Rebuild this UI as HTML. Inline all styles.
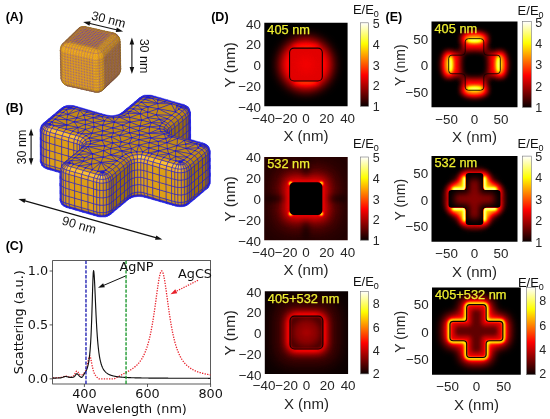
<!DOCTYPE html><html><head><meta charset="utf-8"><title>Figure</title><style>html,body{margin:0;padding:0;background:#fff}svg{display:block}</style></head><body><svg width="550" height="419" viewBox="0 0 550 419"><defs><filter id="hot" filterUnits="userSpaceOnUse" x="0" y="0" width="550" height="419" color-interpolation-filters="sRGB"><feComponentTransfer><feFuncR type="table" tableValues="0.000 0.083 0.167 0.250 0.333 0.417 0.500 0.583 0.667 0.750 0.833 0.917 1.000 1.000 1.000 1.000 1.000 1.000 1.000 1.000 1.000 1.000 1.000 1.000 1.000 1.000 1.000 1.000 1.000 1.000 1.000 1.000 1.000"/><feFuncG type="table" tableValues="0.000 0.000 0.000 0.000 0.000 0.000 0.000 0.000 0.000 0.000 0.000 0.000 0.000 0.083 0.167 0.250 0.333 0.417 0.500 0.583 0.667 0.750 0.833 0.917 1.000 1.000 1.000 1.000 1.000 1.000 1.000 1.000 1.000"/><feFuncB type="table" tableValues="0.000 0.000 0.000 0.000 0.000 0.000 0.000 0.000 0.000 0.000 0.000 0.000 0.000 0.000 0.000 0.000 0.000 0.000 0.000 0.000 0.000 0.000 0.000 0.000 0.000 0.125 0.250 0.375 0.500 0.625 0.750 0.875 1.000"/></feComponentTransfer></filter><filter id="b0_6" filterUnits="userSpaceOnUse" x="0" y="0" width="550" height="419" color-interpolation-filters="sRGB"><feGaussianBlur stdDeviation="0.6"/></filter><filter id="b1" filterUnits="userSpaceOnUse" x="0" y="0" width="550" height="419" color-interpolation-filters="sRGB"><feGaussianBlur stdDeviation="1"/></filter><filter id="b1_5" filterUnits="userSpaceOnUse" x="0" y="0" width="550" height="419" color-interpolation-filters="sRGB"><feGaussianBlur stdDeviation="1.5"/></filter><filter id="b2" filterUnits="userSpaceOnUse" x="0" y="0" width="550" height="419" color-interpolation-filters="sRGB"><feGaussianBlur stdDeviation="2"/></filter><filter id="b3" filterUnits="userSpaceOnUse" x="0" y="0" width="550" height="419" color-interpolation-filters="sRGB"><feGaussianBlur stdDeviation="3"/></filter><filter id="b4" filterUnits="userSpaceOnUse" x="0" y="0" width="550" height="419" color-interpolation-filters="sRGB"><feGaussianBlur stdDeviation="4"/></filter><filter id="b5" filterUnits="userSpaceOnUse" x="0" y="0" width="550" height="419" color-interpolation-filters="sRGB"><feGaussianBlur stdDeviation="5"/></filter><filter id="b6" filterUnits="userSpaceOnUse" x="0" y="0" width="550" height="419" color-interpolation-filters="sRGB"><feGaussianBlur stdDeviation="6"/></filter><filter id="b8" filterUnits="userSpaceOnUse" x="0" y="0" width="550" height="419" color-interpolation-filters="sRGB"><feGaussianBlur stdDeviation="8"/></filter><linearGradient id="cbar" x1="0" y1="1" x2="0" y2="0"><stop offset="0" stop-color="#0a0000"/><stop offset="0.375" stop-color="#ff0000"/><stop offset="0.75" stop-color="#ffff00"/><stop offset="1" stop-color="#ffffff"/></linearGradient><clipPath id="clipD0"><rect x="264.30" y="22.80" width="83.30" height="83.50"/></clipPath><clipPath id="clipD1"><rect x="264.20" y="157.00" width="83.50" height="83.20"/></clipPath><radialGradient id="d3in"><stop offset="0" stop-color="#404040"/><stop offset="0.6" stop-color="#333333"/><stop offset="1" stop-color="#1f1f1f"/></radialGradient><clipPath id="clipD2"><rect x="264.80" y="291.30" width="83.30" height="82.60"/></clipPath><clipPath id="clipE0"><rect x="431.50" y="21.60" width="86.00" height="85.70"/></clipPath><clipPath id="clipE1"><rect x="431.50" y="156.10" width="86.00" height="85.60"/></clipPath><clipPath id="clipE2"><rect x="432.00" y="287.40" width="88.80" height="87.30"/></clipPath><clipPath id="clipC"><rect x="52.60" y="260.60" width="158.00" height="123.40"/></clipPath><filter id="ol" filterUnits="userSpaceOnUse" x="20" y="80" width="210" height="150"><feMorphology in="SourceAlpha" operator="dilate" radius="0.7" result="d"/><feFlood flood-color="#1c1ce0"/><feComposite in2="d" operator="in" result="o"/><feMerge><feMergeNode in="o"/><feMergeNode in="SourceGraphic"/></feMerge></filter></defs><rect width="550" height="419" fill="#fff"/><g clip-path="url(#clipD0)"><g filter="url(#hot)"><rect x="259.30" y="17.80" width="93.30" height="93.50" fill="#000000"/><g filter="url(#b6)"><circle cx="305.95" cy="64.55" r="26.00" fill="#6b6b6b"/></g><g filter="url(#b2)"><ellipse cx="305.95" cy="82.45" rx="13.12" ry="2.2" fill="#787878"/><ellipse cx="305.95" cy="46.65" rx="13.12" ry="2.2" fill="#6b6b6b"/></g><rect x="289.55" y="48.15" width="32.80" height="32.80" rx="4.00" fill="#555555" /><g filter="url(#b4)"><circle cx="305.95" cy="64.55" r="8" fill="#5c5c5c"/></g></g><rect x="289.55" y="48.15" width="32.80" height="32.80" rx="4.50" fill="none" stroke="#100" stroke-width="1.1"/></g>
<text x="267.3" y="34.0" font-family="'Liberation Sans', sans-serif" font-size="12.8" fill="#eeee30" stroke="#eeee30" stroke-width="0.25">405 nm</text>
<text x="263.6" y="122.6" font-family="'Liberation Sans', sans-serif" font-size="13.4" fill="#262626" text-anchor="middle">−40</text>
<text x="286.0" y="122.6" font-family="'Liberation Sans', sans-serif" font-size="13.4" fill="#262626" text-anchor="middle">−20</text>
<text x="305.9" y="122.6" font-family="'Liberation Sans', sans-serif" font-size="13.4" fill="#262626" text-anchor="middle">0</text>
<text x="326.8" y="122.6" font-family="'Liberation Sans', sans-serif" font-size="13.4" fill="#262626" text-anchor="middle">20</text>
<text x="347.6" y="122.6" font-family="'Liberation Sans', sans-serif" font-size="13.4" fill="#262626" text-anchor="middle">40</text>
<text x="261.0" y="28.5" font-family="'Liberation Sans', sans-serif" font-size="13.4" fill="#262626" text-anchor="end">40</text>
<text x="261.0" y="49.3" font-family="'Liberation Sans', sans-serif" font-size="13.4" fill="#262626" text-anchor="end">20</text>
<text x="261.0" y="70.1" font-family="'Liberation Sans', sans-serif" font-size="13.4" fill="#262626" text-anchor="end">0</text>
<text x="261.0" y="91.0" font-family="'Liberation Sans', sans-serif" font-size="13.4" fill="#262626" text-anchor="end">−20</text>
<text x="261.0" y="111.8" font-family="'Liberation Sans', sans-serif" font-size="13.4" fill="#262626" text-anchor="end">−40</text>
<text x="305.9" y="141.3" font-family="'Liberation Sans', sans-serif" font-size="15" fill="#262626" text-anchor="middle">X (nm)</text>
<text transform="translate(235.4 64.8) rotate(-90)" font-family="'Liberation Sans', sans-serif" font-size="15.2" fill="#262626" text-anchor="middle">Y (nm)</text>
<rect x="360.40" y="22.80" width="8.30" height="83.50" fill="url(#cbar)" stroke="#777" stroke-width="0.6"/>
<text x="372.7" y="111.2" font-family="'Liberation Sans', sans-serif" font-size="12.5" fill="#262626">1</text>
<text x="372.7" y="90.3" font-family="'Liberation Sans', sans-serif" font-size="12.5" fill="#262626">2</text>
<text x="372.7" y="69.5" font-family="'Liberation Sans', sans-serif" font-size="12.5" fill="#262626">3</text>
<text x="372.7" y="48.6" font-family="'Liberation Sans', sans-serif" font-size="12.5" fill="#262626">4</text>
<text x="372.7" y="27.7" font-family="'Liberation Sans', sans-serif" font-size="12.5" fill="#262626">5</text>
<text x="352.9" y="14.4" font-family="'Liberation Sans', sans-serif" font-size="13" fill="#111">E/E<tspan font-size="9" dy="3">0</tspan></text>
<g clip-path="url(#clipD1)"><g filter="url(#hot)"><rect x="259.20" y="152.00" width="93.50" height="93.20" fill="#0e0e0e"/><g filter="url(#b8)"><rect x="276.55" y="169.20" width="58.80" height="58.80" rx="16.00" fill="#333333" /></g><g filter="url(#b4)"><rect x="285.05" y="177.70" width="41.80" height="41.80" rx="6.00" fill="#5c5c5c" /></g><g filter="url(#b1_5)"><rect x="289.05" y="181.70" width="33.80" height="33.80" rx="5.00" fill="none" stroke="#5c5c5c" stroke-width="1.6"/></g><g filter="url(#b1)"><circle cx="290.75" cy="183.40" r="1.7" fill="#ffffff"/><circle cx="290.75" cy="213.80" r="1.7" fill="#ffffff"/><circle cx="321.15" cy="183.40" r="1.7" fill="#ffffff"/><circle cx="321.15" cy="213.80" r="1.7" fill="#ffffff"/></g><g filter="url(#b3)"><ellipse cx="274.55" cy="198.60" rx="9.2" ry="2.2" fill="#000000"/><ellipse cx="337.35" cy="198.60" rx="9.2" ry="2.2" fill="#000000"/><ellipse cx="305.95" cy="167.20" rx="2.2" ry="9.2" fill="#000000"/><ellipse cx="305.95" cy="230.00" rx="2.2" ry="9.2" fill="#000000"/></g><g filter="url(#b0_6)"><rect x="289.55" y="182.20" width="32.80" height="32.80" rx="4.50" fill="#000000" /></g></g></g>
<text x="267.2" y="168.2" font-family="'Liberation Sans', sans-serif" font-size="12.8" fill="#eeee30" stroke="#eeee30" stroke-width="0.25">532 nm</text>
<text x="263.5" y="256.5" font-family="'Liberation Sans', sans-serif" font-size="13.4" fill="#262626" text-anchor="middle">−40</text>
<text x="286.0" y="256.5" font-family="'Liberation Sans', sans-serif" font-size="13.4" fill="#262626" text-anchor="middle">−20</text>
<text x="305.9" y="256.5" font-family="'Liberation Sans', sans-serif" font-size="13.4" fill="#262626" text-anchor="middle">0</text>
<text x="326.8" y="256.5" font-family="'Liberation Sans', sans-serif" font-size="13.4" fill="#262626" text-anchor="middle">20</text>
<text x="347.7" y="256.5" font-family="'Liberation Sans', sans-serif" font-size="13.4" fill="#262626" text-anchor="middle">40</text>
<text x="260.9" y="162.4" font-family="'Liberation Sans', sans-serif" font-size="13.4" fill="#262626" text-anchor="end">40</text>
<text x="260.9" y="183.3" font-family="'Liberation Sans', sans-serif" font-size="13.4" fill="#262626" text-anchor="end">20</text>
<text x="260.9" y="204.2" font-family="'Liberation Sans', sans-serif" font-size="13.4" fill="#262626" text-anchor="end">0</text>
<text x="260.9" y="225.1" font-family="'Liberation Sans', sans-serif" font-size="13.4" fill="#262626" text-anchor="end">−20</text>
<text x="260.9" y="245.9" font-family="'Liberation Sans', sans-serif" font-size="13.4" fill="#262626" text-anchor="end">−40</text>
<text x="305.9" y="275.2" font-family="'Liberation Sans', sans-serif" font-size="15" fill="#262626" text-anchor="middle">X (nm)</text>
<text transform="translate(235.4 198.8) rotate(-90)" font-family="'Liberation Sans', sans-serif" font-size="15.2" fill="#262626" text-anchor="middle">Y (nm)</text>
<rect x="360.40" y="157.00" width="8.30" height="83.20" fill="url(#cbar)" stroke="#777" stroke-width="0.6"/>
<text x="372.7" y="245.1" font-family="'Liberation Sans', sans-serif" font-size="12.5" fill="#262626">1</text>
<text x="372.7" y="224.3" font-family="'Liberation Sans', sans-serif" font-size="12.5" fill="#262626">2</text>
<text x="372.7" y="203.5" font-family="'Liberation Sans', sans-serif" font-size="12.5" fill="#262626">3</text>
<text x="372.7" y="182.7" font-family="'Liberation Sans', sans-serif" font-size="12.5" fill="#262626">4</text>
<text x="372.7" y="161.9" font-family="'Liberation Sans', sans-serif" font-size="12.5" fill="#262626">5</text>
<text x="352.9" y="147.7" font-family="'Liberation Sans', sans-serif" font-size="13" fill="#111">E/E<tspan font-size="9" dy="3">0</tspan></text>
<g clip-path="url(#clipD2)"><g filter="url(#hot)"><rect x="259.80" y="286.30" width="93.30" height="92.60" fill="#050505"/><g filter="url(#b8)"><rect x="276.05" y="302.20" width="60.80" height="60.80" rx="14.00" fill="#212121" /></g><g filter="url(#b4)"><rect x="287.05" y="313.20" width="38.80" height="38.80" rx="8.00" fill="#858585" /></g><g filter="url(#b1)"><rect x="290.05" y="316.20" width="32.80" height="32.80" rx="4.50" fill="url(#d3in)" /></g></g><rect x="290.05" y="316.20" width="32.80" height="32.80" rx="4.50" fill="none" stroke="#100" stroke-width="1.2"/></g>
<text x="267.8" y="302.5" font-family="'Liberation Sans', sans-serif" font-size="12.8" fill="#eeee30" stroke="#eeee30" stroke-width="0.25">405+532 nm</text>
<text x="264.1" y="390.2" font-family="'Liberation Sans', sans-serif" font-size="13.4" fill="#262626" text-anchor="middle">−40</text>
<text x="286.5" y="390.2" font-family="'Liberation Sans', sans-serif" font-size="13.4" fill="#262626" text-anchor="middle">−20</text>
<text x="306.4" y="390.2" font-family="'Liberation Sans', sans-serif" font-size="13.4" fill="#262626" text-anchor="middle">0</text>
<text x="327.3" y="390.2" font-family="'Liberation Sans', sans-serif" font-size="13.4" fill="#262626" text-anchor="middle">20</text>
<text x="348.1" y="390.2" font-family="'Liberation Sans', sans-serif" font-size="13.4" fill="#262626" text-anchor="middle">40</text>
<text x="261.5" y="296.6" font-family="'Liberation Sans', sans-serif" font-size="13.4" fill="#262626" text-anchor="end">40</text>
<text x="261.5" y="317.4" font-family="'Liberation Sans', sans-serif" font-size="13.4" fill="#262626" text-anchor="end">20</text>
<text x="261.5" y="338.2" font-family="'Liberation Sans', sans-serif" font-size="13.4" fill="#262626" text-anchor="end">0</text>
<text x="261.5" y="359.0" font-family="'Liberation Sans', sans-serif" font-size="13.4" fill="#262626" text-anchor="end">−20</text>
<text x="261.5" y="379.9" font-family="'Liberation Sans', sans-serif" font-size="13.4" fill="#262626" text-anchor="end">−40</text>
<text x="306.4" y="408.9" font-family="'Liberation Sans', sans-serif" font-size="15" fill="#262626" text-anchor="middle">X (nm)</text>
<text transform="translate(235.4 332.8) rotate(-90)" font-family="'Liberation Sans', sans-serif" font-size="15.2" fill="#262626" text-anchor="middle">Y (nm)</text>
<rect x="360.40" y="291.30" width="8.30" height="82.60" fill="url(#cbar)" stroke="#777" stroke-width="0.6"/>
<text x="372.7" y="377.6" font-family="'Liberation Sans', sans-serif" font-size="12.5" fill="#262626">2</text>
<text x="372.7" y="354.8" font-family="'Liberation Sans', sans-serif" font-size="12.5" fill="#262626">4</text>
<text x="372.7" y="331.5" font-family="'Liberation Sans', sans-serif" font-size="12.5" fill="#262626">6</text>
<text x="372.7" y="308.4" font-family="'Liberation Sans', sans-serif" font-size="12.5" fill="#262626">8</text>
<text x="352.9" y="285.8" font-family="'Liberation Sans', sans-serif" font-size="13" fill="#111">E/E<tspan font-size="9" dy="3">0</tspan></text>
<g clip-path="url(#clipE0)"><g filter="url(#hot)"><rect x="426.50" y="16.60" width="96.00" height="95.70" fill="#000000"/><g filter="url(#b3)"><rect x="488.80" y="55.15" width="11.50" height="18.60" fill="#5c5c5c" stroke="#666666" stroke-width="5"/><rect x="448.70" y="55.15" width="11.50" height="18.60" fill="#5c5c5c" stroke="#666666" stroke-width="5"/><rect x="465.20" y="78.75" width="18.60" height="11.50" fill="#5c5c5c" stroke="#666666" stroke-width="5"/><rect x="465.20" y="38.65" width="18.60" height="11.50" fill="#5c5c5c" stroke="#666666" stroke-width="5"/></g><g filter="url(#b3)"><ellipse cx="500.80" cy="64.45" rx="5.50" ry="12.30" fill="#9e9e9e"/><ellipse cx="448.20" cy="64.45" rx="5.50" ry="12.30" fill="#9e9e9e"/><ellipse cx="474.50" cy="90.75" rx="12.30" ry="5.50" fill="#9e9e9e"/><ellipse cx="474.50" cy="38.15" rx="12.30" ry="5.50" fill="#9e9e9e"/></g><g filter="url(#b1_5)"><ellipse cx="498.50" cy="64.45" rx="2.00" ry="8.10" fill="#e6e6e6"/><ellipse cx="450.50" cy="64.45" rx="2.00" ry="8.10" fill="#e6e6e6"/><ellipse cx="474.50" cy="88.45" rx="8.10" ry="2.00" fill="#e6e6e6"/><ellipse cx="474.50" cy="40.45" rx="8.10" ry="2.00" fill="#e6e6e6"/></g><g filter="url(#b4)"><rect x="462.20" y="52.15" width="24.60" height="24.60" rx="4.00" fill="#000000" /></g></g><path d="M465.20 41.85 Q465.20 38.65 468.40 38.65 L480.60 38.65 Q483.80 38.65 483.80 41.85 L483.80 51.95 Q483.80 55.15 487.00 55.15 L497.10 55.15 Q500.30 55.15 500.30 58.35 L500.30 70.55 Q500.30 73.75 497.10 73.75 L487.00 73.75 Q483.80 73.75 483.80 76.95 L483.80 87.05 Q483.80 90.25 480.60 90.25 L468.40 90.25 Q465.20 90.25 465.20 87.05 L465.20 76.95 Q465.20 73.75 462.00 73.75 L451.90 73.75 Q448.70 73.75 448.70 70.55 L448.70 58.35 Q448.70 55.15 451.90 55.15 L462.00 55.15 Q465.20 55.15 465.20 51.95 Z" fill="none" stroke="#100" stroke-width="0.9"/></g>
<text x="434.5" y="32.8" font-family="'Liberation Sans', sans-serif" font-size="12.8" fill="#eeee30" stroke="#eeee30" stroke-width="0.25">405 nm</text>
<text x="446.5" y="123.6" font-family="'Liberation Sans', sans-serif" font-size="13.4" fill="#262626" text-anchor="middle">−50</text>
<text x="474.5" y="123.6" font-family="'Liberation Sans', sans-serif" font-size="13.4" fill="#262626" text-anchor="middle">0</text>
<text x="501.0" y="123.6" font-family="'Liberation Sans', sans-serif" font-size="13.4" fill="#262626" text-anchor="middle">50</text>
<text x="428.2" y="43.5" font-family="'Liberation Sans', sans-serif" font-size="13.4" fill="#262626" text-anchor="end">50</text>
<text x="428.2" y="70.0" font-family="'Liberation Sans', sans-serif" font-size="13.4" fill="#262626" text-anchor="end">0</text>
<text x="428.2" y="96.6" font-family="'Liberation Sans', sans-serif" font-size="13.4" fill="#262626" text-anchor="end">−50</text>
<text x="474.5" y="142.3" font-family="'Liberation Sans', sans-serif" font-size="15" fill="#262626" text-anchor="middle">X (nm)</text>
<text transform="translate(404.6 65.2) rotate(-90)" font-family="'Liberation Sans', sans-serif" font-size="14" fill="#262626" text-anchor="middle">Y (nm)</text>
<rect x="522.60" y="21.60" width="8.70" height="85.70" fill="url(#cbar)" stroke="#777" stroke-width="0.6"/>
<text x="535.3" y="112.2" font-family="'Liberation Sans', sans-serif" font-size="12.5" fill="#262626">1</text>
<text x="535.3" y="90.8" font-family="'Liberation Sans', sans-serif" font-size="12.5" fill="#262626">2</text>
<text x="535.3" y="69.4" font-family="'Liberation Sans', sans-serif" font-size="12.5" fill="#262626">3</text>
<text x="535.3" y="47.9" font-family="'Liberation Sans', sans-serif" font-size="12.5" fill="#262626">4</text>
<text x="535.3" y="26.5" font-family="'Liberation Sans', sans-serif" font-size="12.5" fill="#262626">5</text>
<text x="517.6" y="14.9" font-family="'Liberation Sans', sans-serif" font-size="13" fill="#111">E/E<tspan font-size="9" dy="3">0</tspan></text>
<g clip-path="url(#clipE1)"><g filter="url(#hot)"><rect x="426.50" y="151.10" width="96.00" height="95.60" fill="#000000"/><g filter="url(#b3)"><path d="M463.20 174.40 Q463.20 170.40 467.20 170.40 L481.80 170.40 Q485.80 170.40 485.80 174.40 L485.80 183.60 Q485.80 187.60 489.80 187.60 L499.00 187.60 Q503.00 187.60 503.00 191.60 L503.00 206.20 Q503.00 210.20 499.00 210.20 L489.80 210.20 Q485.80 210.20 485.80 214.20 L485.80 223.40 Q485.80 227.40 481.80 227.40 L467.20 227.40 Q463.20 227.40 463.20 223.40 L463.20 214.20 Q463.20 210.20 459.20 210.20 L450.00 210.20 Q446.00 210.20 446.00 206.20 L446.00 191.60 Q446.00 187.60 450.00 187.60 L459.20 187.60 Q463.20 187.60 463.20 183.60 Z" fill="#4c4c4c"/></g><g filter="url(#b4)"><circle cx="474.50" cy="198.90" r="24.70" fill="#808080"/></g><g filter="url(#b3)"><path d="M464.90 178.30 L464.90 189.30 L453.90 189.30" fill="none" stroke="#b2b2b2" stroke-width="8" stroke-linejoin="round" stroke-linecap="round"/><path d="M464.90 219.50 L464.90 208.50 L453.90 208.50" fill="none" stroke="#b2b2b2" stroke-width="8" stroke-linejoin="round" stroke-linecap="round"/><path d="M484.10 178.30 L484.10 189.30 L495.10 189.30" fill="none" stroke="#b2b2b2" stroke-width="8" stroke-linejoin="round" stroke-linecap="round"/><path d="M484.10 219.50 L484.10 208.50 L495.10 208.50" fill="none" stroke="#b2b2b2" stroke-width="8" stroke-linejoin="round" stroke-linecap="round"/></g><g filter="url(#b1)"><path d="M464.90 178.30 L464.90 189.30 L453.90 189.30" fill="none" stroke="#ffffff" stroke-width="3" stroke-linejoin="round" stroke-linecap="round"/><path d="M464.90 219.50 L464.90 208.50 L453.90 208.50" fill="none" stroke="#ffffff" stroke-width="3" stroke-linejoin="round" stroke-linecap="round"/><path d="M484.10 178.30 L484.10 189.30 L495.10 189.30" fill="none" stroke="#ffffff" stroke-width="3" stroke-linejoin="round" stroke-linecap="round"/><path d="M484.10 219.50 L484.10 208.50 L495.10 208.50" fill="none" stroke="#ffffff" stroke-width="3" stroke-linejoin="round" stroke-linecap="round"/></g><g filter="url(#b0_6)"><path d="M465.70 176.10 Q465.70 172.90 468.90 172.90 L480.10 172.90 Q483.30 172.90 483.30 176.10 L483.30 186.90 Q483.30 190.10 486.50 190.10 L497.30 190.10 Q500.50 190.10 500.50 193.30 L500.50 204.50 Q500.50 207.70 497.30 207.70 L486.50 207.70 Q483.30 207.70 483.30 210.90 L483.30 221.70 Q483.30 224.90 480.10 224.90 L468.90 224.90 Q465.70 224.90 465.70 221.70 L465.70 210.90 Q465.70 207.70 462.50 207.70 L451.70 207.70 Q448.50 207.70 448.50 204.50 L448.50 193.30 Q448.50 190.10 451.70 190.10 L462.50 190.10 Q465.70 190.10 465.70 186.90 Z" fill="#000000"/></g><g filter="url(#b3)"><path d="M469.20 180.90 Q469.20 178.90 471.20 178.90 L477.80 178.90 Q479.80 178.90 479.80 180.90 L479.80 191.60 Q479.80 193.60 481.80 193.60 L492.50 193.60 Q494.50 193.60 494.50 195.60 L494.50 202.20 Q494.50 204.20 492.50 204.20 L481.80 204.20 Q479.80 204.20 479.80 206.20 L479.80 216.90 Q479.80 218.90 477.80 218.90 L471.20 218.90 Q469.20 218.90 469.20 216.90 L469.20 206.20 Q469.20 204.20 467.20 204.20 L456.50 204.20 Q454.50 204.20 454.50 202.20 L454.50 195.60 Q454.50 193.60 456.50 193.60 L467.20 193.60 Q469.20 193.60 469.20 191.60 Z" fill="#333333"/></g></g></g>
<text x="434.5" y="167.3" font-family="'Liberation Sans', sans-serif" font-size="12.8" fill="#eeee30" stroke="#eeee30" stroke-width="0.25">532 nm</text>
<text x="446.5" y="258.0" font-family="'Liberation Sans', sans-serif" font-size="13.4" fill="#262626" text-anchor="middle">−50</text>
<text x="474.5" y="258.0" font-family="'Liberation Sans', sans-serif" font-size="13.4" fill="#262626" text-anchor="middle">0</text>
<text x="501.0" y="258.0" font-family="'Liberation Sans', sans-serif" font-size="13.4" fill="#262626" text-anchor="middle">50</text>
<text x="428.2" y="178.0" font-family="'Liberation Sans', sans-serif" font-size="13.4" fill="#262626" text-anchor="end">50</text>
<text x="428.2" y="204.5" font-family="'Liberation Sans', sans-serif" font-size="13.4" fill="#262626" text-anchor="end">0</text>
<text x="428.2" y="231.0" font-family="'Liberation Sans', sans-serif" font-size="13.4" fill="#262626" text-anchor="end">−50</text>
<text x="474.5" y="276.7" font-family="'Liberation Sans', sans-serif" font-size="15" fill="#262626" text-anchor="middle">X (nm)</text>
<text transform="translate(404.6 199.7) rotate(-90)" font-family="'Liberation Sans', sans-serif" font-size="14" fill="#262626" text-anchor="middle">Y (nm)</text>
<rect x="522.60" y="156.10" width="8.70" height="85.60" fill="url(#cbar)" stroke="#777" stroke-width="0.6"/>
<text x="535.3" y="246.6" font-family="'Liberation Sans', sans-serif" font-size="12.5" fill="#262626">1</text>
<text x="535.3" y="225.2" font-family="'Liberation Sans', sans-serif" font-size="12.5" fill="#262626">2</text>
<text x="535.3" y="203.8" font-family="'Liberation Sans', sans-serif" font-size="12.5" fill="#262626">3</text>
<text x="535.3" y="182.4" font-family="'Liberation Sans', sans-serif" font-size="12.5" fill="#262626">4</text>
<text x="535.3" y="161.0" font-family="'Liberation Sans', sans-serif" font-size="12.5" fill="#262626">5</text>
<text x="517.6" y="148.3" font-family="'Liberation Sans', sans-serif" font-size="13" fill="#111">E/E<tspan font-size="9" dy="3">0</tspan></text>
<g clip-path="url(#clipE2)"><g filter="url(#hot)"><rect x="427.00" y="282.40" width="98.80" height="97.30" fill="#000000"/><g filter="url(#b5)"><path d="M466.69 307.82 Q466.69 304.62 469.89 304.62 L482.91 304.62 Q486.11 304.62 486.11 307.82 L486.11 318.14 Q486.11 321.34 489.31 321.34 L499.63 321.34 Q502.83 321.34 502.83 324.54 L502.83 337.56 Q502.83 340.76 499.63 340.76 L489.31 340.76 Q486.11 340.76 486.11 343.96 L486.11 354.28 Q486.11 357.48 482.91 357.48 L469.89 357.48 Q466.69 357.48 466.69 354.28 L466.69 343.96 Q466.69 340.76 463.49 340.76 L453.17 340.76 Q449.97 340.76 449.97 337.56 L449.97 324.54 Q449.97 321.34 453.17 321.34 L463.49 321.34 Q466.69 321.34 466.69 318.14 Z" fill="#6b6b6b" stroke="#6b6b6b" stroke-width="13"/></g><g filter="url(#b2)"><path d="M466.69 307.82 Q466.69 304.62 469.89 304.62 L482.91 304.62 Q486.11 304.62 486.11 307.82 L486.11 318.14 Q486.11 321.34 489.31 321.34 L499.63 321.34 Q502.83 321.34 502.83 324.54 L502.83 337.56 Q502.83 340.76 499.63 340.76 L489.31 340.76 Q486.11 340.76 486.11 343.96 L486.11 354.28 Q486.11 357.48 482.91 357.48 L469.89 357.48 Q466.69 357.48 466.69 354.28 L466.69 343.96 Q466.69 340.76 463.49 340.76 L453.17 340.76 Q449.97 340.76 449.97 337.56 L449.97 324.54 Q449.97 321.34 453.17 321.34 L463.49 321.34 Q466.69 321.34 466.69 318.14 Z" fill="none" stroke="#8c8c8c" stroke-width="5"/></g><g filter="url(#b1)"><path d="M465.79 307.32 Q465.79 303.72 469.39 303.72 L483.41 303.72 Q487.01 303.72 487.01 307.32 L487.01 316.84 Q487.01 320.44 490.61 320.44 L500.13 320.44 Q503.73 320.44 503.73 324.04 L503.73 338.06 Q503.73 341.66 500.13 341.66 L490.61 341.66 Q487.01 341.66 487.01 345.26 L487.01 354.78 Q487.01 358.38 483.41 358.38 L469.39 358.38 Q465.79 358.38 465.79 354.78 L465.79 345.26 Q465.79 341.66 462.19 341.66 L452.67 341.66 Q449.07 341.66 449.07 338.06 L449.07 324.04 Q449.07 320.44 452.67 320.44 L462.19 320.44 Q465.79 320.44 465.79 316.84 Z" fill="none" stroke="#d6d6d6" stroke-width="2.0"/></g><g filter="url(#b1)"><path d="M467.69 308.12 Q467.69 305.62 470.19 305.62 L482.61 305.62 Q485.11 305.62 485.11 308.12 L485.11 319.84 Q485.11 322.34 487.61 322.34 L499.33 322.34 Q501.83 322.34 501.83 324.84 L501.83 337.26 Q501.83 339.76 499.33 339.76 L487.61 339.76 Q485.11 339.76 485.11 342.26 L485.11 353.98 Q485.11 356.48 482.61 356.48 L470.19 356.48 Q467.69 356.48 467.69 353.98 L467.69 342.26 Q467.69 339.76 465.19 339.76 L453.47 339.76 Q450.97 339.76 450.97 337.26 L450.97 324.84 Q450.97 322.34 453.47 322.34 L465.19 322.34 Q467.69 322.34 467.69 319.84 Z" fill="#575757"/></g><g filter="url(#b2)"><path d="M471.19 311.62 Q471.19 309.62 473.19 309.62 L479.61 309.62 Q481.61 309.62 481.61 311.62 L481.61 323.84 Q481.61 325.84 483.61 325.84 L495.83 325.84 Q497.83 325.84 497.83 327.84 L497.83 334.26 Q497.83 336.26 495.83 336.26 L483.61 336.26 Q481.61 336.26 481.61 338.26 L481.61 350.48 Q481.61 352.48 479.61 352.48 L473.19 352.48 Q471.19 352.48 471.19 350.48 L471.19 338.26 Q471.19 336.26 469.19 336.26 L456.97 336.26 Q454.97 336.26 454.97 334.26 L454.97 327.84 Q454.97 325.84 456.97 325.84 L469.19 325.84 Q471.19 325.84 471.19 323.84 Z" fill="#242424"/></g></g><path d="M466.69 307.82 Q466.69 304.62 469.89 304.62 L482.91 304.62 Q486.11 304.62 486.11 307.82 L486.11 318.14 Q486.11 321.34 489.31 321.34 L499.63 321.34 Q502.83 321.34 502.83 324.54 L502.83 337.56 Q502.83 340.76 499.63 340.76 L489.31 340.76 Q486.11 340.76 486.11 343.96 L486.11 354.28 Q486.11 357.48 482.91 357.48 L469.89 357.48 Q466.69 357.48 466.69 354.28 L466.69 343.96 Q466.69 340.76 463.49 340.76 L453.17 340.76 Q449.97 340.76 449.97 337.56 L449.97 324.54 Q449.97 321.34 453.17 321.34 L463.49 321.34 Q466.69 321.34 466.69 318.14 Z" fill="none" stroke="#100" stroke-width="1.2"/></g>
<text x="435.0" y="298.6" font-family="'Liberation Sans', sans-serif" font-size="12.8" fill="#eeee30" stroke="#eeee30" stroke-width="0.25">405+532 nm</text>
<text x="447.5" y="391.0" font-family="'Liberation Sans', sans-serif" font-size="13.4" fill="#262626" text-anchor="middle">−50</text>
<text x="476.4" y="391.0" font-family="'Liberation Sans', sans-serif" font-size="13.4" fill="#262626" text-anchor="middle">0</text>
<text x="503.8" y="391.0" font-family="'Liberation Sans', sans-serif" font-size="13.4" fill="#262626" text-anchor="middle">50</text>
<text x="428.7" y="309.2" font-family="'Liberation Sans', sans-serif" font-size="13.4" fill="#262626" text-anchor="end">50</text>
<text x="428.7" y="336.6" font-family="'Liberation Sans', sans-serif" font-size="13.4" fill="#262626" text-anchor="end">0</text>
<text x="428.7" y="364.1" font-family="'Liberation Sans', sans-serif" font-size="13.4" fill="#262626" text-anchor="end">−50</text>
<text x="476.4" y="409.7" font-family="'Liberation Sans', sans-serif" font-size="15" fill="#262626" text-anchor="middle">X (nm)</text>
<text transform="translate(404.6 331.8) rotate(-90)" font-family="'Liberation Sans', sans-serif" font-size="14" fill="#262626" text-anchor="middle">Y (nm)</text>
<rect x="526.60" y="287.40" width="8.70" height="87.30" fill="url(#cbar)" stroke="#777" stroke-width="0.6"/>
<text x="539.3" y="378.3" font-family="'Liberation Sans', sans-serif" font-size="12.5" fill="#262626">2</text>
<text x="539.3" y="354.3" font-family="'Liberation Sans', sans-serif" font-size="12.5" fill="#262626">4</text>
<text x="539.3" y="329.6" font-family="'Liberation Sans', sans-serif" font-size="12.5" fill="#262626">6</text>
<text x="539.3" y="305.2" font-family="'Liberation Sans', sans-serif" font-size="12.5" fill="#262626">8</text>
<text x="517.9" y="286.8" font-family="'Liberation Sans', sans-serif" font-size="13" fill="#111">E/E<tspan font-size="9" dy="3">0</tspan></text>
<text x="5.7" y="21.3" font-family="'Liberation Sans', sans-serif" font-size="12.5" font-weight="bold" fill="#000">(A)</text>
<text x="5.7" y="111.9" font-family="'Liberation Sans', sans-serif" font-size="12.5" font-weight="bold" fill="#000">(B)</text>
<text x="5.7" y="249.6" font-family="'Liberation Sans', sans-serif" font-size="12.5" font-weight="bold" fill="#000">(C)</text>
<text x="211.2" y="21.0" font-family="'Liberation Sans', sans-serif" font-size="12.5" font-weight="bold" fill="#000">(D)</text>
<text x="385.5" y="21.4" font-family="'Liberation Sans', sans-serif" font-size="12.5" font-weight="bold" fill="#000">(E)</text>
<rect x="52.60" y="260.60" width="158.00" height="123.40" fill="#fff" stroke="#333" stroke-width="0.8"/><g clip-path="url(#clipC)"><path d="M52.85 377.86L53.17 377.85L53.48 377.84L53.80 377.84L54.11 377.83L54.43 377.82L54.74 377.81L55.06 377.81L55.37 377.80L55.69 377.79L56.00 377.78L56.32 377.77L56.64 377.77L56.95 377.76L57.27 377.75L57.58 377.74L57.90 377.73L58.21 377.72L58.53 377.70L58.84 377.69L59.16 377.67L59.48 377.65L59.79 377.63L60.11 377.59L60.42 377.56L60.74 377.51L61.05 377.45L61.37 377.39L61.68 377.31L62.00 377.22L62.31 377.12L62.63 377.00L62.95 376.89L63.26 376.76L63.58 376.64L63.89 376.52L64.21 376.42L64.52 376.32L64.84 376.25L65.15 376.20L65.47 376.17L65.79 376.17L66.10 376.19L66.42 376.24L66.73 376.30L67.05 376.38L67.36 376.47L67.68 376.56L67.99 376.65L68.31 376.74L68.62 376.82L68.94 376.90L69.26 376.95L69.57 377.00L69.89 377.04L70.20 377.06L70.52 377.07L70.83 377.06L71.15 377.05L71.46 377.01L71.78 376.96L72.10 376.88L72.41 376.77L72.73 376.61L73.04 376.40L73.36 376.13L73.67 375.78L73.99 375.36L74.30 374.86L74.62 374.30L74.94 373.70L75.25 373.09L75.57 372.50L75.88 371.97L76.20 371.54L76.51 371.25L76.83 371.12L77.14 371.15L77.46 371.34L77.77 371.66L78.09 372.08L78.41 372.57L78.72 373.07L79.04 373.56L79.35 374.00L79.67 374.37L79.98 374.67L80.30 374.88L80.61 375.01L80.93 375.07L81.25 375.06L81.56 375.01L81.88 374.90L82.19 374.76L82.51 374.58L82.82 374.37L83.14 374.13L83.45 373.85L83.77 373.54L84.08 373.18L84.40 372.78L84.72 372.32L85.03 371.79L85.35 371.19L85.66 370.51L85.98 369.73L86.29 368.83L86.61 367.82L86.92 366.67L87.24 365.38L87.55 363.97L87.87 362.45L88.19 360.87L88.50 359.31L88.82 357.90L89.13 356.76L89.45 356.02L89.76 355.81L90.08 356.15L90.39 357.00L90.71 358.27L91.03 359.81L91.34 361.49L91.66 363.19L91.97 364.83L92.29 366.37L92.60 367.77L92.92 369.04L93.23 370.18L93.55 371.20L93.86 372.10L94.18 372.90L94.50 373.62L94.81 374.26L95.13 374.83L95.44 375.35L95.76 375.83L96.07 376.25L96.39 376.65L96.70 377.00L97.02 377.34L97.34 377.64L97.65 377.92L97.97 378.19L98.28 378.43L98.60 378.66L98.91 378.80L99.23 378.80L99.54 378.80L99.86 378.80L100.17 378.80L100.49 378.80L100.81 378.80L101.12 378.80L101.44 378.80L101.75 378.80L102.07 378.80L102.38 378.80L102.70 378.80L103.01 378.80L103.33 378.80L103.65 378.80L103.96 378.80L104.28 378.80L104.59 378.80L104.91 378.80L105.22 378.80L105.54 378.80L105.85 378.80L106.17 378.80L106.48 378.80L106.80 378.80L107.12 378.80L107.43 378.80L107.75 378.80L108.06 378.80L108.38 378.80L108.69 378.80L109.01 378.80L109.32 378.80L109.64 378.80L109.96 378.80L110.27 378.80L110.59 378.80L110.90 378.80L111.22 378.80L111.53 378.80L111.85 378.80L112.16 378.80L112.48 378.80L112.79 378.80L113.11 378.80L113.43 378.80L113.74 378.80L114.06 378.80L114.37 378.71L114.69 378.56L115.00 378.40L115.32 378.24L115.63 378.08L115.95 377.91L116.27 377.75L116.58 377.58L116.90 377.41L117.21 377.24L117.53 377.07L117.84 376.90L118.16 376.73L118.47 376.55L118.79 376.38L119.10 376.21L119.42 376.03L119.74 375.86L120.05 375.69L120.37 375.51L120.68 375.34L121.00 375.17L121.31 375.00L121.63 374.82L121.94 374.65L122.26 374.48L122.58 374.31L122.89 374.14L123.21 373.97L123.52 373.80L123.84 373.63L124.15 373.47L124.47 373.30L124.78 373.13L125.10 372.96L125.41 372.79L125.73 372.62L126.05 372.45L126.36 372.28L126.68 372.11L126.99 371.94L127.31 371.77L127.62 371.60L127.94 371.42L128.25 371.25L128.57 371.07L128.89 370.89L129.20 370.71L129.52 370.53L129.83 370.34L130.15 370.16L130.46 369.97L130.78 369.77L131.09 369.58L131.41 369.38L131.72 369.17L132.04 368.97L132.36 368.75L132.67 368.54L132.99 368.32L133.30 368.09L133.62 367.86L133.93 367.62L134.25 367.38L134.56 367.13L134.88 366.88L135.20 366.62L135.51 366.35L135.83 366.07L136.14 365.79L136.46 365.49L136.77 365.19L137.09 364.88L137.40 364.56L137.72 364.24L138.03 363.90L138.35 363.54L138.67 363.18L138.98 362.81L139.30 362.42L139.61 362.02L139.93 361.61L140.24 361.19L140.56 360.74L140.87 360.29L141.19 359.82L141.51 359.33L141.82 358.82L142.14 358.29L142.45 357.75L142.77 357.18L143.08 356.60L143.40 355.99L143.71 355.36L144.03 354.70L144.34 354.03L144.66 353.32L144.98 352.59L145.29 351.82L145.61 351.03L145.92 350.21L146.24 349.35L146.55 348.46L146.87 347.54L147.18 346.58L147.50 345.58L147.82 344.54L148.13 343.45L148.45 342.33L148.76 341.16L149.08 339.94L149.39 338.68L149.71 337.36L150.02 335.99L150.34 334.57L150.66 333.09L150.97 331.56L151.29 329.97L151.60 328.33L151.92 326.62L152.23 324.85L152.55 323.03L152.86 321.14L153.18 319.20L153.49 317.19L153.81 315.14L154.13 313.02L154.44 310.86L154.76 308.66L155.07 306.41L155.39 304.13L155.70 301.82L156.02 299.49L156.33 297.16L156.65 294.83L156.97 292.52L157.28 290.24L157.60 288.00L157.91 285.83L158.23 283.74L158.54 281.74L158.86 279.86L159.17 278.12L159.49 276.53L159.80 275.11L160.12 273.88L160.44 272.85L160.75 272.03L161.07 271.44L161.38 271.08L161.70 270.96L162.01 271.08L162.33 271.44L162.64 272.03L162.96 272.85L163.27 273.88L163.59 275.11L163.91 276.53L164.22 278.12L164.54 279.87L164.85 281.75L165.17 283.74L165.48 285.84L165.80 288.01L166.11 290.25L166.43 292.53L166.75 294.84L167.06 297.17L167.38 299.51L167.69 301.83L168.01 304.14L168.32 306.42L168.64 308.67L168.95 310.88L169.27 313.04L169.58 315.15L169.90 317.21L170.22 319.21L170.53 321.16L170.85 323.05L171.16 324.87L171.48 326.64L171.79 328.35L172.11 329.99L172.42 331.58L172.74 333.12L173.06 334.59L173.37 336.01L173.69 337.38L174.00 338.70L174.32 339.97L174.63 341.18L174.95 342.36L175.26 343.48L175.58 344.57L175.89 345.61L176.21 346.61L176.53 347.57L176.84 348.50L177.16 349.39L177.47 350.24L177.79 351.06L178.10 351.86L178.42 352.62L178.73 353.35L179.05 354.06L179.37 354.74L179.68 355.39L180.00 356.02L180.31 356.63L180.63 357.22L180.94 357.78L181.26 358.33L181.57 358.85L181.89 359.36L182.20 359.85L182.52 360.32L182.84 360.78L183.15 361.22L183.47 361.64L183.78 362.05L184.10 362.45L184.41 362.83L184.73 363.20L185.04 363.56L185.36 363.91L185.68 364.25L185.99 364.57L186.31 364.89L186.62 365.19L186.94 365.49L187.25 365.78L187.57 366.06L187.88 366.33L188.20 366.59L188.51 366.84L188.83 367.09L189.15 367.33L189.46 367.56L189.78 367.78L190.09 368.00L190.41 368.21L190.72 368.42L191.04 368.62L191.35 368.82L191.67 369.01L191.99 369.19L192.30 369.37L192.62 369.55L192.93 369.72L193.25 369.88L193.56 370.04L193.88 370.20L194.19 370.35L194.51 370.50L194.82 370.65L195.14 370.79L195.46 370.93L195.77 371.06L196.09 371.19L196.40 371.32L196.72 371.45L197.03 371.57L197.35 371.69L197.66 371.80L197.98 371.92L198.30 372.03L198.61 372.13L198.93 372.24L199.24 372.34L199.56 372.44L199.87 372.54L200.19 372.64L200.50 372.73L200.82 372.82L201.13 372.91L201.45 373.00L201.77 373.09L202.08 373.17L202.40 373.25L202.71 373.34L203.03 373.41L203.34 373.49L203.66 373.57L203.97 373.64L204.29 373.71L204.61 373.78L204.92 373.85L205.24 373.92L205.55 373.99L205.87 374.05L206.18 374.12L206.50 374.18L206.81 374.24L207.13 374.30L207.44 374.36L207.76 374.42L208.08 374.48L208.39 374.53L208.71 374.59L209.02 374.64L209.34 374.69L209.65 374.75L209.97 374.80L210.28 374.85L210.60 374.90" fill="none" stroke="#e8202a" stroke-width="1.3" stroke-dasharray="1.3 1.3"/><path d="M52.85 378.10L53.17 378.09L53.48 378.09L53.80 378.08L54.11 378.08L54.43 378.07L54.74 378.07L55.06 378.06L55.37 378.06L55.69 378.05L56.00 378.05L56.32 378.04L56.64 378.04L56.95 378.03L57.27 378.02L57.58 378.02L57.90 378.01L58.21 378.00L58.53 377.99L58.84 377.98L59.16 377.96L59.48 377.94L59.79 377.92L60.11 377.89L60.42 377.86L60.74 377.81L61.05 377.76L61.37 377.69L61.68 377.62L62.00 377.53L62.31 377.43L62.63 377.32L62.95 377.20L63.26 377.08L63.58 376.96L63.89 376.85L64.21 376.74L64.52 376.65L64.84 376.58L65.15 376.53L65.47 376.50L65.79 376.50L66.10 376.53L66.42 376.57L66.73 376.64L67.05 376.72L67.36 376.81L67.68 376.90L67.99 377.00L68.31 377.09L68.62 377.17L68.94 377.24L69.26 377.30L69.57 377.35L69.89 377.38L70.20 377.41L70.52 377.42L70.83 377.43L71.15 377.42L71.46 377.41L71.78 377.39L72.10 377.37L72.41 377.34L72.73 377.30L73.04 377.24L73.36 377.16L73.67 377.04L73.99 376.88L74.30 376.65L74.62 376.34L74.94 375.97L75.25 375.52L75.57 375.05L75.88 374.59L76.20 374.18L76.51 373.89L76.83 373.75L77.14 373.78L77.46 373.95L77.77 374.25L78.09 374.61L78.41 375.00L78.72 375.37L79.04 375.71L79.35 376.02L79.67 376.30L79.98 376.57L80.30 376.82L80.61 377.05L80.93 377.25L81.25 377.37L81.56 377.40L81.88 377.30L82.19 377.06L82.51 376.70L82.82 376.25L83.14 375.73L83.45 375.17L83.77 374.62L84.08 374.09L84.40 373.58L84.72 373.08L85.03 372.60L85.35 372.10L85.66 371.58L85.98 371.02L86.29 370.41L86.61 369.72L86.92 368.95L87.24 368.07L87.55 367.07L87.87 365.93L88.19 364.62L88.50 363.10L88.82 361.33L89.13 359.25L89.45 356.81L89.76 353.91L90.08 350.47L90.39 346.35L90.71 341.42L91.03 335.50L91.34 328.46L91.66 320.16L91.97 310.64L92.29 300.18L92.60 289.50L92.92 279.89L93.23 273.06L93.55 270.57L93.86 271.75L94.18 275.14L94.50 280.34L94.81 286.80L95.13 293.95L95.44 301.31L95.76 308.50L96.07 315.30L96.39 321.56L96.70 327.23L97.02 332.31L97.34 336.84L97.65 340.84L97.97 344.38L98.28 347.51L98.60 350.27L98.91 352.72L99.23 354.88L99.54 356.81L99.86 358.52L100.17 360.06L100.49 361.43L100.81 362.66L101.12 363.77L101.44 364.77L101.75 365.67L102.07 366.49L102.38 367.24L102.70 367.92L103.01 368.54L103.33 369.11L103.65 369.64L103.96 370.12L104.28 370.56L104.59 370.97L104.91 371.35L105.22 371.70L105.54 372.03L105.85 372.33L106.17 372.61L106.48 372.88L106.80 373.12L107.12 373.35L107.43 373.57L107.75 373.77L108.06 373.96L108.38 374.14L108.69 374.31L109.01 374.46L109.32 374.61L109.64 374.75L109.96 374.89L110.27 375.01L110.59 375.13L110.90 375.25L111.22 375.35L111.53 375.46L111.85 375.55L112.16 375.64L112.48 375.73L112.79 375.82L113.11 375.90L113.43 375.97L113.74 376.04L114.06 376.11L114.37 376.18L114.69 376.24L115.00 376.31L115.32 376.36L115.63 376.42L115.95 376.47L116.27 376.52L116.58 376.57L116.90 376.62L117.21 376.67L117.53 376.71L117.84 376.75L118.16 376.79L118.47 376.83L118.79 376.87L119.10 376.91L119.42 376.94L119.74 376.97L120.05 377.01L120.37 377.04L120.68 377.07L121.00 377.10L121.31 377.13L121.63 377.15L121.94 377.18L122.26 377.21L122.58 377.23L122.89 377.26L123.21 377.28L123.52 377.30L123.84 377.32L124.15 377.34L124.47 377.37L124.78 377.39L125.10 377.40L125.41 377.42L125.73 377.44L126.05 377.46L126.36 377.48L126.68 377.49L126.99 377.51L127.31 377.53L127.62 377.54L127.94 377.56L128.25 377.57L128.57 377.58L128.89 377.60L129.20 377.61L129.52 377.63L129.83 377.64L130.15 377.65L130.46 377.66L130.78 377.67L131.09 377.69L131.41 377.70L131.72 377.71L132.04 377.72L132.36 377.73L132.67 377.74L132.99 377.75L133.30 377.76L133.62 377.77L133.93 377.78L134.25 377.79L134.56 377.80L134.88 377.80L135.20 377.81L135.51 377.82L135.83 377.83L136.14 377.84L136.46 377.85L136.77 377.85L137.09 377.86L137.40 377.87L137.72 377.87L138.03 377.88L138.35 377.89L138.67 377.90L138.98 377.90L139.30 377.91L139.61 377.91L139.93 377.92L140.24 377.93L140.56 377.93L140.87 377.94L141.19 377.94L141.51 377.95L141.82 377.95L142.14 377.96L142.45 377.97L142.77 377.97L143.08 377.98L143.40 377.98L143.71 377.99L144.03 377.99L144.34 377.99L144.66 378.00L144.98 378.00L145.29 378.01L145.61 378.01L145.92 378.02L146.24 378.02L146.55 378.03L146.87 378.03L147.18 378.03L147.50 378.04L147.82 378.04L148.13 378.04L148.45 378.05L148.76 378.05L149.08 378.06L149.39 378.06L149.71 378.06L150.02 378.07L150.34 378.07L150.66 378.07L150.97 378.08L151.29 378.08L151.60 378.08L151.92 378.09L152.23 378.09L152.55 378.09L152.86 378.09L153.18 378.10L153.49 378.10L153.81 378.10L154.13 378.11L154.44 378.11L154.76 378.11L155.07 378.11L155.39 378.12L155.70 378.12L156.02 378.12L156.33 378.12L156.65 378.13L156.97 378.13L157.28 378.13L157.60 378.13L157.91 378.14L158.23 378.14L158.54 378.14L158.86 378.14L159.17 378.14L159.49 378.15L159.80 378.15L160.12 378.15L160.44 378.15L160.75 378.15L161.07 378.16L161.38 378.16L161.70 378.16L162.01 378.16L162.33 378.16L162.64 378.17L162.96 378.17L163.27 378.17L163.59 378.17L163.91 378.17L164.22 378.18L164.54 378.18L164.85 378.18L165.17 378.18L165.48 378.18L165.80 378.18L166.11 378.19L166.43 378.19L166.75 378.19L167.06 378.19L167.38 378.19L167.69 378.19L168.01 378.19L168.32 378.20L168.64 378.20L168.95 378.20L169.27 378.20L169.58 378.20L169.90 378.20L170.22 378.20L170.53 378.21L170.85 378.21L171.16 378.21L171.48 378.21L171.79 378.21L172.11 378.21L172.42 378.21L172.74 378.21L173.06 378.22L173.37 378.22L173.69 378.22L174.00 378.22L174.32 378.22L174.63 378.22L174.95 378.22L175.26 378.22L175.58 378.23L175.89 378.23L176.21 378.23L176.53 378.23L176.84 378.23L177.16 378.23L177.47 378.23L177.79 378.23L178.10 378.23L178.42 378.23L178.73 378.24L179.05 378.24L179.37 378.24L179.68 378.24L180.00 378.24L180.31 378.24L180.63 378.24L180.94 378.24L181.26 378.24L181.57 378.24L181.89 378.24L182.20 378.25L182.52 378.25L182.84 378.25L183.15 378.25L183.47 378.25L183.78 378.25L184.10 378.25L184.41 378.25L184.73 378.25L185.04 378.25L185.36 378.25L185.68 378.25L185.99 378.26L186.31 378.26L186.62 378.26L186.94 378.26L187.25 378.26L187.57 378.26L187.88 378.26L188.20 378.26L188.51 378.26L188.83 378.26L189.15 378.26L189.46 378.26L189.78 378.26L190.09 378.26L190.41 378.27L190.72 378.27L191.04 378.27L191.35 378.27L191.67 378.27L191.99 378.27L192.30 378.27L192.62 378.27L192.93 378.27L193.25 378.27L193.56 378.27L193.88 378.27L194.19 378.27L194.51 378.27L194.82 378.27L195.14 378.28L195.46 378.28L195.77 378.28L196.09 378.28L196.40 378.28L196.72 378.28L197.03 378.28L197.35 378.28L197.66 378.28L197.98 378.28L198.30 378.28L198.61 378.28L198.93 378.28L199.24 378.28L199.56 378.28L199.87 378.28L200.19 378.28L200.50 378.28L200.82 378.28L201.13 378.29L201.45 378.29L201.77 378.29L202.08 378.29L202.40 378.29L202.71 378.29L203.03 378.29L203.34 378.29L203.66 378.29L203.97 378.29L204.29 378.29L204.61 378.29L204.92 378.29L205.24 378.29L205.55 378.29L205.87 378.29L206.18 378.29L206.50 378.29L206.81 378.29L207.13 378.29L207.44 378.29L207.76 378.29L208.08 378.30L208.39 378.30L208.71 378.30L209.02 378.30L209.34 378.30L209.65 378.30L209.97 378.30L210.28 378.30L210.60 378.30" fill="none" stroke="#111" stroke-width="1.15" stroke-linejoin="round"/><line x1="85.98" y1="260.60" x2="85.98" y2="384.00" stroke="#2424b4" stroke-width="1.4" stroke-dasharray="3.4 1.4"/><line x1="126.05" y1="260.60" x2="126.05" y2="384.00" stroke="#1f9a30" stroke-width="1.4" stroke-dasharray="3.4 1.4"/></g><line x1="84.40" y1="384.00" x2="84.40" y2="387.00" stroke="#333" stroke-width="0.8"/><text x="84.40" y="398.30" font-family="'DejaVu Sans', sans-serif" font-size="12.8" fill="#111" text-anchor="middle">400</text><line x1="147.50" y1="384.00" x2="147.50" y2="387.00" stroke="#333" stroke-width="0.8"/><text x="147.50" y="398.30" font-family="'DejaVu Sans', sans-serif" font-size="12.8" fill="#111" text-anchor="middle">600</text><line x1="210.60" y1="384.00" x2="210.60" y2="387.00" stroke="#333" stroke-width="0.8"/><text x="210.60" y="398.30" font-family="'DejaVu Sans', sans-serif" font-size="12.8" fill="#111" text-anchor="middle">800</text><line x1="49.60" y1="378.80" x2="52.60" y2="378.80" stroke="#333" stroke-width="0.8"/><text x="48.10" y="383.20" font-family="'DejaVu Sans', sans-serif" font-size="12.8" fill="#111" text-anchor="end">0.0</text><line x1="49.60" y1="324.90" x2="52.60" y2="324.90" stroke="#333" stroke-width="0.8"/><text x="48.10" y="329.30" font-family="'DejaVu Sans', sans-serif" font-size="12.8" fill="#111" text-anchor="end">0.5</text><line x1="49.60" y1="271.00" x2="52.60" y2="271.00" stroke="#333" stroke-width="0.8"/><text x="48.10" y="275.40" font-family="'DejaVu Sans', sans-serif" font-size="12.8" fill="#111" text-anchor="end">1.0</text><text x="131.60" y="413.20" font-family="'DejaVu Sans', sans-serif" font-size="12.8" fill="#111" text-anchor="middle">Wavelength (nm)</text><text transform="translate(22.60 322.30) rotate(-90)" font-family="'DejaVu Sans', sans-serif" font-size="12.8" fill="#111" text-anchor="middle">Scattering (a.u.)</text><text x="119.4" y="271.3" font-family="'DejaVu Sans', sans-serif" font-size="12.8" fill="#111">AgNP</text><text x="178" y="277.9" font-family="'DejaVu Sans', sans-serif" font-size="12.8" fill="#111">AgCS</text><line x1="125.50" y1="276.00" x2="103.05" y2="285.63" stroke="#111" stroke-width="1.00" /><polygon points="98.00,287.80 103.11,283.22 104.84,287.26" fill="#111"/><line x1="198.00" y1="280.30" x2="175.41" y2="291.72" stroke="#e8202a" stroke-width="1.20" stroke-dasharray="1.3 1.2"/><polygon points="170.50,294.20 175.31,289.30 177.29,293.23" fill="#e8202a"/>
<g filter="url(#ol)"><g stroke="#1212dc" stroke-width="0.48" stroke-linejoin="round" stroke-opacity="1.0"><polygon points="188.2,145.7 189.4,144.2 188.3,147.3 187.2,148.6" fill="#8d640d"/><polygon points="189.4,136.8 189.6,135.2 189.6,142.6 189.4,144.2" fill="#8d640d"/><polygon points="186.2,147.4 188.2,145.7 187.2,148.6 185.3,150.3" fill="#8d640d"/><polygon points="144.1,96.8 142.9,97.6 140.2,99.1 142.1,98.0" fill="#a4740f"/><polygon points="188.2,138.3 189.4,136.8 189.4,144.2 188.2,145.7" fill="#8d640d"/><polygon points="148.6,97.3 148.0,97.3 147.6,96.1 149.5,96.1" fill="#ae7c10"/><polygon points="148.0,97.3 147.4,97.4 145.7,96.3 147.6,96.1" fill="#b17e10"/><polygon points="142.9,97.6 140.9,99.2 138.2,100.8 140.2,99.1" fill="#ac7a10"/><polygon points="149.1,97.4 148.6,97.3 149.5,96.1 151.3,96.5" fill="#ad7b10"/><polygon points="183.0,150.1 186.2,147.4 185.3,150.3 182.0,153.0" fill="#8d640d"/><polygon points="147.4,97.4 146.9,97.6 144.1,96.8 145.7,96.3" fill="#b58110"/><polygon points="186.2,140.0 188.2,138.3 188.2,145.7 186.2,147.4" fill="#976b0e"/><polygon points="189.4,129.4 189.6,127.8 189.6,135.2 189.4,136.8" fill="#8d640d"/><polygon points="146.9,97.6 146.5,97.8 142.9,97.6 144.1,96.8" fill="#bb8511"/><polygon points="152.4,98.4 149.1,97.4 151.3,96.5 154.6,97.4" fill="#ac7b10"/><polygon points="146.5,97.8 148.6,97.3 148.0,97.3" fill="#c28a12"/><polygon points="147.4,97.4 146.5,97.8 148.0,97.3" fill="#c28a12"/><polygon points="146.5,97.8 149.1,97.4 148.6,97.3" fill="#c28a12"/><polygon points="146.5,97.8 147.4,97.4 146.9,97.6" fill="#c28a12"/><polygon points="146.5,97.8 144.6,99.4 140.9,99.2 142.9,97.6" fill="#be8711"/><polygon points="149.1,97.4 146.5,97.8 152.4,98.4" fill="#c28a12"/><polygon points="157.9,100.0 152.4,98.4 154.6,97.4 160.1,99.0" fill="#ac7b10"/><polygon points="188.1,130.9 189.4,129.4 189.4,136.8 188.2,138.3" fill="#8d640d"/><polygon points="140.9,99.2 137.6,102.0 135.0,103.5 138.2,100.8" fill="#ac7a10"/><polygon points="146.5,97.8 144.6,99.4 152.4,98.4" fill="#c28a12"/><polygon points="182.9,142.7 186.2,140.0 186.2,147.4 183.0,150.1" fill="#976b0e"/><polygon points="178.9,153.5 183.0,150.1 182.0,153.0 178.0,156.4" fill="#8d640d"/><polygon points="186.2,132.6 188.1,130.9 188.2,138.3 186.2,140.0" fill="#976b0e"/><polygon points="164.6,101.9 157.9,100.0 160.1,99.0 166.8,100.9" fill="#ac7b10"/><polygon points="144.6,99.4 141.3,102.2 137.6,102.0 140.9,99.2" fill="#be8711"/><polygon points="189.3,122.0 189.5,120.4 189.6,127.8 189.4,129.4" fill="#8d640d"/><polygon points="152.4,98.4 144.6,99.4 157.7,103.6" fill="#c28a12"/><polygon points="157.9,100.0 152.4,98.4 157.7,103.6" fill="#c28a12"/><polygon points="137.6,102.0 133.6,105.3 130.9,106.9 135.0,103.5" fill="#ac7a10"/><polygon points="188.1,123.5 189.3,122.0 189.4,129.4 188.1,130.9" fill="#8d640d"/><polygon points="157.7,103.6 144.6,99.4 141.3,102.2" fill="#c28a12"/><polygon points="178.9,146.1 182.9,142.7 183.0,150.1 178.9,153.5" fill="#976b0e"/><polygon points="164.6,101.9 157.9,100.0 157.7,103.6" fill="#c28a12"/><polygon points="171.3,103.9 164.6,101.9 166.8,100.9 173.5,102.9" fill="#ac7b10"/><polygon points="182.9,135.3 186.2,132.6 186.2,140.0 182.9,142.7" fill="#976b0e"/><polygon points="174.9,156.8 178.9,153.5 178.0,156.4 174.0,159.7" fill="#8d640d"/><polygon points="141.3,102.2 137.3,105.5 133.6,105.3 137.6,102.0" fill="#be8711"/><polygon points="186.1,125.2 188.1,123.5 188.1,130.9 186.2,132.6" fill="#976b0e"/><polygon points="164.6,101.9 157.7,103.6 171.3,103.9" fill="#c28a12"/><polygon points="189.3,114.6 189.5,113.0 189.5,120.4 189.3,122.0" fill="#8d640d"/><polygon points="176.8,105.4 171.3,103.9 173.5,102.9 179.0,104.4" fill="#ac7b10"/><polygon points="157.7,103.6 141.3,102.2 148.0,106.9" fill="#c28a12"/><polygon points="66.0,107.2 64.8,107.9 62.1,109.5 64.0,108.3" fill="#a4740f"/><polygon points="184.8,106.8 183.7,106.0 186.1,107.3 187.7,108.5" fill="#8d640d"/><polygon points="133.6,105.3 129.6,108.7 126.9,110.2 130.9,106.9" fill="#ac7a10"/><polygon points="141.3,102.2 137.3,105.5 148.0,106.9" fill="#c28a12"/><polygon points="188.1,116.1 189.3,114.6 189.3,122.0 188.1,123.5" fill="#8d640d"/><polygon points="180.1,106.4 176.8,105.4 179.0,104.4 182.3,105.4" fill="#ac7b10"/><polygon points="178.9,138.7 182.9,135.3 182.9,142.7 178.9,146.1" fill="#976b0e"/><polygon points="174.9,149.4 178.9,146.1 178.9,153.5 174.9,156.8" fill="#976b0e"/><polygon points="182.9,127.9 186.1,125.2 186.2,132.6 182.9,135.3" fill="#976b0e"/><polygon points="171.3,103.9 157.7,103.6 158.2,108.8" fill="#c28a12"/><polygon points="171.7,159.6 174.9,156.8 174.0,159.7 170.7,162.4" fill="#8d640d"/><polygon points="185.2,107.7 184.8,106.8 187.7,108.5 188.4,109.9" fill="#91670d"/><polygon points="188.2,111.3 188.4,109.9 189.5,113.0 189.3,114.6" fill="#8d640d"/><polygon points="70.5,107.7 69.9,107.7 69.5,106.4 71.5,106.5" fill="#ae7c10"/><polygon points="180.5,106.6 180.1,106.4 182.3,105.4 183.7,106.0" fill="#ad7b10"/><polygon points="69.9,107.7 69.3,107.7 67.7,106.6 69.5,106.4" fill="#b17e10"/><polygon points="64.8,107.9 62.8,109.6 60.1,111.1 62.1,109.5" fill="#ac7a10"/><polygon points="71.0,107.8 70.5,107.7 71.5,106.5 73.2,106.8" fill="#ad7b10"/><polygon points="69.3,107.7 68.8,107.9 66.0,107.2 67.7,106.6" fill="#b58110"/><polygon points="180.8,106.8 180.5,106.6 183.7,106.0 184.8,106.8" fill="#b07d10"/><polygon points="137.3,105.5 133.3,108.9 129.6,108.7 133.6,105.3" fill="#be8711"/><polygon points="68.8,107.9 68.4,108.1 64.8,107.9 66.0,107.2" fill="#bb8511"/><polygon points="74.4,108.7 71.0,107.8 73.2,106.8 76.5,107.7" fill="#ac7b10"/><polygon points="186.1,117.8 188.1,116.1 188.1,123.5 186.1,125.2" fill="#976b0e"/><polygon points="158.2,108.8 157.7,103.6 148.0,106.9" fill="#c28a12"/><polygon points="176.8,105.4 180.7,107.7 180.1,106.4" fill="#c28a12"/><polygon points="181.0,107.1 180.8,106.8 184.8,106.8 185.2,107.7" fill="#b48010"/><polygon points="185.1,108.7 185.2,107.7 188.4,109.9 188.2,111.3" fill="#a0720e"/><polygon points="69.3,107.7 70.5,107.7 69.9,107.7" fill="#c28a12"/><polygon points="70.5,107.7 69.3,107.7 71.0,107.8" fill="#c28a12"/><polygon points="180.7,107.7 180.5,106.6 180.1,106.4" fill="#c28a12"/><polygon points="71.0,107.8 69.3,107.7 68.4,108.1" fill="#c28a12"/><polygon points="187.1,112.7 188.2,111.3 189.3,114.6 188.1,116.1" fill="#996c0e"/><polygon points="69.3,107.7 68.8,107.9 68.4,108.1" fill="#c28a12"/><polygon points="137.3,105.5 141.9,109.4 148.0,106.9" fill="#c28a12"/><polygon points="180.7,107.7 180.8,106.8 180.5,106.6" fill="#c28a12"/><polygon points="175.5,112.0 176.8,105.4 171.3,103.9" fill="#c28a12"/><polygon points="180.9,107.4 181.0,107.1 185.2,107.7 185.1,108.7" fill="#ba8411"/><polygon points="68.4,108.1 66.5,109.8 62.8,109.6 64.8,107.9" fill="#be8711"/><polygon points="180.8,106.8 180.7,107.7 181.0,107.1" fill="#c28a12"/><polygon points="74.4,108.7 71.0,107.8 68.4,108.1" fill="#c28a12"/><polygon points="41.3,160.6 42.1,162.1 43.2,165.1 42.5,163.7" fill="#ad7b10"/><polygon points="181.0,107.1 180.7,107.7 180.9,107.4" fill="#c28a12"/><polygon points="129.6,108.7 126.3,111.4 123.7,113.0 126.9,110.2" fill="#ac7a10"/><polygon points="180.7,107.7 176.8,105.4 178.7,109.3" fill="#c28a12"/><polygon points="79.8,110.3 74.4,108.7 76.5,107.7 82.0,109.3" fill="#ac7b10"/><polygon points="169.7,161.2 171.7,159.6 170.7,162.4 168.7,164.1" fill="#8d640d"/><polygon points="141.9,109.4 137.3,105.5 133.3,108.9" fill="#c28a12"/><polygon points="184.4,109.6 185.1,108.7 188.2,111.3 187.1,112.7" fill="#b17e10"/><polygon points="62.8,109.6 59.5,112.3 56.9,113.8 60.1,111.1" fill="#ac7a10"/><polygon points="180.7,107.7 180.9,107.4 185.1,108.7 184.4,109.6" fill="#c08912"/><polygon points="171.6,152.2 174.9,149.4 174.9,156.8 171.7,159.6" fill="#976b0e"/><polygon points="66.5,109.8 74.4,108.7 68.4,108.1" fill="#c28a12"/><polygon points="44.7,166.3 46.9,167.2 48.6,168.2 47.1,167.6" fill="#9c6f0e"/><polygon points="178.8,131.3 182.9,127.9 182.9,135.3 178.9,138.7" fill="#976b0e"/><polygon points="174.9,142.0 178.9,138.7 178.9,146.1 174.9,149.4" fill="#976b0e"/><polygon points="175.5,112.0 171.3,103.9 158.2,108.8" fill="#c28a12"/><polygon points="182.8,120.5 186.1,117.8 186.1,125.2 182.9,127.9" fill="#976b0e"/><polygon points="185.1,114.3 187.1,112.7 188.1,116.1 186.1,117.8" fill="#a4750f"/><polygon points="46.9,167.2 50.2,168.1 51.9,169.1 48.6,168.2" fill="#9e700e"/><polygon points="42.1,162.1 43.8,163.5 44.7,166.3 43.2,165.1" fill="#bd8711"/><polygon points="178.7,109.3 180.7,107.7 184.4,109.6 182.4,111.2" fill="#c38b12"/><polygon points="176.8,105.4 175.5,112.0 178.7,109.3" fill="#c28a12"/><polygon points="133.3,108.9 130.0,111.6 126.3,111.4 129.6,108.7" fill="#be8711"/><polygon points="182.4,111.2 184.4,109.6 187.1,112.7 185.1,114.3" fill="#ba8411"/><polygon points="147.7,112.3 158.2,108.8 148.0,106.9" fill="#c28a12"/><polygon points="168.5,162.7 169.7,161.2 168.7,164.1 167.4,165.8" fill="#8d640d"/><polygon points="141.9,109.4 147.7,112.3 148.0,106.9" fill="#c28a12"/><polygon points="86.5,112.2 79.8,110.3 82.0,109.3 88.7,111.3" fill="#ac7b10"/><polygon points="66.5,109.8 63.2,112.5 59.5,112.3 62.8,109.6" fill="#be8711"/><polygon points="126.3,111.4 124.3,113.1 121.7,114.6 123.7,113.0" fill="#ac7a10"/><polygon points="41.3,153.2 42.1,154.7 42.1,162.1 41.3,160.6" fill="#bd8611"/><polygon points="43.8,163.5 46.3,164.5 46.9,167.2 44.7,166.3" fill="#c88e12"/><polygon points="169.6,153.8 171.6,152.2 171.7,159.6 169.7,161.2" fill="#976b0e"/><polygon points="68.0,114.5 74.4,108.7 66.5,109.8" fill="#c28a12"/><polygon points="50.2,168.1 55.7,169.7 57.3,170.7 51.9,169.1" fill="#9e700e"/><polygon points="74.4,108.7 68.0,114.5 79.8,110.3" fill="#c28a12"/><polygon points="140.1,113.8 141.9,109.4 133.3,108.9" fill="#c28a12"/><polygon points="181.8,117.1 185.1,114.3 186.1,117.8 182.8,120.5" fill="#a4750f"/><polygon points="59.5,112.3 55.5,115.6 52.8,117.2 56.9,113.8" fill="#ac7a10"/><polygon points="46.3,164.5 49.6,165.5 50.2,168.1 46.9,167.2" fill="#ca9013"/><polygon points="175.5,112.0 178.7,109.3 182.4,111.2 179.1,114.0" fill="#c38b12"/><polygon points="130.0,111.6 140.1,113.8 133.3,108.9" fill="#c28a12"/><polygon points="171.6,144.8 174.9,142.0 174.9,149.4 171.6,152.2" fill="#976b0e"/><polygon points="124.3,113.1 121.4,114.8 119.4,116.0 121.7,114.6" fill="#a4740f"/><polygon points="63.2,112.5 68.0,114.5 66.5,109.8" fill="#c28a12"/><polygon points="130.0,111.6 128.0,113.3 124.3,113.1 126.3,111.4" fill="#be8711"/><polygon points="179.1,114.0 182.4,111.2 185.1,114.3 181.8,117.1" fill="#ba8411"/><polygon points="42.1,154.7 43.8,156.1 43.8,163.5 42.1,162.1" fill="#ce9213"/><polygon points="93.2,114.2 86.5,112.2 88.7,111.3 95.4,113.2" fill="#ac7b10"/><polygon points="178.8,123.9 182.8,120.5 182.9,127.9 178.8,131.3" fill="#976b0e"/><polygon points="174.8,134.6 178.8,131.3 178.9,138.7 174.9,142.0" fill="#976b0e"/><polygon points="141.9,109.4 140.1,113.8 147.7,112.3" fill="#c28a12"/><polygon points="168.4,155.3 169.6,153.8 169.7,161.2 168.5,162.7" fill="#8d640d"/><polygon points="79.8,110.3 83.8,115.2 86.5,112.2" fill="#c28a12"/><polygon points="147.7,112.3 156.4,114.9 158.2,108.8" fill="#c28a12"/><polygon points="55.7,169.7 62.4,171.6 64.0,172.6 57.3,170.7" fill="#9e700e"/><polygon points="171.5,115.4 175.5,112.0 158.2,108.8" fill="#c28a12"/><polygon points="49.6,165.5 55.1,167.0 55.7,169.7 50.2,168.1" fill="#ca9013"/><polygon points="63.2,112.5 59.2,115.9 55.5,115.6 59.5,112.3" fill="#be8711"/><polygon points="43.8,156.1 46.3,157.1 46.3,164.5 43.8,163.5" fill="#d99b15"/><polygon points="140.1,113.8 130.0,111.6 128.0,113.3" fill="#c28a12"/><polygon points="156.4,114.9 171.5,115.4 158.2,108.8" fill="#c28a12"/><polygon points="83.8,115.2 93.2,114.2 86.5,112.2" fill="#c28a12"/><polygon points="128.0,113.3 124.2,115.6 121.4,114.8 124.3,113.1" fill="#bb8511"/><polygon points="41.2,145.8 42.0,147.3 42.1,154.7 41.3,153.2" fill="#bd8611"/><polygon points="98.7,115.8 93.2,114.2 95.4,113.2 100.9,114.8" fill="#ac7b10"/><polygon points="168.2,156.9 168.4,155.3 168.5,162.7 168.2,164.3" fill="#8d640d"/><polygon points="68.0,114.5 63.2,112.5 59.2,115.9" fill="#c28a12"/><polygon points="79.8,110.3 68.0,114.5 76.8,117.9" fill="#c28a12"/><polygon points="169.6,146.4 171.6,144.8 171.6,152.2 169.6,153.8" fill="#976b0e"/><polygon points="46.3,157.1 49.6,158.1 49.6,165.5 46.3,164.5" fill="#dd9e16"/><polygon points="83.8,115.2 79.8,110.3 76.8,117.9" fill="#c28a12"/><polygon points="177.8,120.4 181.8,117.1 182.8,120.5 178.8,123.9" fill="#a4750f"/><polygon points="62.4,171.6 69.1,173.6 70.7,174.6 64.0,172.6" fill="#9e700e"/><polygon points="55.1,167.0 61.8,169.0 62.4,171.6 55.7,169.7" fill="#ca9013"/><polygon points="171.5,115.4 175.5,112.0 179.1,114.0 175.1,117.3" fill="#c38b12"/><polygon points="55.5,115.6 51.5,119.0 48.8,120.5 52.8,117.2" fill="#ac7a10"/><polygon points="175.1,117.3 179.1,114.0 181.8,117.1 177.8,120.4" fill="#ba8411"/><polygon points="140.1,113.8 147.9,117.8 147.7,112.3" fill="#c28a12"/><polygon points="102.0,116.7 98.7,115.8 100.9,114.8 104.2,115.7" fill="#ac7b10"/><polygon points="171.6,137.3 174.8,134.6 174.9,142.0 171.6,144.8" fill="#976b0e"/><polygon points="140.1,113.8 128.0,113.3 129.8,117.6" fill="#c28a12"/><polygon points="42.0,147.3 43.8,148.7 43.8,156.1 42.1,154.7" fill="#ce9213"/><polygon points="174.8,127.2 178.8,123.9 178.8,131.3 174.8,134.6" fill="#976b0e"/><polygon points="147.9,117.8 156.4,114.9 147.7,112.3" fill="#c28a12"/><polygon points="124.2,115.6 119.2,117.2 117.5,116.1 121.4,114.8" fill="#b58110"/><polygon points="49.6,158.1 55.1,159.6 55.1,167.0 49.6,165.5" fill="#dd9e16"/><polygon points="168.4,147.9 169.6,146.4 169.6,153.8 168.4,155.3" fill="#8d640d"/><polygon points="83.8,115.2 93.1,117.8 93.2,114.2" fill="#c28a12"/><polygon points="128.0,113.3 124.2,115.6 129.8,117.6" fill="#c28a12"/><polygon points="93.1,117.8 98.7,115.8 93.2,114.2" fill="#c28a12"/><polygon points="107.5,117.8 102.0,116.7 104.2,115.7 108.4,116.5" fill="#ad7b10"/><polygon points="68.0,114.5 59.2,115.9 66.8,119.7" fill="#c28a12"/><polygon points="59.2,115.9 55.2,119.2 51.5,119.0 55.5,115.6" fill="#be8711"/><polygon points="69.1,173.6 74.6,175.2 76.2,176.1 70.7,174.6" fill="#9e700e"/><polygon points="119.2,117.2 113.4,117.9 113.0,116.7 117.5,116.1" fill="#b17e10"/><polygon points="43.8,148.7 46.3,149.7 46.3,157.1 43.8,156.1" fill="#d99b15"/><polygon points="113.4,117.9 107.5,117.8 108.4,116.5 113.0,116.7" fill="#ae7c10"/><polygon points="61.8,169.0 68.5,170.9 69.1,173.6 62.4,171.6" fill="#ca9013"/><polygon points="98.7,115.8 93.1,117.8 102.0,116.7" fill="#c28a12"/><polygon points="171.5,115.4 156.4,114.9 167.4,118.8" fill="#c28a12"/><polygon points="129.8,117.6 124.2,115.6 119.2,117.2" fill="#c28a12"/><polygon points="41.2,138.4 42.0,139.9 42.0,147.3 41.2,145.8" fill="#bd8611"/><polygon points="76.8,117.9 68.0,114.5 66.8,119.7" fill="#c28a12"/><polygon points="168.2,149.5 168.4,147.9 168.4,155.3 168.2,156.9" fill="#8d640d"/><polygon points="169.6,139.0 171.6,137.3 171.6,144.8 169.6,146.4" fill="#976b0e"/><polygon points="55.1,159.6 61.8,161.6 61.8,169.0 55.1,167.0" fill="#dd9e16"/><polygon points="46.3,149.7 49.6,150.6 49.6,158.1 46.3,157.1" fill="#dd9e16"/><polygon points="141.6,120.2 140.1,113.8 129.8,117.6" fill="#c28a12"/><polygon points="85.5,120.1 83.8,115.2 76.8,117.9" fill="#c28a12"/><polygon points="93.1,117.8 83.8,115.2 85.5,120.1" fill="#c28a12"/><polygon points="173.8,123.8 177.8,120.4 178.8,123.9 174.8,127.2" fill="#a4750f"/><polygon points="140.1,113.8 141.6,120.2 147.9,117.8" fill="#c28a12"/><polygon points="74.6,175.2 77.9,176.1 79.5,177.1 76.2,176.1" fill="#9e700e"/><polygon points="51.5,119.0 48.2,121.7 45.6,123.3 48.8,120.5" fill="#ac7a10"/><polygon points="159.6,119.4 156.4,114.9 147.9,117.8" fill="#c28a12"/><polygon points="59.2,115.9 55.2,119.2 66.8,119.7" fill="#c28a12"/><polygon points="167.4,118.8 171.5,115.4 175.1,117.3 171.1,120.7" fill="#c38b12"/><polygon points="156.4,114.9 159.6,119.4 167.4,118.8" fill="#c28a12"/><polygon points="171.1,120.7 175.1,117.3 177.8,120.4 173.8,123.8" fill="#ba8411"/><polygon points="171.5,129.9 174.8,127.2 174.8,134.6 171.6,137.3" fill="#976b0e"/><polygon points="93.1,117.8 104.4,120.9 102.0,116.7" fill="#c28a12"/><polygon points="104.4,120.9 107.5,117.8 102.0,116.7" fill="#c28a12"/><polygon points="68.5,170.9 74.0,172.5 74.6,175.2 69.1,173.6" fill="#ca9013"/><polygon points="42.0,139.9 43.7,141.3 43.8,148.7 42.0,147.3" fill="#ce9213"/><polygon points="49.6,150.6 55.0,152.2 55.1,159.6 49.6,158.1" fill="#dd9e16"/><polygon points="77.9,176.1 80.7,177.2 83.0,178.5 79.5,177.1" fill="#9c6f0e"/><polygon points="168.4,140.5 169.6,139.0 169.6,146.4 168.4,147.9" fill="#8d640d"/><polygon points="113.4,117.9 114.3,122.2 119.2,117.2" fill="#c28a12"/><polygon points="129.8,117.6 119.2,117.2 130.1,122.2" fill="#c28a12"/><polygon points="61.8,161.6 68.5,163.5 68.5,170.9 61.8,169.0" fill="#dd9e16"/><polygon points="114.3,122.2 113.4,117.9 107.5,117.8" fill="#c28a12"/><polygon points="55.2,119.2 51.9,121.9 48.2,121.7 51.5,119.0" fill="#be8711"/><polygon points="74.3,121.9 76.8,117.9 66.8,119.7" fill="#c28a12"/><polygon points="74.3,121.9 85.5,120.1 76.8,117.9" fill="#c28a12"/><polygon points="43.7,141.3 46.2,142.3 46.3,149.7 43.8,148.7" fill="#d99b15"/><polygon points="74.0,172.5 77.3,173.4 77.9,176.1 74.6,175.2" fill="#ca9013"/><polygon points="48.2,121.7 46.3,123.4 43.6,124.9 45.6,123.3" fill="#ac7a10"/><polygon points="93.6,122.5 93.1,117.8 85.5,120.1" fill="#c28a12"/><polygon points="141.6,120.2 129.8,117.6 130.1,122.2" fill="#c28a12"/><polygon points="104.4,120.9 114.3,122.2 107.5,117.8" fill="#c28a12"/><polygon points="93.6,122.5 104.4,120.9 93.1,117.8" fill="#c28a12"/><polygon points="41.2,130.9 42.0,132.5 42.0,139.9 41.2,138.4" fill="#bd8611"/><polygon points="168.1,142.1 168.4,140.5 168.4,147.9 168.2,149.5" fill="#8d640d"/><polygon points="159.6,119.4 164.2,121.5 167.4,118.8" fill="#c28a12"/><polygon points="159.6,119.4 147.9,117.8 151.2,122.7" fill="#c28a12"/><polygon points="169.5,131.6 171.5,129.9 171.6,137.3 169.6,139.0" fill="#976b0e"/><polygon points="55.0,152.2 61.7,154.2 61.8,161.6 55.1,159.6" fill="#dd9e16"/><polygon points="170.5,126.5 173.8,123.8 174.8,127.2 171.5,129.9" fill="#a4750f"/><polygon points="147.9,117.8 141.6,120.2 151.2,122.7" fill="#c28a12"/><polygon points="119.2,117.2 114.3,122.2 130.1,122.2" fill="#c28a12"/><polygon points="46.2,142.3 49.5,143.2 49.6,150.6 46.3,149.7" fill="#dd9e16"/><polygon points="77.3,173.4 79.8,174.4 80.7,177.2 77.9,176.1" fill="#c88e12"/><polygon points="55.2,119.2 66.9,125.2 66.8,119.7" fill="#c28a12"/><polygon points="164.2,121.5 167.4,118.8 171.1,120.7 167.8,123.4" fill="#c38b12"/><polygon points="68.5,163.5 73.9,165.1 74.0,172.5 68.5,170.9" fill="#dd9e16"/><polygon points="42.5,126.3 42.3,127.7 41.2,130.9 41.4,129.3" fill="#b58010"/><polygon points="167.8,123.4 171.1,120.7 173.8,123.8 170.5,126.5" fill="#ba8411"/><polygon points="46.3,123.4 45.5,124.3 42.5,126.3 43.6,124.9" fill="#b58110"/><polygon points="51.9,121.9 49.9,123.6 46.3,123.4 48.2,121.7" fill="#be8711"/><polygon points="55.2,119.2 51.9,121.9 66.9,125.2" fill="#c28a12"/><polygon points="42.0,132.5 43.7,133.9 43.7,141.3 42.0,139.9" fill="#ce9213"/><polygon points="162.2,123.1 164.2,121.5 159.6,119.4" fill="#c28a12"/><polygon points="66.9,125.2 74.3,121.9 66.8,119.7" fill="#c28a12"/><polygon points="85.5,120.1 74.3,121.9 85.3,124.6" fill="#c28a12"/><polygon points="49.5,143.2 55.0,144.8 55.0,152.2 49.6,150.6" fill="#dd9e16"/><polygon points="79.8,174.4 81.5,175.8 82.6,178.7 80.7,177.2" fill="#bd8711"/><polygon points="168.3,133.1 169.5,131.6 169.6,139.0 168.4,140.5" fill="#8d640d"/><polygon points="162.2,123.1 159.6,119.4 151.2,122.7" fill="#c28a12"/><polygon points="93.6,122.5 85.5,120.1 85.3,124.6" fill="#c28a12"/><polygon points="73.9,165.1 77.2,166.0 77.3,173.4 74.0,172.5" fill="#dd9e16"/><polygon points="45.5,124.3 45.4,125.2 42.3,127.7 42.5,126.3" fill="#c68d12"/><polygon points="61.7,154.2 68.4,156.1 68.5,163.5 61.8,161.6" fill="#dd9e16"/><polygon points="42.3,127.7 43.0,129.1 42.0,132.5 41.2,130.9" fill="#c98f12"/><polygon points="49.9,123.6 49.7,123.9 45.5,124.3 46.3,123.4" fill="#c18912"/><polygon points="168.6,128.1 170.5,126.5 171.5,129.9 169.5,131.6" fill="#a4750f"/><polygon points="104.4,120.9 102.6,125.3 114.3,122.2" fill="#c28a12"/><polygon points="93.6,122.5 102.6,125.3 104.4,120.9" fill="#c28a12"/><polygon points="43.7,133.9 46.2,134.9 46.2,142.3 43.7,141.3" fill="#d99b15"/><polygon points="140.1,126.2 141.6,120.2 130.1,122.2" fill="#c28a12"/><polygon points="162.2,123.1 164.2,121.5 167.8,123.4 165.9,125.0" fill="#c38b12"/><polygon points="49.7,123.9 49.7,124.2 45.4,125.2 45.5,124.3" fill="#c78e12"/><polygon points="51.9,121.9 49.9,123.6 53.9,125.8" fill="#c28a12"/><polygon points="114.3,122.2 122.4,125.2 130.1,122.2" fill="#c28a12"/><polygon points="49.9,123.6 49.7,123.9 49.7,124.2" fill="#c28a12"/><polygon points="141.6,120.2 140.1,126.2 151.2,122.7" fill="#c28a12"/><polygon points="77.2,166.0 79.7,167.0 79.8,174.4 77.3,173.4" fill="#d99b15"/><polygon points="165.9,125.0 167.8,123.4 170.5,126.5 168.6,128.1" fill="#ba8411"/><polygon points="49.8,124.4 49.9,123.6 49.7,124.2" fill="#c28a12"/><polygon points="45.4,125.2 45.9,126.2 43.0,129.1 42.3,127.7" fill="#d59814"/><polygon points="81.5,175.8 82.3,177.4 83.5,180.5 82.6,178.7" fill="#ad7b10"/><polygon points="168.1,134.7 168.3,133.1 168.4,140.5 168.1,142.1" fill="#8d640d"/><polygon points="50.1,124.7 49.9,123.6 49.8,124.4" fill="#c28a12"/><polygon points="55.0,144.8 61.7,146.8 61.7,154.2 55.0,152.2" fill="#dd9e16"/><polygon points="49.7,124.2 49.8,124.4 45.9,126.2 45.4,125.2" fill="#cd9213"/><polygon points="51.9,121.9 53.9,125.8 66.9,125.2" fill="#c28a12"/><polygon points="49.9,123.6 50.1,124.7 50.6,124.9" fill="#c28a12"/><polygon points="43.0,129.1 44.6,130.3 43.7,133.9 42.0,132.5" fill="#da9b15"/><polygon points="46.2,134.9 49.5,135.8 49.5,143.2 46.2,142.3" fill="#dd9e16"/><polygon points="53.9,125.8 49.9,123.6 50.6,124.9" fill="#c28a12"/><polygon points="167.2,129.8 168.6,128.1 169.5,131.6 168.3,133.1" fill="#996c0e"/><polygon points="68.4,156.1 73.9,157.7 73.9,165.1 68.5,163.5" fill="#dd9e16"/><polygon points="160.0,125.9 162.2,123.1 151.2,122.7" fill="#c28a12"/><polygon points="74.3,121.9 77.8,127.5 85.3,124.6" fill="#c28a12"/><polygon points="49.8,124.4 50.1,124.7 46.9,127.0 45.9,126.2" fill="#d29514"/><polygon points="77.8,127.5 74.3,121.9 66.9,125.2" fill="#c28a12"/><polygon points="94.2,127.0 93.6,122.5 85.3,124.6" fill="#c28a12"/><polygon points="79.7,167.0 81.5,168.4 81.5,175.8 79.8,174.4" fill="#ce9213"/><polygon points="45.9,126.2 46.9,127.0 44.6,130.3 43.0,129.1" fill="#e4a318"/><polygon points="102.6,125.3 93.6,122.5 94.2,127.0" fill="#c28a12"/><polygon points="50.1,124.7 50.6,124.9 48.4,127.6 46.9,127.0" fill="#d59815"/><polygon points="44.6,130.3 46.8,131.2 46.2,134.9 43.7,133.9" fill="#eba91c"/><polygon points="122.4,125.2 129.6,127.5 130.1,122.2" fill="#c28a12"/><polygon points="164.1,127.2 165.9,125.0 168.6,128.1 167.2,129.8" fill="#b17e10"/><polygon points="160.0,125.9 162.2,123.1 165.9,125.0 164.1,127.2" fill="#c08912"/><polygon points="114.3,122.2 102.6,125.3 112.7,128.0" fill="#c28a12"/><polygon points="114.3,122.2 112.7,128.0 122.4,125.2" fill="#c28a12"/><polygon points="49.5,135.8 55.0,137.4 55.0,144.8 49.5,143.2" fill="#dd9e16"/><polygon points="129.6,127.5 140.1,126.2 130.1,122.2" fill="#c28a12"/><polygon points="46.9,127.0 48.4,127.6 46.8,131.2 44.6,130.3" fill="#f9b626"/><polygon points="50.6,124.9 53.9,125.8 51.7,128.5 48.4,127.6" fill="#d69915"/><polygon points="160.0,125.9 151.2,122.7 149.4,127.0" fill="#c28a12"/><polygon points="73.9,157.7 77.2,158.6 77.2,166.0 73.9,165.1" fill="#dd9e16"/><polygon points="151.2,122.7 140.1,126.2 149.4,127.0" fill="#c28a12"/><polygon points="66.9,125.2 53.9,125.8 59.3,127.4" fill="#c28a12"/><polygon points="61.7,146.8 68.4,148.7 68.4,156.1 61.7,154.2" fill="#dd9e16"/><polygon points="167.0,131.6 167.2,129.8 168.3,133.1 168.1,134.7" fill="#8d640d"/><polygon points="81.5,168.4 82.3,170.0 82.3,177.4 81.5,175.8" fill="#bd8611"/><polygon points="46.8,131.2 50.1,132.2 49.5,135.8 46.2,134.9" fill="#f4b123"/><polygon points="48.4,127.6 51.7,128.5 50.1,132.2 46.8,131.2" fill="#ffc231"/><polygon points="77.2,158.6 79.7,159.6 79.7,167.0 77.2,166.0" fill="#d99b15"/><polygon points="85.3,129.5 94.2,127.0 85.3,124.6" fill="#c28a12"/><polygon points="53.9,125.8 59.3,127.4 57.1,130.1 51.7,128.5" fill="#d69915"/><polygon points="66.0,129.3 66.9,125.2 59.3,127.4" fill="#c28a12"/><polygon points="77.8,127.5 85.3,129.5 85.3,124.6" fill="#c28a12"/><polygon points="77.8,127.5 66.9,125.2 66.0,129.3" fill="#c28a12"/><polygon points="55.0,137.4 61.7,139.4 61.7,146.8 55.0,144.8" fill="#dd9e16"/><polygon points="163.8,129.5 164.1,127.2 167.2,129.8 167.0,131.6" fill="#a0720e"/><polygon points="50.1,132.2 55.5,133.8 55.0,137.4 49.5,135.8" fill="#f4b123"/><polygon points="68.4,148.7 73.9,150.3 73.9,157.7 68.4,156.1" fill="#dd9e16"/><polygon points="159.6,128.8 160.0,125.9 149.4,127.0" fill="#c28a12"/><polygon points="102.7,131.0 102.6,125.3 94.2,127.0" fill="#c28a12"/><polygon points="159.6,128.8 160.0,125.9 164.1,127.2 163.8,129.5" fill="#ba8411"/><polygon points="51.7,128.5 57.1,130.1 55.5,133.8 50.1,132.2" fill="#ffc231"/><polygon points="79.7,159.6 81.4,161.0 81.5,168.4 79.7,167.0" fill="#ce9213"/><polygon points="123.4,130.6 129.6,127.5 122.4,125.2" fill="#c28a12"/><polygon points="112.7,128.0 123.4,130.6 122.4,125.2" fill="#c28a12"/><polygon points="102.6,125.3 102.7,131.0 112.7,128.0" fill="#c28a12"/><polygon points="140.1,126.2 138.9,130.7 149.4,127.0" fill="#c28a12"/><polygon points="138.9,130.7 140.1,126.2 129.6,127.5" fill="#c28a12"/><polygon points="59.3,127.4 66.0,129.3 63.8,132.0 57.1,130.1" fill="#d69915"/><polygon points="73.9,150.3 77.2,151.2 77.2,158.6 73.9,157.7" fill="#dd9e16"/><polygon points="77.8,127.5 66.0,129.3 72.7,131.3" fill="#c28a12"/><polygon points="61.7,139.4 68.4,141.3 68.4,148.7 61.7,146.8" fill="#dd9e16"/><polygon points="165.0,131.7 163.8,129.5 167.0,131.6 167.8,133.3" fill="#91670d"/><polygon points="55.5,133.8 62.3,135.7 61.7,139.4 55.0,137.4" fill="#f4b123"/><polygon points="81.4,161.0 82.2,162.6 82.3,170.0 81.5,168.4" fill="#bd8611"/><polygon points="57.1,130.1 63.8,132.0 62.3,135.7 55.5,133.8" fill="#ffc231"/><polygon points="78.2,132.9 85.3,129.5 77.8,127.5" fill="#c28a12"/><polygon points="94.2,127.0 85.3,129.5 92.0,133.3" fill="#c28a12"/><polygon points="77.2,151.2 79.7,152.2 79.7,159.6 77.2,158.6" fill="#d99b15"/><polygon points="149.0,133.4 159.6,128.8 149.4,127.0" fill="#c28a12"/><polygon points="78.2,132.9 77.8,127.5 72.7,131.3" fill="#c28a12"/><polygon points="161.0,131.7 159.6,128.8 163.8,129.5 165.0,131.7" fill="#b48010"/><polygon points="102.7,131.0 94.2,127.0 92.0,133.3" fill="#c28a12"/><polygon points="129.6,127.5 123.4,130.6 129.5,132.9" fill="#c28a12"/><polygon points="138.9,130.7 129.6,127.5 129.5,132.9" fill="#c28a12"/><polygon points="113.4,133.1 123.4,130.6 112.7,128.0" fill="#c28a12"/><polygon points="66.0,129.3 72.7,131.3 70.5,134.0 63.8,132.0" fill="#d69915"/><polygon points="138.9,130.7 149.0,133.4 149.4,127.0" fill="#c28a12"/><polygon points="102.7,131.0 113.4,133.1 112.7,128.0" fill="#c28a12"/><polygon points="68.4,141.3 73.8,142.9 73.9,150.3 68.4,148.7" fill="#dd9e16"/><polygon points="167.4,133.6 165.0,131.7 167.8,133.3 169.8,134.9" fill="#8d640d"/><polygon points="79.7,152.2 81.4,153.6 81.4,161.0 79.7,159.6" fill="#ce9213"/><polygon points="62.3,135.7 69.0,137.6 68.4,141.3 61.7,139.4" fill="#f4b123"/><polygon points="63.8,132.0 70.5,134.0 69.0,137.6 62.3,135.7" fill="#ffc231"/><polygon points="207.8,184.3 209.0,182.8 207.9,185.8 206.8,187.2" fill="#8d640d"/><polygon points="159.6,128.8 149.0,133.4 161.0,131.7" fill="#c28a12"/><polygon points="78.2,132.9 81.5,133.8 85.3,129.5" fill="#c28a12"/><polygon points="85.3,129.5 81.5,133.8 92.0,133.3" fill="#c28a12"/><polygon points="73.8,142.9 77.1,143.8 77.2,151.2 73.9,150.3" fill="#dd9e16"/><polygon points="72.7,131.3 78.2,132.9 76.0,135.5 70.5,134.0" fill="#d69915"/><polygon points="209.0,175.4 209.2,173.7 209.2,181.1 209.0,182.8" fill="#8d640d"/><polygon points="81.4,153.6 82.2,155.2 82.2,162.6 81.4,161.0" fill="#bd8611"/><polygon points="164.2,134.1 161.0,131.7 165.0,131.7 167.4,133.6" fill="#b07d10"/><polygon points="69.0,137.6 74.4,139.2 73.8,142.9 68.4,141.3" fill="#f4b123"/><polygon points="129.5,132.9 123.4,130.6 119.7,135.4" fill="#c28a12"/><polygon points="123.4,130.6 113.4,133.1 119.7,135.4" fill="#c28a12"/><polygon points="138.9,130.7 129.5,132.9 139.8,135.0" fill="#c28a12"/><polygon points="113.4,133.1 102.7,131.0 101.7,135.3" fill="#c28a12"/><polygon points="101.7,135.3 102.7,131.0 92.0,133.3" fill="#c28a12"/><polygon points="205.8,185.9 207.8,184.3 206.8,187.2 204.8,188.8" fill="#8d640d"/><polygon points="77.1,143.8 79.6,144.8 79.7,152.2 77.2,151.2" fill="#d99b15"/><polygon points="70.5,134.0 76.0,135.5 74.4,139.2 69.0,137.6" fill="#ffc231"/><polygon points="149.0,133.4 138.9,130.7 139.8,135.0" fill="#c28a12"/><polygon points="149.0,133.4 164.2,134.1 161.0,131.7" fill="#c28a12"/><polygon points="78.2,132.9 81.5,133.8 79.3,136.5 76.0,135.5" fill="#d69915"/><polygon points="81.5,133.8 86.1,135.7 92.0,133.3" fill="#c28a12"/><polygon points="207.8,176.9 209.0,175.4 209.0,182.8 207.8,184.3" fill="#8d640d"/><polygon points="74.4,139.2 77.7,140.2 77.1,143.8 73.8,142.9" fill="#f4b123"/><polygon points="79.6,144.8 81.4,146.2 81.4,153.6 79.7,152.2" fill="#ce9213"/><polygon points="168.7,136.0 164.2,134.1 167.4,133.6 170.9,135.0" fill="#ad7b10"/><polygon points="76.0,135.5 79.3,136.5 77.7,140.2 74.4,139.2" fill="#ffc231"/><polygon points="81.5,133.8 86.1,135.7 82.8,137.9 79.3,136.5" fill="#d59815"/><polygon points="113.4,133.1 101.7,135.3 111.4,137.1" fill="#c28a12"/><polygon points="113.4,133.1 111.4,137.1 119.7,135.4" fill="#c28a12"/><polygon points="202.5,188.7 205.8,185.9 204.8,188.8 201.6,191.5" fill="#8d640d"/><polygon points="77.7,140.2 80.5,141.3 79.6,144.8 77.1,143.8" fill="#eba91c"/><polygon points="129.5,132.9 131.9,137.8 139.8,135.0" fill="#c28a12"/><polygon points="101.7,135.3 92.0,133.3 89.2,138.1" fill="#c28a12"/><polygon points="131.9,137.8 129.5,132.9 119.7,135.4" fill="#c28a12"/><polygon points="92.0,133.3 86.1,135.7 89.2,138.1" fill="#c28a12"/><polygon points="149.0,133.4 150.9,138.0 164.2,134.1" fill="#c28a12"/><polygon points="205.8,178.5 207.8,176.9 207.8,184.3 205.8,185.9" fill="#976b0e"/><polygon points="79.3,136.5 82.8,137.9 80.5,141.3 77.7,140.2" fill="#f9b626"/><polygon points="150.9,138.0 149.0,133.4 139.8,135.0" fill="#c28a12"/><polygon points="208.9,168.0 209.2,166.3 209.2,173.7 209.0,175.4" fill="#8d640d"/><polygon points="81.4,146.2 82.2,147.8 82.2,155.2 81.4,153.6" fill="#bd8611"/><polygon points="172.0,136.9 168.7,136.0 170.9,135.0 174.2,136.0" fill="#ac7b10"/><polygon points="80.5,141.3 82.4,142.8 81.4,146.2 79.6,144.8" fill="#da9b15"/><polygon points="168.7,136.0 164.2,134.1 165.7,138.7" fill="#c28a12"/><polygon points="86.1,135.7 89.2,138.1 85.3,139.8 82.8,137.9" fill="#d29514"/><polygon points="137.6,194.7 141.3,194.7 142.0,195.6 137.4,195.4" fill="#9b6e0e"/><polygon points="177.5,138.5 172.0,136.9 174.2,136.0 179.7,137.5" fill="#ac7b10"/><polygon points="82.8,137.9 85.3,139.8 82.4,142.8 80.5,141.3" fill="#e4a318"/><polygon points="134.1,195.1 137.6,194.7 137.4,195.4 132.9,196.0" fill="#93680d"/><polygon points="207.7,169.5 208.9,168.0 209.0,175.4 207.8,176.9" fill="#8d640d"/><polygon points="164.2,134.1 150.9,138.0 165.7,138.7" fill="#c28a12"/><polygon points="111.4,137.1 101.7,135.3 102.0,140.4" fill="#c28a12"/><polygon points="141.3,194.7 144.6,195.4 146.2,196.4 142.0,195.6" fill="#9e700e"/><polygon points="168.7,136.0 165.7,138.7 172.0,136.9" fill="#c28a12"/><polygon points="131.9,137.8 138.9,139.7 139.8,135.0" fill="#c28a12"/><polygon points="102.0,140.4 101.7,135.3 89.2,138.1" fill="#c28a12"/><polygon points="202.5,181.3 205.8,178.5 205.8,185.9 202.5,188.7" fill="#976b0e"/><polygon points="138.9,139.7 150.9,138.0 139.8,135.0" fill="#c28a12"/><polygon points="131.1,196.1 134.1,195.1 132.9,196.0 129.0,197.3" fill="#8d640d"/><polygon points="82.4,142.8 83.3,144.5 82.2,147.8 81.4,146.2" fill="#c98f12"/><polygon points="111.4,137.1 121.3,142.0 119.7,135.4" fill="#c28a12"/><polygon points="198.5,192.0 202.5,188.7 201.6,191.5 197.6,194.9" fill="#8d640d"/><polygon points="144.6,195.4 147.9,196.3 149.5,197.3 146.2,196.4" fill="#9e700e"/><polygon points="121.3,142.0 131.9,137.8 119.7,135.4" fill="#c28a12"/><polygon points="205.7,171.1 207.7,169.5 207.8,176.9 205.8,178.5" fill="#976b0e"/><polygon points="184.2,140.4 177.5,138.5 179.7,137.5 186.4,139.5" fill="#ac7b10"/><polygon points="208.9,160.6 209.1,158.9 209.2,166.3 208.9,168.0" fill="#8d640d"/><polygon points="85.3,139.8 86.4,142.0 83.3,144.5 82.4,142.8" fill="#d59814"/><polygon points="137.7,192.0 141.0,192.1 141.3,194.7 137.6,194.7" fill="#c68d12"/><polygon points="89.2,138.1 90.7,141.0 86.4,142.0 85.3,139.8" fill="#cd9213"/><polygon points="128.7,197.5 131.1,196.1 129.0,197.3 126.1,199.0" fill="#8d640d"/><polygon points="134.6,192.5 137.7,192.0 137.6,194.7 134.1,195.1" fill="#bb8511"/><polygon points="90.7,141.0 102.0,140.4 89.2,138.1" fill="#c28a12"/><polygon points="147.9,196.3 153.4,197.9 155.0,198.9 149.5,197.3" fill="#9e700e"/><polygon points="141.0,192.1 144.0,192.7 144.6,195.4 141.3,194.7" fill="#cb9013"/><polygon points="165.7,138.7 150.9,138.0 158.1,141.5" fill="#c28a12"/><polygon points="83.3,144.5 83.1,146.3 82.0,149.4 82.2,147.8" fill="#b58010"/><polygon points="167.0,142.7 177.5,138.5 172.0,136.9" fill="#c28a12"/><polygon points="165.7,138.7 167.0,142.7 172.0,136.9" fill="#c28a12"/><polygon points="112.8,142.9 111.4,137.1 102.0,140.4" fill="#c28a12"/><polygon points="131.8,193.3 134.6,192.5 134.1,195.1 131.1,196.1" fill="#a9780f"/><polygon points="138.9,139.7 149.2,142.7 150.9,138.0" fill="#c28a12"/><polygon points="128.9,143.5 138.9,139.7 131.9,137.8" fill="#c28a12"/><polygon points="144.0,192.7 147.3,193.7 147.9,196.3 144.6,195.4" fill="#ca9013"/><polygon points="207.7,162.1 208.9,160.6 208.9,168.0 207.7,169.5" fill="#8d640d"/><polygon points="112.8,142.9 121.3,142.0 111.4,137.1" fill="#c28a12"/><polygon points="198.5,184.6 202.5,181.3 202.5,188.7 198.5,192.0" fill="#976b0e"/><polygon points="190.9,142.4 184.2,140.4 186.4,139.5 193.1,141.4" fill="#ac7b10"/><polygon points="150.9,138.0 149.2,142.7 158.1,141.5" fill="#c28a12"/><polygon points="202.5,173.8 205.7,171.1 205.8,178.5 202.5,181.3" fill="#976b0e"/><polygon points="86.4,142.0 86.1,144.3 83.1,146.3 83.3,144.5" fill="#c68d12"/><polygon points="128.9,143.5 131.9,137.8 121.3,142.0" fill="#c28a12"/><polygon points="129.7,194.6 131.8,193.3 131.1,196.1 128.7,197.5" fill="#94690d"/><polygon points="167.0,142.7 165.7,138.7 158.1,141.5" fill="#c28a12"/><polygon points="153.4,197.9 160.1,199.9 161.7,200.8 155.0,198.9" fill="#9e700e"/><polygon points="90.7,141.0 90.2,143.9 102.0,140.4" fill="#c28a12"/><polygon points="194.5,195.4 198.5,192.0 197.6,194.9 193.6,198.3" fill="#8d640d"/><polygon points="147.3,193.7 152.8,195.2 153.4,197.9 147.9,196.3" fill="#ca9013"/><polygon points="90.7,141.0 90.2,143.9 86.1,144.3 86.4,142.0" fill="#c78e12"/><polygon points="137.7,184.6 141.0,184.7 141.0,192.1 137.7,192.0" fill="#db9d18"/><polygon points="134.5,185.1 137.7,184.6 137.7,192.0 134.6,192.5" fill="#cc9214"/><polygon points="184.2,140.4 177.5,138.5 176.9,145.7" fill="#c28a12"/><polygon points="205.7,163.7 207.7,162.1 207.7,169.5 205.7,171.1" fill="#976b0e"/><polygon points="141.0,184.7 144.0,185.3 144.0,192.7 141.0,192.1" fill="#dfa018"/><polygon points="208.9,153.1 209.1,151.5 209.1,158.9 208.9,160.6" fill="#8d640d"/><polygon points="127.7,196.3 129.7,194.6 128.7,197.5 126.8,199.1" fill="#8d640d"/><polygon points="131.8,185.9 134.5,185.1 134.6,192.5 131.8,193.3" fill="#b98411"/><polygon points="196.4,144.0 190.9,142.4 193.1,141.4 198.5,143.0" fill="#ac7b10"/><polygon points="149.2,142.7 138.9,139.7 138.8,145.3" fill="#c28a12"/><polygon points="177.5,138.5 167.0,142.7 176.9,145.7" fill="#c28a12"/><polygon points="185.7,144.3 190.9,142.4 184.2,140.4" fill="#c28a12"/><polygon points="138.9,139.7 128.9,143.5 138.8,145.3" fill="#c28a12"/><polygon points="104.8,146.1 112.8,142.9 102.0,140.4" fill="#c28a12"/><polygon points="86.1,144.3 84.4,146.4 81.7,148.0 83.1,146.3" fill="#b58110"/><polygon points="144.0,185.3 147.3,186.3 147.3,193.7 144.0,192.7" fill="#dd9e16"/><polygon points="90.2,143.9 104.8,146.1 102.0,140.4" fill="#c28a12"/><polygon points="160.1,199.9 166.8,201.8 168.4,202.8 161.7,200.8" fill="#9e700e"/><polygon points="204.4,145.3 203.3,144.5 205.7,145.8 207.2,147.0" fill="#8d640d"/><polygon points="149.2,142.7 158.8,145.8 158.1,141.5" fill="#c28a12"/><polygon points="152.8,195.2 159.5,197.2 160.1,199.9 153.4,197.9" fill="#ca9013"/><polygon points="158.8,145.8 167.0,142.7 158.1,141.5" fill="#c28a12"/><polygon points="129.7,187.2 131.8,185.9 131.8,193.3 129.7,194.6" fill="#a3740f"/><polygon points="121.3,142.0 112.8,142.9 119.4,146.7" fill="#c28a12"/><polygon points="207.7,154.7 208.9,153.1 208.9,160.6 207.7,162.1" fill="#8d640d"/><polygon points="185.7,144.3 184.2,140.4 176.9,145.7" fill="#c28a12"/><polygon points="199.7,144.9 196.4,144.0 198.5,143.0 201.9,143.9" fill="#ac7b10"/><polygon points="198.5,177.2 202.5,173.8 202.5,181.3 198.5,184.6" fill="#976b0e"/><polygon points="194.5,188.0 198.5,184.6 198.5,192.0 194.5,195.4" fill="#976b0e"/><polygon points="128.9,143.5 121.3,142.0 119.4,146.7" fill="#c28a12"/><polygon points="196.4,144.0 190.9,142.4 185.7,144.3" fill="#c28a12"/><polygon points="202.4,166.4 205.7,163.7 205.7,171.1 202.5,173.8" fill="#976b0e"/><polygon points="90.2,143.9 88.0,146.7 84.4,146.4 86.1,144.3" fill="#c18912"/><polygon points="147.3,186.3 152.8,187.8 152.8,195.2 147.3,193.7" fill="#dd9e16"/><polygon points="191.2,198.1 194.5,195.4 193.6,198.3 190.3,201.0" fill="#8d640d"/><polygon points="204.8,146.3 204.4,145.3 207.2,147.0 208.0,148.4" fill="#91670d"/><polygon points="207.8,149.9 208.0,148.4 209.1,151.5 208.9,153.1" fill="#8d640d"/><polygon points="200.1,145.1 199.7,144.9 201.9,143.9 203.3,144.5" fill="#ad7b10"/><polygon points="84.4,146.4 82.4,148.1 79.7,149.6 81.7,148.0" fill="#ac7a10"/><polygon points="124.5,199.0 127.7,196.3 126.8,199.1 123.5,201.9" fill="#8d640d"/><polygon points="200.4,145.3 200.1,145.1 203.3,144.5 204.4,145.3" fill="#b07d10"/><polygon points="127.7,188.8 129.7,187.2 129.7,194.6 127.7,196.3" fill="#976b0e"/><polygon points="137.7,177.2 140.9,177.3 141.0,184.7 137.7,184.6" fill="#db9d18"/><polygon points="104.8,146.1 90.2,143.9 88.0,146.7" fill="#c28a12"/><polygon points="166.8,201.8 172.2,203.4 173.9,204.3 168.4,202.8" fill="#9e700e"/><polygon points="134.5,177.7 137.7,177.2 137.7,184.6 134.5,185.1" fill="#cc9214"/><polygon points="205.7,156.3 207.7,154.7 207.7,162.1 205.7,163.7" fill="#976b0e"/><polygon points="148.9,148.0 149.2,142.7 138.8,145.3" fill="#c28a12"/><polygon points="140.9,177.3 144.0,177.9 144.0,185.3 141.0,184.7" fill="#dfa018"/><polygon points="159.5,197.2 166.2,199.1 166.8,201.8 160.1,199.9" fill="#ca9013"/><polygon points="158.8,145.8 149.2,142.7 148.9,148.0" fill="#c28a12"/><polygon points="112.8,142.9 104.8,146.1 110.8,148.6" fill="#c28a12"/><polygon points="200.6,145.6 200.4,145.3 204.4,145.3 204.8,146.3" fill="#b48010"/><polygon points="204.7,147.2 204.8,146.3 208.0,148.4 207.8,149.9" fill="#a0720e"/><polygon points="128.9,143.5 131.4,148.6 138.8,145.3" fill="#c28a12"/><polygon points="119.4,146.7 112.8,142.9 110.8,148.6" fill="#c28a12"/><polygon points="131.7,178.5 134.5,177.7 134.5,185.1 131.8,185.9" fill="#b98411"/><polygon points="200.4,145.3 200.1,145.1 200.6,145.6" fill="#c28a12"/><polygon points="200.3,146.2 200.1,145.1 199.7,144.9" fill="#c28a12"/><polygon points="206.7,151.2 207.8,149.9 208.9,153.1 207.7,154.7" fill="#996c0e"/><polygon points="167.0,142.7 158.8,145.8 167.4,148.7" fill="#c28a12"/><polygon points="167.0,142.7 167.4,148.7 176.9,145.7" fill="#c28a12"/><polygon points="186.0,148.5 196.4,144.0 185.7,144.3" fill="#c28a12"/><polygon points="152.8,187.8 159.5,189.8 159.5,197.2 152.8,195.2" fill="#dd9e16"/><polygon points="186.4,203.8 188.3,202.6 185.6,204.2 184.4,204.9" fill="#8d640d"/><polygon points="200.1,145.1 200.5,145.9 200.6,145.6" fill="#c28a12"/><polygon points="198.3,147.9 199.7,144.9 196.4,144.0" fill="#c28a12"/><polygon points="131.4,148.6 128.9,143.5 119.4,146.7" fill="#c28a12"/><polygon points="200.5,145.9 200.6,145.6 204.8,146.3 204.7,147.2" fill="#ba8411"/><polygon points="144.0,177.9 147.3,178.9 147.3,186.3 144.0,185.3" fill="#dd9e16"/><polygon points="88.0,146.7 86.1,148.3 82.4,148.1 84.4,146.4" fill="#be8711"/><polygon points="200.1,145.1 200.3,146.2 200.5,145.9" fill="#c28a12"/><polygon points="172.2,203.4 175.6,204.3 177.2,205.3 173.9,204.3" fill="#9e700e"/><polygon points="60.9,199.1 61.7,200.7 62.8,203.6 62.1,202.2" fill="#ad7b10"/><polygon points="186.0,148.5 185.7,144.3 176.9,145.7" fill="#c28a12"/><polygon points="189.3,199.7 191.2,198.1 190.3,201.0 188.3,202.6" fill="#8d640d"/><polygon points="204.0,148.1 204.7,147.2 207.8,149.9 206.7,151.2" fill="#b17e10"/><polygon points="82.4,148.1 79.1,150.8 76.5,152.4 79.7,149.6" fill="#ac7a10"/><polygon points="200.3,146.2 200.5,145.9 204.7,147.2 204.0,148.1" fill="#c08912"/><polygon points="198.3,147.9 200.3,146.2 199.7,144.9" fill="#c28a12"/><polygon points="184.0,204.5 186.4,203.8 184.4,204.9 182.8,205.4" fill="#8d640d"/><polygon points="129.6,179.8 131.7,178.5 131.8,185.9 129.7,187.2" fill="#a3740f"/><polygon points="191.2,190.7 194.5,188.0 194.5,195.4 191.2,198.1" fill="#976b0e"/><polygon points="64.3,204.8 66.5,205.7 68.1,206.7 66.7,206.1" fill="#9c6f0e"/><polygon points="175.6,204.3 178.3,204.8 179.0,205.6 177.2,205.3" fill="#9e700e"/><polygon points="198.4,169.8 202.4,166.4 202.5,173.8 198.5,177.2" fill="#976b0e"/><polygon points="194.5,180.6 198.5,177.2 198.5,184.6 194.5,188.0" fill="#976b0e"/><polygon points="124.4,191.6 127.7,188.8 127.7,196.3 124.5,199.0" fill="#976b0e"/><polygon points="198.3,147.9 196.4,144.0 186.0,148.5" fill="#c28a12"/><polygon points="166.2,199.1 171.6,200.7 172.2,203.4 166.8,201.8" fill="#ca9013"/><polygon points="181.2,204.9 184.0,204.5 182.8,205.4 180.9,205.7" fill="#93680d"/><polygon points="178.3,204.8 181.2,204.9 180.9,205.7 179.0,205.6" fill="#9b6e0e"/><polygon points="202.4,159.0 205.7,156.3 205.7,163.7 202.4,166.4" fill="#976b0e"/><polygon points="103.6,150.8 104.8,146.1 88.0,146.7" fill="#c28a12"/><polygon points="204.7,152.9 206.7,151.2 207.7,154.7 205.7,156.3" fill="#a4750f"/><polygon points="147.3,178.9 152.7,180.4 152.8,187.8 147.3,186.3" fill="#dd9e16"/><polygon points="120.4,202.3 124.5,199.0 123.5,201.9 119.5,205.2" fill="#8d640d"/><polygon points="66.5,205.7 69.8,206.7 71.5,207.6 68.1,206.7" fill="#9e700e"/><polygon points="61.7,200.7 63.4,202.0 64.3,204.8 62.8,203.6" fill="#bd8711"/><polygon points="198.3,147.9 200.3,146.2 204.0,148.1 202.0,149.8" fill="#c38b12"/><polygon points="187.2,201.0 189.3,199.7 188.3,202.6 186.4,203.8" fill="#94690d"/><polygon points="159.5,189.8 166.2,191.7 166.2,199.1 159.5,197.2" fill="#dd9e16"/><polygon points="202.0,149.8 204.0,148.1 206.7,151.2 204.7,152.9" fill="#ba8411"/><polygon points="104.8,146.1 103.6,150.8 110.8,148.6" fill="#c28a12"/><polygon points="127.7,181.4 129.6,179.8 129.7,187.2 127.7,188.8" fill="#976b0e"/><polygon points="158.8,145.8 148.9,148.0 158.6,150.9" fill="#c28a12"/><polygon points="137.6,169.8 140.9,169.9 140.9,177.3 137.7,177.2" fill="#db9d18"/><polygon points="86.1,148.3 82.8,151.0 79.1,150.8 82.4,148.1" fill="#be8711"/><polygon points="148.9,148.0 138.8,145.3 142.7,152.0" fill="#c28a12"/><polygon points="134.5,170.2 137.6,169.8 137.7,177.2 134.5,177.7" fill="#cc9214"/><polygon points="131.4,148.6 136.8,151.9 138.8,145.3" fill="#c28a12"/><polygon points="171.6,200.7 175.0,201.6 175.6,204.3 172.2,203.4" fill="#ca9013"/><polygon points="121.9,151.0 119.4,146.7 110.8,148.6" fill="#c28a12"/><polygon points="121.9,151.0 131.4,148.6 119.4,146.7" fill="#c28a12"/><polygon points="167.4,148.7 158.8,145.8 158.6,150.9" fill="#c28a12"/><polygon points="140.9,169.9 143.9,170.5 144.0,177.9 140.9,177.3" fill="#dfa018"/><polygon points="175.5,151.1 186.0,148.5 176.9,145.7" fill="#c28a12"/><polygon points="167.4,148.7 175.5,151.1 176.9,145.7" fill="#c28a12"/><polygon points="60.9,191.7 61.7,193.3 61.7,200.7 60.9,199.1" fill="#bd8611"/><polygon points="184.4,201.9 187.2,201.0 186.4,203.8 184.0,204.5" fill="#a9780f"/><polygon points="63.4,202.0 65.9,203.0 66.5,205.7 64.3,204.8" fill="#c88e12"/><polygon points="189.2,192.3 191.2,190.7 191.2,198.1 189.3,199.7" fill="#976b0e"/><polygon points="131.7,171.1 134.5,170.2 134.5,177.7 131.7,178.5" fill="#b98411"/><polygon points="69.8,206.7 75.3,208.2 76.9,209.2 71.5,207.6" fill="#9e700e"/><polygon points="86.1,148.3 92.6,153.9 88.0,146.7" fill="#c28a12"/><polygon points="152.7,180.4 159.4,182.4 159.5,189.8 152.8,187.8" fill="#dd9e16"/><polygon points="175.0,201.6 178.0,202.2 178.3,204.8 175.6,204.3" fill="#cb9013"/><polygon points="195.1,150.6 198.3,147.9 186.0,148.5" fill="#c28a12"/><polygon points="143.9,170.5 147.2,171.4 147.3,178.9 144.0,177.9" fill="#dd9e16"/><polygon points="181.2,202.3 184.4,201.9 184.0,204.5 181.2,204.9" fill="#bb8511"/><polygon points="201.4,155.6 204.7,152.9 205.7,156.3 202.4,159.0" fill="#a4750f"/><polygon points="178.0,202.2 181.2,202.3 181.2,204.9 178.3,204.8" fill="#c68d12"/><polygon points="138.8,145.3 136.8,151.9 142.7,152.0" fill="#c28a12"/><polygon points="79.1,150.8 75.1,154.2 72.4,155.7 76.5,152.4" fill="#ac7a10"/><polygon points="166.2,191.7 171.6,193.3 171.6,200.7 166.2,199.1" fill="#dd9e16"/><polygon points="65.9,203.0 69.2,204.0 69.8,206.7 66.5,205.7" fill="#ca9013"/><polygon points="92.6,153.9 103.6,150.8 88.0,146.7" fill="#c28a12"/><polygon points="195.1,150.6 198.3,147.9 202.0,149.8 198.7,152.5" fill="#c38b12"/><polygon points="129.6,172.4 131.7,171.1 131.7,178.5 129.6,179.8" fill="#a3740f"/><polygon points="191.2,183.3 194.5,180.6 194.5,188.0 191.2,190.7" fill="#976b0e"/><polygon points="120.4,194.9 124.4,191.6 124.5,199.0 120.4,202.3" fill="#976b0e"/><polygon points="198.7,152.5 202.0,149.8 204.7,152.9 201.4,155.6" fill="#ba8411"/><polygon points="61.7,193.3 63.4,194.6 63.4,202.0 61.7,200.7" fill="#ce9213"/><polygon points="198.4,162.4 202.4,159.0 202.4,166.4 198.4,169.8" fill="#976b0e"/><polygon points="194.4,173.2 198.4,169.8 198.5,177.2 194.5,180.6" fill="#976b0e"/><polygon points="124.4,184.2 127.7,181.4 127.7,188.8 124.4,191.6" fill="#976b0e"/><polygon points="187.1,193.6 189.2,192.3 189.3,199.7 187.2,201.0" fill="#a3740f"/><polygon points="86.1,148.3 82.8,151.0 92.6,153.9" fill="#c28a12"/><polygon points="131.4,148.6 121.9,151.0 131.1,152.6" fill="#c28a12"/><polygon points="158.6,150.9 148.9,148.0 148.3,153.1" fill="#c28a12"/><polygon points="147.2,171.4 152.7,173.0 152.7,180.4 147.3,178.9" fill="#dd9e16"/><polygon points="75.3,208.2 82.0,210.2 83.6,211.2 76.9,209.2" fill="#9e700e"/><polygon points="136.8,151.9 131.4,148.6 131.1,152.6" fill="#c28a12"/><polygon points="116.4,205.7 120.4,202.3 119.5,205.2 115.5,208.6" fill="#8d640d"/><polygon points="148.9,148.0 142.7,152.0 148.3,153.1" fill="#c28a12"/><polygon points="103.6,150.8 110.8,154.9 110.8,148.6" fill="#c28a12"/><polygon points="171.6,193.3 174.9,194.2 175.0,201.6 171.6,200.7" fill="#dd9e16"/><polygon points="69.2,204.0 74.7,205.6 75.3,208.2 69.8,206.7" fill="#ca9013"/><polygon points="110.8,154.9 121.9,151.0 110.8,148.6" fill="#c28a12"/><polygon points="159.4,182.4 166.1,184.3 166.2,191.7 159.5,189.8" fill="#dd9e16"/><polygon points="167.4,148.7 158.6,150.9 168.7,153.8" fill="#c28a12"/><polygon points="82.8,151.0 78.8,154.4 75.1,154.2 79.1,150.8" fill="#be8711"/><polygon points="175.5,151.1 167.4,148.7 168.7,153.8" fill="#c28a12"/><polygon points="195.1,150.6 186.0,148.5 191.0,153.9" fill="#c28a12"/><polygon points="63.4,194.6 65.9,195.6 65.9,203.0 63.4,202.0" fill="#d99b15"/><polygon points="184.4,194.5 187.1,193.6 187.2,201.0 184.4,201.9" fill="#b98411"/><polygon points="186.0,148.5 175.5,151.1 191.0,153.9" fill="#c28a12"/><polygon points="127.6,174.0 129.6,172.4 129.6,179.8 127.7,181.4" fill="#976b0e"/><polygon points="137.6,162.4 140.9,162.5 140.9,169.9 137.6,169.8" fill="#db9d18"/><polygon points="134.4,162.8 137.6,162.4 137.6,169.8 134.5,170.2" fill="#cc9214"/><polygon points="174.9,194.2 177.9,194.8 178.0,202.2 175.0,201.6" fill="#dfa018"/><polygon points="140.9,162.5 143.9,163.1 143.9,170.5 140.9,169.9" fill="#dfa018"/><polygon points="60.8,184.3 61.6,185.8 61.7,193.3 60.9,191.7" fill="#bd8611"/><polygon points="181.2,194.9 184.4,194.5 184.4,201.9 181.2,202.3" fill="#cc9214"/><polygon points="177.9,194.8 181.2,194.9 181.2,202.3 178.0,202.2" fill="#db9d18"/><polygon points="189.2,184.9 191.2,183.3 191.2,190.7 189.2,192.3" fill="#976b0e"/><polygon points="131.7,163.7 134.4,162.8 134.5,170.2 131.7,171.1" fill="#b98411"/><polygon points="121.9,151.0 126.0,154.2 131.1,152.6" fill="#c28a12"/><polygon points="65.9,195.6 69.2,196.6 69.2,204.0 65.9,203.0" fill="#dd9e16"/><polygon points="92.6,153.9 82.8,151.0 78.8,154.4" fill="#c28a12"/><polygon points="152.7,173.0 159.4,175.0 159.4,182.4 152.7,180.4" fill="#dd9e16"/><polygon points="197.4,158.9 201.4,155.6 202.4,159.0 198.4,162.4" fill="#a4750f"/><polygon points="151.6,154.0 158.6,150.9 148.3,153.1" fill="#c28a12"/><polygon points="136.8,151.9 142.7,152.0 141.8,154.9 137.2,154.8" fill="#d59815"/><polygon points="143.9,163.1 147.2,164.0 147.2,171.4 143.9,170.5" fill="#dd9e16"/><polygon points="82.0,210.2 88.7,212.1 90.3,213.1 83.6,211.2" fill="#9e700e"/><polygon points="131.1,152.6 136.8,151.9 137.2,154.8 132.7,155.4" fill="#d29514"/><polygon points="74.7,205.6 81.4,207.5 82.0,210.2 75.3,208.2" fill="#ca9013"/><polygon points="191.0,153.9 195.1,150.6 198.7,152.5 194.7,155.8" fill="#c38b12"/><polygon points="75.1,154.2 71.1,157.5 68.4,159.1 72.4,155.7" fill="#ac7a10"/><polygon points="166.1,184.3 171.6,185.9 171.6,193.3 166.2,191.7" fill="#dd9e16"/><polygon points="194.7,155.8 198.7,152.5 201.4,155.6 197.4,158.9" fill="#ba8411"/><polygon points="142.7,152.0 148.3,153.1 146.1,155.8 141.8,154.9" fill="#d69915"/><polygon points="129.6,165.0 131.7,163.7 131.7,171.1 129.6,172.4" fill="#a3740f"/><polygon points="191.2,175.9 194.4,173.2 194.5,180.6 191.2,183.3" fill="#976b0e"/><polygon points="120.4,187.5 124.4,184.2 124.4,191.6 120.4,194.9" fill="#976b0e"/><polygon points="116.4,198.3 120.4,194.9 120.4,202.3 116.4,205.7" fill="#976b0e"/><polygon points="158.6,150.9 157.0,155.6 168.7,153.8" fill="#c28a12"/><polygon points="61.6,185.8 63.4,187.2 63.4,194.6 61.7,193.3" fill="#ce9213"/><polygon points="92.6,153.9 103.2,157.3 103.6,150.8" fill="#c28a12"/><polygon points="151.6,154.0 157.0,155.6 158.6,150.9" fill="#c28a12"/><polygon points="137.5,158.7 141.1,158.8 140.9,162.5 137.6,162.4" fill="#f9b82c"/><polygon points="194.4,165.7 198.4,162.4 198.4,169.8 194.4,173.2" fill="#976b0e"/><polygon points="124.4,176.8 127.6,174.0 127.7,181.4 124.4,184.2" fill="#976b0e"/><polygon points="126.0,154.2 121.9,151.0 122.2,156.5" fill="#c28a12"/><polygon points="187.1,186.2 189.2,184.9 189.2,192.3 187.1,193.6" fill="#a3740f"/><polygon points="69.2,196.6 74.7,198.2 74.7,205.6 69.2,204.0" fill="#dd9e16"/><polygon points="134.0,159.2 137.5,158.7 137.6,162.4 134.4,162.8" fill="#dfa11c"/><polygon points="137.2,154.8 141.8,154.9 141.1,158.8 137.5,158.7" fill="#ffca3c"/><polygon points="121.9,151.0 110.8,154.9 122.2,156.5" fill="#c28a12"/><polygon points="126.0,154.2 131.1,152.6 132.7,155.4 128.8,156.7" fill="#cc9213"/><polygon points="113.2,208.4 116.4,205.7 115.5,208.6 112.2,211.3" fill="#8d640d"/><polygon points="103.2,157.3 110.8,154.9 103.6,150.8" fill="#c28a12"/><polygon points="132.7,155.4 137.2,154.8 137.5,158.7 134.0,159.2" fill="#f2b228"/><polygon points="141.1,158.8 144.5,159.4 143.9,163.1 140.9,162.5" fill="#fcb92b"/><polygon points="147.2,164.0 152.7,165.6 152.7,173.0 147.2,171.4" fill="#dd9e16"/><polygon points="175.8,156.6 175.5,151.1 168.7,153.8" fill="#c28a12"/><polygon points="141.8,154.9 146.1,155.8 144.5,159.4 141.1,158.8" fill="#ffcb3a"/><polygon points="148.3,153.1 151.6,154.0 149.4,156.7 146.1,155.8" fill="#d69915"/><polygon points="171.6,185.9 174.9,186.8 174.9,194.2 171.6,193.3" fill="#dd9e16"/><polygon points="175.5,151.1 187.0,157.3 191.0,153.9" fill="#c28a12"/><polygon points="130.9,160.1 134.0,159.2 134.4,162.8 131.7,163.7" fill="#c68d13"/><polygon points="159.4,175.0 166.1,176.9 166.1,184.3 159.4,182.4" fill="#dd9e16"/><polygon points="78.8,154.4 74.8,157.7 71.1,157.5 75.1,154.2" fill="#be8711"/><polygon points="88.7,212.1 94.2,213.7 95.8,214.7 90.3,213.1" fill="#9e700e"/><polygon points="84.5,157.7 92.6,153.9 78.8,154.4" fill="#c28a12"/><polygon points="63.4,187.2 65.9,188.2 65.9,195.6 63.4,194.6" fill="#d99b15"/><polygon points="184.3,187.1 187.1,186.2 187.1,193.6 184.4,194.5" fill="#b98411"/><polygon points="128.8,156.7 132.7,155.4 134.0,159.2 130.9,160.1" fill="#d69a18"/><polygon points="127.6,166.6 129.6,165.0 129.6,172.4 127.6,174.0" fill="#976b0e"/><polygon points="144.5,159.4 147.8,160.4 147.2,164.0 143.9,163.1" fill="#f4b123"/><polygon points="81.4,207.5 88.1,209.4 88.7,212.1 82.0,210.2" fill="#ca9013"/><polygon points="146.1,155.8 149.4,156.7 147.8,160.4 144.5,159.4" fill="#ffc231"/><polygon points="174.9,186.8 177.9,187.4 177.9,194.8 174.9,194.2" fill="#dfa018"/><polygon points="187.0,157.3 175.5,151.1 175.8,156.6" fill="#c28a12"/><polygon points="60.8,176.9 61.6,178.4 61.6,185.8 60.8,184.3" fill="#bd8611"/><polygon points="181.2,187.5 184.3,187.1 184.4,194.5 181.2,194.9" fill="#cc9214"/><polygon points="177.9,187.4 181.2,187.5 181.2,194.9 177.9,194.8" fill="#db9d18"/><polygon points="128.6,161.5 130.9,160.1 131.7,163.7 129.6,165.0" fill="#b07d10"/><polygon points="189.2,177.5 191.2,175.9 191.2,183.3 189.2,184.9" fill="#976b0e"/><polygon points="151.6,154.0 157.0,155.6 154.8,158.3 149.4,156.7" fill="#d69915"/><polygon points="74.7,198.2 81.4,200.1 81.4,207.5 74.7,205.6" fill="#dd9e16"/><polygon points="108.3,214.1 110.2,213.0 107.5,214.5 106.3,215.3" fill="#8d640d"/><polygon points="122.2,156.5 126.0,154.2 128.8,156.7 125.9,158.4" fill="#c68d12"/><polygon points="65.9,188.2 69.2,189.2 69.2,196.6 65.9,195.6" fill="#dd9e16"/><polygon points="157.0,155.6 163.7,157.5 168.7,153.8" fill="#c28a12"/><polygon points="152.7,165.6 159.4,167.6 159.4,175.0 152.7,173.0" fill="#dd9e16"/><polygon points="193.4,162.3 197.4,158.9 198.4,162.4 194.4,165.7" fill="#a4750f"/><polygon points="94.2,213.7 97.5,214.6 99.1,215.6 95.8,214.7" fill="#9e700e"/><polygon points="74.8,157.7 84.5,157.7 78.8,154.4" fill="#c28a12"/><polygon points="71.1,157.5 67.8,160.3 65.2,161.8 68.4,159.1" fill="#ac7a10"/><polygon points="125.9,158.4 128.8,156.7 130.9,160.1 128.6,161.5" fill="#c38b12"/><polygon points="103.2,157.3 92.6,153.9 92.4,158.5" fill="#c28a12"/><polygon points="111.2,210.1 113.2,208.4 112.2,211.3 110.2,213.0" fill="#8d640d"/><polygon points="147.8,160.4 153.2,162.0 152.7,165.6 147.2,164.0" fill="#f4b123"/><polygon points="92.6,153.9 84.5,157.7 92.4,158.5" fill="#c28a12"/><polygon points="110.8,154.9 120.2,158.2 122.2,156.5" fill="#c28a12"/><polygon points="187.0,157.3 191.0,153.9 194.7,155.8 190.7,159.2" fill="#c38b12"/><polygon points="166.1,176.9 171.6,178.5 171.6,185.9 166.1,184.3" fill="#dd9e16"/><polygon points="105.9,214.9 108.3,214.1 106.3,215.3 104.7,215.8" fill="#8d640d"/><polygon points="113.1,201.0 116.4,198.3 116.4,205.7 113.2,208.4" fill="#976b0e"/><polygon points="149.4,156.7 154.8,158.3 153.2,162.0 147.8,160.4" fill="#ffc231"/><polygon points="190.7,159.2 194.7,155.8 197.4,158.9 193.4,162.3" fill="#ba8411"/><polygon points="191.1,168.5 194.4,165.7 194.4,173.2 191.2,175.9" fill="#976b0e"/><polygon points="97.5,214.6 100.2,215.2 100.9,216.0 99.1,215.6" fill="#9e700e"/><polygon points="120.3,180.1 124.4,176.8 124.4,184.2 120.4,187.5" fill="#976b0e"/><polygon points="116.4,190.9 120.4,187.5 120.4,194.9 116.4,198.3" fill="#976b0e"/><polygon points="88.1,209.4 93.6,211.0 94.2,213.7 88.7,212.1" fill="#ca9013"/><polygon points="170.4,159.5 175.8,156.6 168.7,153.8" fill="#c28a12"/><polygon points="61.6,178.4 63.3,179.8 63.4,187.2 61.6,185.8" fill="#ce9213"/><polygon points="103.1,215.2 105.9,214.9 104.7,215.8 102.8,216.0" fill="#93680d"/><polygon points="100.2,215.2 103.1,215.2 102.8,216.0 100.9,216.0" fill="#9b6e0e"/><polygon points="124.3,169.4 127.6,166.6 127.6,174.0 124.4,176.8" fill="#976b0e"/><polygon points="187.1,178.8 189.2,177.5 189.2,184.9 187.1,186.2" fill="#a3740f"/><polygon points="126.6,163.2 128.6,161.5 129.6,165.0 127.6,166.6" fill="#a4750f"/><polygon points="69.2,189.2 74.6,190.8 74.7,198.2 69.2,196.6" fill="#dd9e16"/><polygon points="163.7,157.5 170.4,159.5 168.7,153.8" fill="#c28a12"/><polygon points="110.8,154.9 103.2,157.3 117.0,160.9" fill="#c28a12"/><polygon points="157.0,155.6 163.7,157.5 161.5,160.2 154.8,158.3" fill="#d69915"/><polygon points="120.2,158.2 122.2,156.5 125.9,158.4 123.9,160.1" fill="#c38b12"/><polygon points="109.1,211.3 111.2,210.1 110.2,213.0 108.3,214.1" fill="#94690d"/><polygon points="81.4,200.1 88.1,202.0 88.1,209.4 81.4,207.5" fill="#dd9e16"/><polygon points="171.6,178.5 174.9,179.4 174.9,186.8 171.6,185.9" fill="#dd9e16"/><polygon points="74.8,157.7 71.5,160.5 67.8,160.3 71.1,157.5" fill="#be8711"/><polygon points="123.9,160.1 125.9,158.4 128.6,161.5 126.6,163.2" fill="#ba8411"/><polygon points="120.2,158.2 110.8,154.9 117.0,160.9" fill="#c28a12"/><polygon points="159.4,167.6 166.1,169.5 166.1,176.9 159.4,175.0" fill="#dd9e16"/><polygon points="153.2,162.0 159.9,163.9 159.4,167.6 152.7,165.6" fill="#f4b123"/><polygon points="63.3,179.8 65.8,180.8 65.9,188.2 63.4,187.2" fill="#d99b15"/><polygon points="184.3,179.7 187.1,178.8 187.1,186.2 184.3,187.1" fill="#b98411"/><polygon points="93.6,211.0 96.9,212.0 97.5,214.6 94.2,213.7" fill="#ca9013"/><polygon points="67.8,160.3 65.8,161.9 63.2,163.5 65.2,161.8" fill="#ac7a10"/><polygon points="154.8,158.3 161.5,160.2 159.9,163.9 153.2,162.0" fill="#ffc231"/><polygon points="183.8,160.0 187.0,157.3 175.8,156.6" fill="#c28a12"/><polygon points="84.5,157.7 74.8,157.7 83.5,161.3" fill="#c28a12"/><polygon points="174.9,179.4 177.9,180.0 177.9,187.4 174.9,186.8" fill="#dfa018"/><polygon points="106.3,212.2 109.1,211.3 108.3,214.1 105.9,214.9" fill="#a9780f"/><polygon points="111.1,202.7 113.1,201.0 113.2,208.4 111.2,210.1" fill="#976b0e"/><polygon points="84.5,157.7 83.5,161.3 92.4,158.5" fill="#c28a12"/><polygon points="60.8,169.5 61.6,171.0 61.6,178.4 60.8,176.9" fill="#bd8611"/><polygon points="181.1,180.1 184.3,179.7 184.3,187.1 181.2,187.5" fill="#cc9214"/><polygon points="177.9,180.0 181.1,180.1 181.2,187.5 177.9,187.4" fill="#db9d18"/><polygon points="189.1,170.1 191.1,168.5 191.2,175.9 189.2,177.5" fill="#976b0e"/><polygon points="74.6,190.8 81.3,192.7 81.4,200.1 74.7,198.2" fill="#dd9e16"/><polygon points="96.9,212.0 99.9,212.5 100.2,215.2 97.5,214.6" fill="#cb9013"/><polygon points="190.1,165.0 193.4,162.3 194.4,165.7 191.1,168.5" fill="#a4750f"/><polygon points="101.1,162.4 103.2,157.3 92.4,158.5" fill="#c28a12"/><polygon points="65.8,180.8 69.1,181.8 69.2,189.2 65.9,188.2" fill="#dd9e16"/><polygon points="103.2,212.6 106.3,212.2 105.9,214.9 103.1,215.2" fill="#bb8511"/><polygon points="74.8,157.7 71.5,160.5 83.5,161.3" fill="#c28a12"/><polygon points="123.3,165.9 126.6,163.2 127.6,166.6 124.3,169.4" fill="#a4750f"/><polygon points="99.9,212.5 103.2,212.6 103.1,215.2 100.2,215.2" fill="#c68d12"/><polygon points="170.4,159.5 175.9,161.1 175.8,156.6" fill="#c28a12"/><polygon points="183.8,160.0 187.0,157.3 190.7,159.2 187.4,161.9" fill="#c38b12"/><polygon points="163.7,157.5 170.4,159.5 168.2,162.2 161.5,160.2" fill="#d69915"/><polygon points="88.1,202.0 93.5,203.6 93.6,211.0 88.1,209.4" fill="#dd9e16"/><polygon points="62.1,164.8 61.9,166.2 60.8,169.5 61.0,167.9" fill="#b58010"/><polygon points="175.9,161.1 183.8,160.0 175.8,156.6" fill="#c28a12"/><polygon points="187.4,161.9 190.7,159.2 193.4,162.3 190.1,165.0" fill="#ba8411"/><polygon points="65.8,161.9 65.1,162.8 62.1,164.8 63.2,163.5" fill="#b58110"/><polygon points="117.0,160.9 120.2,158.2 123.9,160.1 120.6,162.8" fill="#c38b12"/><polygon points="166.1,169.5 171.5,171.1 171.6,178.5 166.1,176.9" fill="#dd9e16"/><polygon points="113.1,193.6 116.4,190.9 116.4,198.3 113.1,201.0" fill="#976b0e"/><polygon points="103.2,157.3 101.1,162.4 117.0,160.9" fill="#c28a12"/><polygon points="71.5,160.5 69.5,162.1 65.8,161.9 67.8,160.3" fill="#be8711"/><polygon points="120.6,162.8 123.9,160.1 126.6,163.2 123.3,165.9" fill="#ba8411"/><polygon points="159.9,163.9 166.6,165.8 166.1,169.5 159.4,167.6" fill="#f4b123"/><polygon points="120.3,172.7 124.3,169.4 124.4,176.8 120.3,180.1" fill="#976b0e"/><polygon points="116.3,183.5 120.3,180.1 120.4,187.5 116.4,190.9" fill="#976b0e"/><polygon points="109.1,203.9 111.1,202.7 111.2,210.1 109.1,211.3" fill="#a3740f"/><polygon points="61.6,171.0 63.3,172.4 63.3,179.8 61.6,178.4" fill="#ce9213"/><polygon points="161.5,160.2 168.2,162.2 166.6,165.8 159.9,163.9" fill="#ffc231"/><polygon points="187.0,171.4 189.1,170.1 189.2,177.5 187.1,178.8" fill="#a3740f"/><polygon points="69.1,181.8 74.6,183.4 74.6,190.8 69.2,189.2" fill="#dd9e16"/><polygon points="93.5,203.6 96.8,204.6 96.9,212.0 93.6,211.0" fill="#dd9e16"/><polygon points="65.1,162.8 65.0,163.8 61.9,166.2 62.1,164.8" fill="#c68d12"/><polygon points="83.5,161.3 91.4,164.3 92.4,158.5" fill="#c28a12"/><polygon points="81.3,192.7 88.0,194.6 88.1,202.0 81.4,200.1" fill="#dd9e16"/><polygon points="61.9,166.2 62.6,167.6 61.6,171.0 60.8,169.5" fill="#c98f12"/><polygon points="171.5,171.1 174.8,172.0 174.9,179.4 171.6,178.5" fill="#dd9e16"/><polygon points="69.5,162.1 69.3,162.4 65.1,162.8 65.8,161.9" fill="#c18912"/><polygon points="188.1,166.7 190.1,165.0 191.1,168.5 189.1,170.1" fill="#a4750f"/><polygon points="106.3,204.8 109.1,203.9 109.1,211.3 106.3,212.2" fill="#b98411"/><polygon points="170.4,159.5 175.9,161.1 173.7,163.7 168.2,162.2" fill="#d69915"/><polygon points="91.4,164.3 101.1,162.4 92.4,158.5" fill="#c28a12"/><polygon points="183.8,160.0 175.9,161.1 179.2,162.0" fill="#c28a12"/><polygon points="63.3,172.4 65.8,173.4 65.8,180.8 63.3,179.8" fill="#d99b15"/><polygon points="184.3,172.3 187.0,171.4 187.1,178.8 184.3,179.7" fill="#b98411"/><polygon points="71.5,160.5 73.5,164.4 83.5,161.3" fill="#c28a12"/><polygon points="96.8,204.6 99.9,205.1 99.9,212.5 96.9,212.0" fill="#dfa018"/><polygon points="181.8,161.7 183.8,160.0 187.4,161.9 185.5,163.6" fill="#c38b12"/><polygon points="183.8,160.0 179.2,162.0 181.8,161.7" fill="#c28a12"/><polygon points="69.3,162.4 69.2,162.7 65.0,163.8 65.1,162.8" fill="#c78e12"/><polygon points="73.5,164.4 71.5,160.5 69.5,162.1" fill="#c28a12"/><polygon points="103.1,205.2 106.3,204.8 106.3,212.2 103.2,212.6" fill="#cc9214"/><polygon points="185.5,163.6 187.4,161.9 190.1,165.0 188.1,166.7" fill="#ba8411"/><polygon points="174.8,172.0 177.9,172.6 177.9,180.0 174.9,179.4" fill="#dfa018"/><polygon points="166.6,165.8 172.1,167.4 171.5,171.1 166.1,169.5" fill="#f4b123"/><polygon points="99.9,205.1 103.1,205.2 103.2,212.6 99.9,212.5" fill="#db9d18"/><polygon points="111.1,195.3 113.1,193.6 113.1,201.0 111.1,202.7" fill="#976b0e"/><polygon points="65.0,163.8 65.5,164.7 62.6,167.6 61.9,166.2" fill="#d59814"/><polygon points="69.5,162.1 69.3,162.4 70.2,163.4" fill="#c28a12"/><polygon points="69.4,163.0 69.3,162.4 69.2,162.7" fill="#c28a12"/><polygon points="181.1,172.7 184.3,172.3 184.3,179.7 181.1,180.1" fill="#cc9214"/><polygon points="168.2,162.2 173.7,163.7 172.1,167.4 166.6,165.8" fill="#ffc231"/><polygon points="177.9,172.6 181.1,172.7 181.1,180.1 177.9,180.0" fill="#db9d18"/><polygon points="69.3,162.4 69.4,163.0 69.7,163.2" fill="#c28a12"/><polygon points="180.9,162.1 181.4,161.9 181.8,161.7" fill="#c28a12"/><polygon points="74.6,183.4 81.3,185.3 81.3,192.7 74.6,190.8" fill="#dd9e16"/><polygon points="69.2,162.7 69.4,163.0 65.5,164.7 65.0,163.8" fill="#cd9213"/><polygon points="101.1,162.4 113.0,164.3 117.0,160.9" fill="#c28a12"/><polygon points="119.3,169.3 123.3,165.9 124.3,169.4 120.3,172.7" fill="#a4750f"/><polygon points="179.2,162.0 180.9,162.1 181.8,161.7" fill="#c28a12"/><polygon points="69.3,162.4 69.7,163.2 70.2,163.4" fill="#c28a12"/><polygon points="62.6,167.6 64.1,168.8 63.3,172.4 61.6,171.0" fill="#da9b15"/><polygon points="179.7,162.1 180.9,162.1 179.2,162.0" fill="#c28a12"/><polygon points="65.8,173.4 69.1,174.4 69.1,181.8 65.8,180.8" fill="#dd9e16"/><polygon points="180.9,162.1 179.7,162.1 180.3,162.1" fill="#c28a12"/><polygon points="186.3,167.8 188.1,166.7 189.1,170.1 187.0,171.4" fill="#b07d10"/><polygon points="175.9,161.1 179.2,162.0 177.0,164.7 173.7,163.7" fill="#d69915"/><polygon points="181.4,161.9 181.8,161.7 185.5,163.6 184.2,164.3" fill="#c68d12"/><polygon points="73.5,164.4 69.5,162.1 70.2,163.4" fill="#c28a12"/><polygon points="113.0,164.3 117.0,160.9 120.6,162.8 116.6,166.2" fill="#c38b12"/><polygon points="88.0,194.6 93.5,196.2 93.5,203.6 88.1,202.0" fill="#dd9e16"/><polygon points="69.4,163.0 69.7,163.2 66.5,165.5 65.5,164.7" fill="#d29514"/><polygon points="116.6,166.2 120.6,162.8 123.3,165.9 119.3,169.3" fill="#ba8411"/><polygon points="180.9,162.1 181.4,161.9 184.2,164.3 182.6,164.8" fill="#cc9213"/><polygon points="65.5,164.7 66.5,165.5 64.1,168.8 62.6,167.6" fill="#e4a318"/><polygon points="184.2,164.3 185.5,163.6 188.1,166.7 186.3,167.8" fill="#c38b12"/><polygon points="113.1,186.2 116.3,183.5 116.4,190.9 113.1,193.6" fill="#976b0e"/><polygon points="172.1,167.4 175.4,168.4 174.8,172.0 171.5,171.1" fill="#f4b123"/><polygon points="179.2,162.0 179.7,162.1 178.8,165.0 177.0,164.7" fill="#d69915"/><polygon points="180.3,162.1 180.9,162.1 182.6,164.8 180.7,165.1" fill="#d29514"/><polygon points="69.7,163.2 70.2,163.4 68.0,166.1 66.5,165.5" fill="#d59815"/><polygon points="73.5,164.4 78.9,165.9 83.5,161.3" fill="#c28a12"/><polygon points="179.7,162.1 180.3,162.1 180.7,165.1 178.8,165.0" fill="#d59815"/><polygon points="78.9,165.9 91.4,164.3 83.5,161.3" fill="#c28a12"/><polygon points="116.3,176.1 120.3,172.7 120.3,180.1 116.3,183.5" fill="#976b0e"/><polygon points="109.0,196.5 111.1,195.3 111.1,202.7 109.1,203.9" fill="#a3740f"/><polygon points="173.7,163.7 177.0,164.7 175.4,168.4 172.1,167.4" fill="#ffc231"/><polygon points="183.8,168.6 186.3,167.8 187.0,171.4 184.3,172.3" fill="#c68d13"/><polygon points="64.1,168.8 66.4,169.8 65.8,173.4 63.3,172.4" fill="#eba91c"/><polygon points="69.1,174.4 74.6,175.9 74.6,183.4 69.1,181.8" fill="#dd9e16"/><polygon points="182.6,164.8 184.2,164.3 186.3,167.8 183.8,168.6" fill="#d69a18"/><polygon points="175.4,168.4 178.1,168.9 177.9,172.6 174.8,172.0" fill="#fcb92b"/><polygon points="66.5,165.5 68.0,166.1 66.4,169.8 64.1,168.8" fill="#f9b626"/><polygon points="70.2,163.4 73.5,164.4 71.3,167.0 68.0,166.1" fill="#d69915"/><polygon points="93.5,196.2 96.8,197.2 96.8,204.6 93.5,203.6" fill="#dd9e16"/><polygon points="181.0,169.0 183.8,168.6 184.3,172.3 181.1,172.7" fill="#dfa11c"/><polygon points="177.0,164.7 178.8,165.0 178.1,168.9 175.4,168.4" fill="#ffcb3a"/><polygon points="81.3,185.3 88.0,187.2 88.0,194.6 81.3,192.7" fill="#dd9e16"/><polygon points="178.1,168.9 181.0,169.0 181.1,172.7 177.9,172.6" fill="#f9b82c"/><polygon points="180.7,165.1 182.6,164.8 183.8,168.6 181.0,169.0" fill="#f2b228"/><polygon points="178.8,165.0 180.7,165.1 181.0,169.0 178.1,168.9" fill="#ffca3c"/><polygon points="106.3,197.4 109.0,196.5 109.1,203.9 106.3,204.8" fill="#b98411"/><polygon points="101.1,162.4 108.9,167.6 113.0,164.3" fill="#c28a12"/><polygon points="66.4,169.8 69.7,170.7 69.1,174.4 65.8,173.4" fill="#f4b123"/><polygon points="68.0,166.1 71.3,167.0 69.7,170.7 66.4,169.8" fill="#ffc231"/><polygon points="96.8,197.2 99.8,197.7 99.9,205.1 96.8,204.6" fill="#dfa018"/><polygon points="103.1,197.8 106.3,197.4 106.3,204.8 103.1,205.2" fill="#cc9214"/><polygon points="91.4,164.3 92.3,169.8 101.1,162.4" fill="#c28a12"/><polygon points="99.8,197.7 103.1,197.8 103.1,205.2 99.9,205.1" fill="#db9d18"/><polygon points="111.1,187.9 113.1,186.2 113.1,193.6 111.1,195.3" fill="#976b0e"/><polygon points="73.5,164.4 78.9,165.9 76.7,168.6 71.3,167.0" fill="#d69915"/><polygon points="74.6,175.9 81.3,177.9 81.3,185.3 74.6,183.4" fill="#dd9e16"/><polygon points="91.4,164.3 78.9,165.9 85.6,167.9" fill="#c28a12"/><polygon points="115.3,172.6 119.3,169.3 120.3,172.7 116.3,176.1" fill="#a4750f"/><polygon points="69.7,170.7 75.1,172.3 74.6,175.9 69.1,174.4" fill="#f4b123"/><polygon points="108.9,167.6 113.0,164.3 116.6,166.2 112.6,169.5" fill="#c38b12"/><polygon points="88.0,187.2 93.5,188.8 93.5,196.2 88.0,194.6" fill="#dd9e16"/><polygon points="71.3,167.0 76.7,168.6 75.1,172.3 69.7,170.7" fill="#ffc231"/><polygon points="112.6,169.5 116.6,166.2 119.3,169.3 115.3,172.6" fill="#ba8411"/><polygon points="113.0,178.8 116.3,176.1 116.3,183.5 113.1,186.2" fill="#976b0e"/><polygon points="105.7,170.3 108.9,167.6 101.1,162.4" fill="#c28a12"/><polygon points="109.0,189.1 111.1,187.9 111.1,195.3 109.0,196.5" fill="#a3740f"/><polygon points="92.3,169.8 91.4,164.3 85.6,167.9" fill="#c28a12"/><polygon points="78.9,165.9 85.6,167.9 83.4,170.6 76.7,168.6" fill="#d69915"/><polygon points="93.5,188.8 96.8,189.8 96.8,197.2 93.5,196.2" fill="#dd9e16"/><polygon points="92.3,169.8 97.8,171.4 101.1,162.4" fill="#c28a12"/><polygon points="81.3,177.9 88.0,179.8 88.0,187.2 81.3,185.3" fill="#dd9e16"/><polygon points="75.1,172.3 81.8,174.2 81.3,177.9 74.6,175.9" fill="#f4b123"/><polygon points="97.8,171.4 105.7,170.3 101.1,162.4" fill="#c28a12"/><polygon points="106.2,190.0 109.0,189.1 109.0,196.5 106.3,197.4" fill="#b98411"/><polygon points="76.7,168.6 83.4,170.6 81.8,174.2 75.1,172.3" fill="#ffc231"/><polygon points="96.8,189.8 99.8,190.3 99.8,197.7 96.8,197.2" fill="#dfa018"/><polygon points="103.1,190.4 106.2,190.0 106.3,197.4 103.1,197.8" fill="#cc9214"/><polygon points="99.8,190.3 103.1,190.4 103.1,197.8 99.8,197.7" fill="#db9d18"/><polygon points="111.0,180.5 113.0,178.8 113.1,186.2 111.1,187.9" fill="#976b0e"/><polygon points="112.0,175.3 115.3,172.6 116.3,176.1 113.0,178.8" fill="#a4750f"/><polygon points="105.7,170.3 108.9,167.6 112.6,169.5 109.3,172.2" fill="#c38b12"/><polygon points="85.6,167.9 92.3,169.8 90.1,172.5 83.4,170.6" fill="#d69915"/><polygon points="109.3,172.2 112.6,169.5 115.3,172.6 112.0,175.3" fill="#ba8411"/><polygon points="88.0,179.8 93.4,181.4 93.5,188.8 88.0,187.2" fill="#dd9e16"/><polygon points="81.8,174.2 88.5,176.2 88.0,179.8 81.3,177.9" fill="#f4b123"/><polygon points="83.4,170.6 90.1,172.5 88.5,176.2 81.8,174.2" fill="#ffc231"/><polygon points="109.0,181.7 111.0,180.5 111.1,187.9 109.0,189.1" fill="#a3740f"/><polygon points="93.4,181.4 96.7,182.3 96.8,189.8 93.5,188.8" fill="#dd9e16"/><polygon points="110.1,177.0 112.0,175.3 113.0,178.8 111.0,180.5" fill="#a4750f"/><polygon points="103.7,172.0 105.7,170.3 97.8,171.4" fill="#c28a12"/><polygon points="92.3,169.8 97.8,171.4 95.6,174.1 90.1,172.5" fill="#d69915"/><polygon points="106.2,182.6 109.0,181.7 109.0,189.1 106.2,190.0" fill="#b98411"/><polygon points="103.7,172.0 105.7,170.3 109.3,172.2 107.4,173.9" fill="#c38b12"/><polygon points="107.4,173.9 109.3,172.2 112.0,175.3 110.1,177.0" fill="#ba8411"/><polygon points="96.7,182.3 99.8,182.9 99.8,190.3 96.8,189.8" fill="#dfa018"/><polygon points="88.5,176.2 94.0,177.7 93.4,181.4 88.0,179.8" fill="#f4b123"/><polygon points="101.1,172.3 103.7,172.0 97.8,171.4" fill="#c28a12"/><polygon points="103.0,183.0 106.2,182.6 106.2,190.0 103.1,190.4" fill="#cc9214"/><polygon points="90.1,172.5 95.6,174.1 94.0,177.7 88.5,176.2" fill="#ffc231"/><polygon points="99.8,182.9 103.0,183.0 103.1,190.4 99.8,190.3" fill="#db9d18"/><polygon points="103.7,172.0 102.8,172.4 103.3,172.2" fill="#c28a12"/><polygon points="103.7,172.0 101.1,172.3 101.6,172.4" fill="#c28a12"/><polygon points="102.8,172.4 103.7,172.0 102.2,172.5" fill="#c28a12"/><polygon points="103.7,172.0 101.6,172.4 102.2,172.5" fill="#c28a12"/><polygon points="108.2,178.1 110.1,177.0 111.0,180.5 109.0,181.7" fill="#b07d10"/><polygon points="97.8,171.4 101.1,172.3 98.9,175.0 95.6,174.1" fill="#d69915"/><polygon points="103.3,172.2 103.7,172.0 107.4,173.9 106.1,174.6" fill="#c68d12"/><polygon points="102.8,172.4 103.3,172.2 106.1,174.6 104.5,175.2" fill="#cc9213"/><polygon points="106.1,174.6 107.4,173.9 110.1,177.0 108.2,178.1" fill="#c38b12"/><polygon points="94.0,177.7 97.3,178.7 96.7,182.3 93.4,181.4" fill="#f4b123"/><polygon points="101.1,172.3 101.6,172.4 100.7,175.4 98.9,175.0" fill="#d69915"/><polygon points="102.2,172.5 102.8,172.4 104.5,175.2 102.6,175.4" fill="#d29514"/><polygon points="101.6,172.4 102.2,172.5 102.6,175.4 100.7,175.4" fill="#d59815"/><polygon points="95.6,174.1 98.9,175.0 97.3,178.7 94.0,177.7" fill="#ffc231"/><polygon points="105.7,178.9 108.2,178.1 109.0,181.7 106.2,182.6" fill="#c68d13"/><polygon points="104.5,175.2 106.1,174.6 108.2,178.1 105.7,178.9" fill="#d69a18"/><polygon points="97.3,178.7 100.0,179.2 99.8,182.9 96.7,182.3" fill="#fcb92b"/><polygon points="102.9,179.3 105.7,178.9 106.2,182.6 103.0,183.0" fill="#dfa11c"/><polygon points="98.9,175.0 100.7,175.4 100.0,179.2 97.3,178.7" fill="#ffcb3a"/><polygon points="100.0,179.2 102.9,179.3 103.0,183.0 99.8,182.9" fill="#f9b82c"/><polygon points="102.6,175.4 104.5,175.2 105.7,178.9 102.9,179.3" fill="#f2b228"/><polygon points="100.7,175.4 102.6,175.4 102.9,179.3 100.0,179.2" fill="#ffca3c"/></g><path d="M49.7 123.9h0M49.7 124.2h0M49.8 124.4h0M49.9 123.6h0M50.1 124.7h0M50.6 124.9h0M51.9 121.9h0M53.9 125.8h0M55.2 119.2h0M59.2 115.9h0M59.3 127.4h0M63.2 112.5h0M66.0 129.3h0M66.5 109.8h0M66.8 119.7h0M66.9 125.2h0M68.0 114.5h0M68.4 108.1h0M68.8 107.9h0M69.2 162.7h0M69.3 107.7h0M69.3 162.4h0M69.4 163.0h0M69.5 162.1h0M69.7 163.2h0M69.9 107.7h0M70.2 163.4h0M70.5 107.7h0M71.0 107.8h0M71.5 160.5h0M72.7 131.3h0M73.5 164.4h0M74.3 121.9h0M74.4 108.7h0M74.8 157.7h0M76.8 117.9h0M77.8 127.5h0M78.2 132.9h0M78.8 154.4h0M78.9 165.9h0M79.8 110.3h0M81.5 133.8h0M82.8 151.0h0M83.5 161.3h0M83.8 115.2h0M84.5 157.7h0M85.3 124.6h0M85.3 129.5h0M85.5 120.1h0M85.6 167.9h0M86.1 135.7h0M86.1 148.3h0M86.5 112.2h0M88.0 146.7h0M89.2 138.1h0M90.2 143.9h0M90.7 141.0h0M91.4 164.3h0M92.0 133.3h0M92.3 169.8h0M92.4 158.5h0M92.6 153.9h0M93.1 117.8h0M93.2 114.2h0M93.6 122.5h0M94.2 127.0h0M97.8 171.4h0M98.7 115.8h0M101.1 162.4h0M101.1 172.3h0M101.6 172.4h0M101.7 135.3h0M102.0 116.7h0M102.0 140.4h0M102.2 172.5h0M102.6 125.3h0M102.7 131.0h0M102.8 172.4h0M103.2 157.3h0M103.3 172.2h0M103.6 150.8h0M103.7 172.0h0M104.4 120.9h0M104.8 146.1h0M105.7 170.3h0M107.5 117.8h0M108.9 167.6h0M110.8 148.6h0M110.8 154.9h0M111.4 137.1h0M112.7 128.0h0M112.8 142.9h0M113.0 164.3h0M113.4 117.9h0M113.4 133.1h0M114.3 122.2h0M117.0 160.9h0M119.2 117.2h0M119.4 146.7h0M119.7 135.4h0M120.2 158.2h0M121.3 142.0h0M121.9 151.0h0M122.2 156.5h0M122.4 125.2h0M123.4 130.6h0M124.2 115.6h0M126.0 154.2h0M128.0 113.3h0M128.9 143.5h0M129.5 132.9h0M129.6 127.5h0M129.8 117.6h0M130.0 111.6h0M130.1 122.2h0M131.1 152.6h0M131.4 148.6h0M131.9 137.8h0M133.3 108.9h0M136.8 151.9h0M137.3 105.5h0M138.8 145.3h0M138.9 130.7h0M138.9 139.7h0M139.8 135.0h0M140.1 113.8h0M140.1 126.2h0M141.3 102.2h0M141.6 120.2h0M141.9 109.4h0M142.7 152.0h0M144.6 99.4h0M146.5 97.8h0M146.9 97.6h0M147.4 97.4h0M147.7 112.3h0M147.9 117.8h0M148.0 97.3h0M148.0 106.9h0M148.3 153.1h0M148.6 97.3h0M148.9 148.0h0M149.0 133.4h0M149.1 97.4h0M149.2 142.7h0M149.4 127.0h0M150.9 138.0h0M151.2 122.7h0M151.6 154.0h0M152.4 98.4h0M156.4 114.9h0M157.0 155.6h0M157.7 103.6h0M157.9 100.0h0M158.1 141.5h0M158.2 108.8h0M158.6 150.9h0M158.8 145.8h0M159.6 119.4h0M159.6 128.8h0M160.0 125.9h0M161.0 131.7h0M162.2 123.1h0M163.7 157.5h0M164.2 121.5h0M164.2 134.1h0M164.6 101.9h0M165.7 138.7h0M167.0 142.7h0M167.4 118.8h0M167.4 148.7h0M168.7 136.0h0M168.7 153.8h0M170.4 159.5h0M171.3 103.9h0M171.5 115.4h0M172.0 136.9h0M175.5 112.0h0M175.5 151.1h0M175.8 156.6h0M175.9 161.1h0M176.8 105.4h0M176.9 145.7h0M177.5 138.5h0M178.7 109.3h0M179.2 162.0h0M179.7 162.1h0M180.1 106.4h0M180.3 162.1h0M180.5 106.6h0M180.7 107.7h0M180.8 106.8h0M180.9 107.4h0M180.9 162.1h0M181.0 107.1h0M181.4 161.9h0M181.8 161.7h0M183.8 160.0h0M184.2 140.4h0M185.7 144.3h0M186.0 148.5h0M187.0 157.3h0M190.9 142.4h0M191.0 153.9h0M195.1 150.6h0M196.4 144.0h0M198.3 147.9h0M199.7 144.9h0M200.1 145.1h0M200.3 146.2h0M200.4 145.3h0M200.5 145.9h0M200.6 145.6h0" stroke="#1212dc" stroke-width="1.5" stroke-linecap="round" fill="none"/></g>
<g stroke-width="0.5" stroke-linejoin="round"><polygon points="120.5,69.7 120.8,68.5 120.5,70.6 120.3,71.7" stroke="#75520c" fill="#75520c"/><polygon points="119.5,72.8 120.3,71.7 119.5,73.6 118.8,74.5" stroke="#7f5a0e" fill="#7f5a0e"/><polygon points="117.3,76.0 118.8,74.5 117.5,75.9 116.1,77.3" stroke="#76530d" fill="#76530d"/><polygon points="120.5,67.0 120.7,65.8 120.8,68.5 120.5,69.7" stroke="#7f590e" fill="#7f590e"/><polygon points="81.3,26.9 80.4,27.3 79.1,28.0 80.4,27.4" stroke="#7b560d" fill="#7b560d"/><polygon points="119.7,70.8 120.5,69.7 120.3,71.7 119.5,72.8" stroke="#926610" fill="#926610"/><polygon points="118.0,74.2 119.5,72.8 118.8,74.5 117.3,76.0" stroke="#8c620f" fill="#8c620f"/><polygon points="80.4,27.3 79.7,27.8 78.1,28.7 79.1,28.0" stroke="#88600f" fill="#88600f"/><polygon points="120.4,64.2 120.6,63.1 120.7,65.8 120.5,67.0" stroke="#7f590e" fill="#7f590e"/><polygon points="84.2,26.8 83.6,26.8 83.5,26.5 84.7,26.5" stroke="#8a610f" fill="#8a610f"/><polygon points="83.6,26.8 83.0,26.8 82.4,26.6 83.5,26.5" stroke="#8b620f" fill="#8b620f"/><polygon points="84.8,26.8 84.2,26.8 84.7,26.5 85.8,26.6" stroke="#8c620f" fill="#8c620f"/><polygon points="119.7,68.1 120.5,67.0 120.5,69.7 119.7,70.8" stroke="#996c10" fill="#996c10"/><polygon points="83.0,26.8 82.4,27.0 81.3,26.9 82.4,26.6" stroke="#91660f" fill="#91660f"/><polygon points="115.8,77.4 117.3,76.0 116.1,77.3 114.6,78.7" stroke="#76530d" fill="#76530d"/><polygon points="82.4,27.0 82.0,27.2 80.4,27.3 81.3,26.9" stroke="#996c10" fill="#996c10"/><polygon points="118.3,72.2 119.7,70.8 119.5,72.8 118.0,74.2" stroke="#9d6e11" fill="#9d6e11"/><polygon points="87.5,27.5 84.8,26.8 85.8,26.6 88.5,27.3" stroke="#8e630f" fill="#8e630f"/><polygon points="82.0,27.2 81.6,27.4 79.7,27.8 80.4,27.3" stroke="#a47312" fill="#a47312"/><polygon points="79.7,27.8 78.3,29.2 76.6,30.1 78.1,28.7" stroke="#926710" fill="#926710"/><polygon points="120.4,61.5 120.6,60.3 120.6,63.1 120.4,64.2" stroke="#7f590e" fill="#7f590e"/><polygon points="119.6,65.4 120.4,64.2 120.5,67.0 119.7,68.1" stroke="#996c10" fill="#996c10"/><polygon points="116.6,75.7 118.0,74.2 117.3,76.0 115.8,77.4" stroke="#8c620f" fill="#8c620f"/><polygon points="83.6,27.6 83.6,27.6 83.6,26.8 84.2,26.8" stroke="#b17c13" fill="#b17c13"/><polygon points="83.6,27.6 83.6,27.6 83.0,26.8 83.6,26.8" stroke="#b17d13" fill="#b17d13"/><polygon points="90.2,28.1 87.5,27.5 88.5,27.3 91.3,27.9" stroke="#8e630f" fill="#8e630f"/><polygon points="83.6,27.6 83.6,27.6 84.2,26.8 84.8,26.8" stroke="#b17c13" fill="#b17c13"/><polygon points="83.6,27.6 83.6,27.6 82.4,27.0 83.0,26.8" stroke="#b37e13" fill="#b37e13"/><polygon points="118.2,69.5 119.7,68.1 119.7,70.8 118.3,72.2" stroke="#a37212" fill="#a37212"/><polygon points="83.6,27.6 83.6,27.6 82.0,27.2 82.4,27.0" stroke="#b68014" fill="#b68014"/><polygon points="83.6,27.6 83.6,27.6 81.6,27.4 82.0,27.2" stroke="#b98214" fill="#b98214"/><polygon points="81.6,27.4 80.1,28.9 78.3,29.2 79.7,27.8" stroke="#aa7712" fill="#aa7712"/><polygon points="114.4,78.8 115.8,77.4 114.6,78.7 113.1,80.2" stroke="#76530d" fill="#76530d"/><polygon points="120.3,58.8 120.5,57.6 120.6,60.3 120.4,61.5" stroke="#7f590e" fill="#7f590e"/><polygon points="86.4,28.3 83.6,27.6 84.8,26.8 87.5,27.5" stroke="#b27d13" fill="#b27d13"/><polygon points="119.5,62.6 120.4,61.5 120.4,64.2 119.6,65.4" stroke="#996c10" fill="#996c10"/><polygon points="116.8,73.7 118.3,72.2 118.0,74.2 116.6,75.7" stroke="#9d6e11" fill="#9d6e11"/><polygon points="92.9,28.7 90.2,28.1 91.3,27.9 94.0,28.5" stroke="#8e630f" fill="#8e630f"/><polygon points="78.3,29.2 76.8,30.6 75.2,31.5 76.6,30.1" stroke="#926710" fill="#926710"/><polygon points="118.1,66.8 119.6,65.4 119.7,68.1 118.2,69.5" stroke="#a37212" fill="#a37212"/><polygon points="83.6,27.6 82.2,29.1 80.1,28.9 81.6,27.4" stroke="#bb8314" fill="#bb8314"/><polygon points="89.1,28.9 86.4,28.3 87.5,27.5 90.2,28.1" stroke="#b27d13" fill="#b27d13"/><polygon points="115.1,77.1 116.6,75.7 115.8,77.4 114.4,78.8" stroke="#8c620f" fill="#8c620f"/><polygon points="120.2,56.0 120.5,54.9 120.5,57.6 120.3,58.8" stroke="#7f590e" fill="#7f590e"/><polygon points="116.7,70.9 118.2,69.5 118.3,72.2 116.8,73.7" stroke="#a37212" fill="#a37212"/><polygon points="119.5,59.9 120.3,58.8 120.4,61.5 119.5,62.6" stroke="#996c10" fill="#996c10"/><polygon points="95.7,29.3 92.9,28.7 94.0,28.5 96.7,29.1" stroke="#8e630f" fill="#8e630f"/><polygon points="80.1,28.9 78.7,30.3 76.8,30.6 78.3,29.2" stroke="#aa7712" fill="#aa7712"/><polygon points="82.2,29.1 84.9,29.7 86.4,28.3 83.6,27.6" stroke="#c08715" fill="#c08715"/><polygon points="112.9,80.2 114.4,78.8 113.1,80.2 111.7,81.6" stroke="#76530d" fill="#76530d"/><polygon points="118.1,64.1 119.5,62.6 119.6,65.4 118.1,66.8" stroke="#a37212" fill="#a37212"/><polygon points="91.8,29.5 89.1,28.9 90.2,28.1 92.9,28.7" stroke="#b27d13" fill="#b27d13"/><polygon points="115.3,75.1 116.8,73.7 116.6,75.7 115.1,77.1" stroke="#9d6e11" fill="#9d6e11"/><polygon points="120.2,53.3 120.4,52.1 120.5,54.9 120.2,56.0" stroke="#7f590e" fill="#7f590e"/><polygon points="76.8,30.6 75.3,32.1 73.7,33.0 75.2,31.5" stroke="#926710" fill="#926710"/><polygon points="98.4,29.9 95.7,29.3 96.7,29.1 99.5,29.7" stroke="#8e630f" fill="#8e630f"/><polygon points="116.7,68.2 118.1,66.8 118.2,69.5 116.7,70.9" stroke="#a37212" fill="#a37212"/><polygon points="82.2,29.1 80.7,30.5 78.7,30.3 80.1,28.9" stroke="#bb8314" fill="#bb8314"/><polygon points="119.4,57.2 120.2,56.0 120.3,58.8 119.5,59.9" stroke="#996c10" fill="#996c10"/><polygon points="84.9,29.7 87.6,30.3 89.1,28.9 86.4,28.3" stroke="#c08715" fill="#c08715"/><polygon points="113.6,78.5 115.1,77.1 114.4,78.8 112.9,80.2" stroke="#8c620f" fill="#8c620f"/><polygon points="94.6,30.1 91.8,29.5 92.9,28.7 95.7,29.3" stroke="#b27d13" fill="#b27d13"/><polygon points="118.0,61.3 119.5,59.9 119.5,62.6 118.1,64.1" stroke="#a37212" fill="#a37212"/><polygon points="115.3,72.4 116.7,70.9 116.8,73.7 115.3,75.1" stroke="#a37212" fill="#a37212"/><polygon points="78.7,30.3 77.2,31.7 75.3,32.1 76.8,30.6" stroke="#aa7712" fill="#aa7712"/><polygon points="120.1,50.6 120.3,49.4 120.4,52.1 120.2,53.3" stroke="#7f590e" fill="#7f590e"/><polygon points="80.7,30.5 83.5,31.1 84.9,29.7 82.2,29.1" stroke="#c08715" fill="#c08715"/><polygon points="101.1,30.6 98.4,29.9 99.5,29.7 102.2,30.4" stroke="#8e630f" fill="#8e630f"/><polygon points="65.6,85.1 67.0,85.6 67.9,86.0 66.9,85.7" stroke="#78540d" fill="#78540d"/><polygon points="111.4,81.6 112.9,80.2 111.7,81.6 110.2,83.0" stroke="#76530d" fill="#76530d"/><polygon points="87.6,30.3 90.4,30.9 91.8,29.5 89.1,28.9" stroke="#c08715" fill="#c08715"/><polygon points="116.6,65.5 118.1,64.1 118.1,66.8 116.7,68.2" stroke="#a37212" fill="#a37212"/><polygon points="60.9,77.6 61.2,78.7 61.6,80.7 61.2,79.6" stroke="#885f0f" fill="#885f0f"/><polygon points="119.3,54.4 120.2,53.3 120.2,56.0 119.4,57.2" stroke="#996c10" fill="#996c10"/><polygon points="113.9,76.5 115.3,75.1 115.1,77.1 113.6,78.5" stroke="#9d6e11" fill="#9d6e11"/><polygon points="97.3,30.7 94.6,30.1 95.7,29.3 98.4,29.9" stroke="#b27d13" fill="#b27d13"/><polygon points="75.3,32.1 73.9,33.5 72.3,34.4 73.7,33.0" stroke="#926710" fill="#926710"/><polygon points="63.3,83.3 64.6,84.1 65.6,85.1 64.6,84.5" stroke="#8c630f" fill="#8c630f"/><polygon points="61.6,80.7 62.5,81.7 63.3,83.3 62.5,82.4" stroke="#916610" fill="#916610"/><polygon points="117.9,58.6 119.4,57.2 119.5,59.9 118.0,61.3" stroke="#a37212" fill="#a37212"/><polygon points="67.0,85.6 69.7,86.2 70.6,86.6 67.9,86.0" stroke="#7e590d" fill="#7e590d"/><polygon points="115.2,69.6 116.7,68.2 116.7,70.9 115.3,72.4" stroke="#a37212" fill="#a37212"/><polygon points="80.7,30.5 79.3,31.9 77.2,31.7 78.7,30.3" stroke="#bb8314" fill="#bb8314"/><polygon points="83.5,31.1 86.2,31.7 87.6,30.3 84.9,29.7" stroke="#c08715" fill="#c08715"/><polygon points="103.9,31.2 101.1,30.6 102.2,30.4 104.9,31.0" stroke="#8e630f" fill="#8e630f"/><polygon points="120.0,47.9 120.3,46.7 120.3,49.4 120.1,50.6" stroke="#7f590e" fill="#7f590e"/><polygon points="112.2,79.9 113.6,78.5 112.9,80.2 111.4,81.6" stroke="#8c620f" fill="#8c620f"/><polygon points="90.4,30.9 93.1,31.5 94.6,30.1 91.8,29.5" stroke="#c08715" fill="#c08715"/><polygon points="60.8,74.8 61.2,76.0 61.2,78.7 60.9,77.6" stroke="#956810" fill="#956810"/><polygon points="116.5,62.8 118.0,61.3 118.1,64.1 116.6,65.5" stroke="#a37212" fill="#a37212"/><polygon points="119.3,51.7 120.1,50.6 120.2,53.3 119.3,54.4" stroke="#996c10" fill="#996c10"/><polygon points="113.8,73.8 115.3,72.4 115.3,75.1 113.9,76.5" stroke="#a37212" fill="#a37212"/><polygon points="64.6,84.1 66.3,84.6 67.0,85.6 65.6,85.1" stroke="#9e6f11" fill="#9e6f11"/><polygon points="100.0,31.4 97.3,30.7 98.4,29.9 101.1,30.6" stroke="#b27d13" fill="#b27d13"/><polygon points="61.2,78.7 62.2,79.7 62.5,81.7 61.6,80.7" stroke="#ac7912" fill="#ac7912"/><polygon points="77.2,31.7 75.7,33.1 73.9,33.5 75.3,32.1" stroke="#aa7712" fill="#aa7712"/><polygon points="69.7,86.2 72.4,86.8 73.3,87.2 70.6,86.6" stroke="#7e590d" fill="#7e590d"/><polygon points="79.3,31.9 82.0,32.5 83.5,31.1 80.7,30.5" stroke="#c08715" fill="#c08715"/><polygon points="110.0,83.1 111.4,81.6 110.2,83.0 108.7,84.4" stroke="#76530d" fill="#76530d"/><polygon points="62.5,81.7 64.0,82.5 64.6,84.1 63.3,83.3" stroke="#ac7913" fill="#ac7913"/><polygon points="117.9,55.9 119.3,54.4 119.4,57.2 117.9,58.6" stroke="#a37212" fill="#a37212"/><polygon points="86.2,31.7 88.9,32.3 90.4,30.9 87.6,30.3" stroke="#c08715" fill="#c08715"/><polygon points="106.6,31.8 103.9,31.2 104.9,31.0 107.7,31.6" stroke="#8e630f" fill="#8e630f"/><polygon points="115.1,66.9 116.6,65.5 116.7,68.2 115.2,69.6" stroke="#a37212" fill="#a37212"/><polygon points="93.1,31.5 95.8,32.2 97.3,30.7 94.6,30.1" stroke="#c08715" fill="#c08715"/><polygon points="112.4,77.9 113.9,76.5 113.6,78.5 112.2,79.9" stroke="#9d6e11" fill="#9d6e11"/><polygon points="120.0,45.1 120.2,44.0 120.3,46.7 120.0,47.9" stroke="#7f590e" fill="#7f590e"/><polygon points="66.3,84.6 69.0,85.2 69.7,86.2 67.0,85.6" stroke="#a57412" fill="#a57412"/><polygon points="60.7,72.1 61.1,73.3 61.2,76.0 60.8,74.8" stroke="#956810" fill="#956810"/><polygon points="73.9,33.5 72.4,34.9 70.8,35.8 72.3,34.4" stroke="#926710" fill="#926710"/><polygon points="102.8,32.0 100.0,31.4 101.1,30.6 103.9,31.2" stroke="#b27d13" fill="#b27d13"/><polygon points="116.5,60.0 117.9,58.6 118.0,61.3 116.5,62.8" stroke="#a37212" fill="#a37212"/><polygon points="119.2,49.0 120.0,47.9 120.1,50.6 119.3,51.7" stroke="#996c10" fill="#996c10"/><polygon points="113.7,71.1 115.2,69.6 115.3,72.4 113.8,73.8" stroke="#a37212" fill="#a37212"/><polygon points="79.3,31.9 77.8,33.3 75.7,33.1 77.2,31.7" stroke="#bb8314" fill="#bb8314"/><polygon points="61.2,76.0 62.1,77.0 62.2,79.7 61.2,78.7" stroke="#b78114" fill="#b78114"/><polygon points="72.4,86.8 75.2,87.4 76.1,87.8 73.3,87.2" stroke="#7e590d" fill="#7e590d"/><polygon points="82.0,32.5 84.7,33.1 86.2,31.7 83.5,31.1" stroke="#c08715" fill="#c08715"/><polygon points="64.0,82.5 65.8,83.1 66.3,84.6 64.6,84.1" stroke="#be8514" fill="#be8514"/><polygon points="110.7,81.3 112.2,79.9 111.4,81.6 110.0,83.1" stroke="#8c620f" fill="#8c620f"/><polygon points="88.9,32.3 91.6,33.0 93.1,31.5 90.4,30.9" stroke="#c08715" fill="#c08715"/><polygon points="109.3,32.4 106.6,31.8 107.7,31.6 110.4,32.2" stroke="#8e630f" fill="#8e630f"/><polygon points="62.2,79.7 63.7,80.6 64.0,82.5 62.5,81.7" stroke="#c58b15" fill="#c58b15"/><polygon points="117.8,53.1 119.3,51.7 119.3,54.4 117.9,55.9" stroke="#a37212" fill="#a37212"/><polygon points="95.8,32.2 98.6,32.8 100.0,31.4 97.3,30.7" stroke="#c08715" fill="#c08715"/><polygon points="115.1,64.2 116.5,62.8 116.6,65.5 115.1,66.9" stroke="#a37212" fill="#a37212"/><polygon points="112.3,75.2 113.8,73.8 113.9,76.5 112.4,77.9" stroke="#a37212" fill="#a37212"/><polygon points="69.0,85.2 71.7,85.8 72.4,86.8 69.7,86.2" stroke="#a57412" fill="#a57412"/><polygon points="119.9,42.4 120.1,41.2 120.2,44.0 120.0,45.1" stroke="#7f590e" fill="#7f590e"/><polygon points="105.5,32.6 102.8,32.0 103.9,31.2 106.6,31.8" stroke="#b27d13" fill="#b27d13"/><polygon points="117.1,35.0 116.4,34.3 117.7,35.5 118.5,36.4" stroke="#75520c" fill="#75520c"/><polygon points="75.7,33.1 74.3,34.6 72.4,34.9 73.9,33.5" stroke="#aa7712" fill="#aa7712"/><polygon points="60.7,69.4 61.1,70.5 61.1,73.3 60.7,72.1" stroke="#956810" fill="#956810"/><polygon points="77.8,33.3 80.5,34.0 82.0,32.5 79.3,31.9" stroke="#c08715" fill="#c08715"/><polygon points="108.5,84.5 110.0,83.1 108.7,84.4 107.3,85.8" stroke="#76530d" fill="#76530d"/><polygon points="116.4,57.3 117.9,55.9 117.9,58.6 116.5,60.0" stroke="#a37212" fill="#a37212"/><polygon points="119.1,46.3 120.0,45.1 120.0,47.9 119.2,49.0" stroke="#996c10" fill="#996c10"/><polygon points="75.2,87.4 77.9,88.0 78.8,88.4 76.1,87.8" stroke="#7e590d" fill="#7e590d"/><polygon points="84.7,33.1 87.5,33.8 88.9,32.3 86.2,31.7" stroke="#c08715" fill="#c08715"/><polygon points="114.8,33.6 114.1,33.1 115.4,33.7 116.4,34.3" stroke="#7a560d" fill="#7a560d"/><polygon points="65.8,83.1 68.5,83.7 69.0,85.2 66.3,84.6" stroke="#c48915" fill="#c48915"/><polygon points="113.7,68.3 115.1,66.9 115.2,69.6 113.7,71.1" stroke="#a37212" fill="#a37212"/><polygon points="118.8,37.3 118.5,36.4 119.4,38.1 119.8,39.2" stroke="#7b560d" fill="#7b560d"/><polygon points="61.1,73.3 62.1,74.3 62.1,77.0 61.2,76.0" stroke="#b78114" fill="#b78114"/><polygon points="91.6,33.0 94.4,33.6 95.8,32.2 93.1,31.5" stroke="#c08715" fill="#c08715"/><polygon points="112.1,33.0 109.3,32.4 110.4,32.2 113.1,32.8" stroke="#8e630f" fill="#8e630f"/><polygon points="110.9,79.4 112.4,77.9 112.2,79.9 110.7,81.3" stroke="#9d6e11" fill="#9d6e11"/><polygon points="63.7,80.6 65.6,81.2 65.8,83.1 64.0,82.5" stroke="#d49517" fill="#d49517"/><polygon points="62.1,77.0 63.6,77.9 63.7,80.6 62.2,79.7" stroke="#cf9116" fill="#cf9116"/><polygon points="98.6,32.8 101.3,33.4 102.8,32.0 100.0,31.4" stroke="#c08715" fill="#c08715"/><polygon points="117.7,50.4 119.2,49.0 119.3,51.7 117.8,53.1" stroke="#a37212" fill="#a37212"/><polygon points="72.4,34.9 70.9,36.3 69.3,37.2 70.8,35.8" stroke="#926710" fill="#926710"/><polygon points="115.0,61.4 116.5,60.0 116.5,62.8 115.1,64.2" stroke="#a37212" fill="#a37212"/><polygon points="71.7,85.8 74.5,86.4 75.2,87.4 72.4,86.8" stroke="#a57412" fill="#a57412"/><polygon points="119.6,40.3 119.8,39.2 120.1,41.2 119.9,42.4" stroke="#875f0e" fill="#875f0e"/><polygon points="112.3,72.5 113.7,71.1 113.8,73.8 112.3,75.2" stroke="#a37212" fill="#a37212"/><polygon points="77.8,33.3 76.3,34.8 74.3,34.6 75.7,33.1" stroke="#bb8314" fill="#bb8314"/><polygon points="108.2,33.2 105.5,32.6 106.6,31.8 109.3,32.4" stroke="#b27d13" fill="#b27d13"/><polygon points="115.3,34.1 114.8,33.6 116.4,34.3 117.1,35.0" stroke="#8b610f" fill="#8b610f"/><polygon points="80.5,34.0 83.3,34.6 84.7,33.1 82.0,32.5" stroke="#c08715" fill="#c08715"/><polygon points="112.6,33.2 112.1,33.0 113.1,32.8 114.1,33.1" stroke="#916610" fill="#916610"/><polygon points="117.4,35.8 117.1,35.0 118.5,36.4 118.8,37.3" stroke="#8c620f" fill="#8c620f"/><polygon points="60.6,66.7 61.0,67.8 61.1,70.5 60.7,69.4" stroke="#956810" fill="#956810"/><polygon points="77.9,88.0 80.6,88.7 81.5,89.1 78.8,88.4" stroke="#7e590d" fill="#7e590d"/><polygon points="109.2,82.8 110.7,81.3 110.0,83.1 108.5,84.5" stroke="#8c620f" fill="#8c620f"/><polygon points="87.5,33.8 90.2,34.4 91.6,33.0 88.9,32.3" stroke="#c08715" fill="#c08715"/><polygon points="68.5,83.7 71.3,84.3 71.7,85.8 69.0,85.2" stroke="#c48915" fill="#c48915"/><polygon points="116.3,54.6 117.8,53.1 117.9,55.9 116.4,57.3" stroke="#a37212" fill="#a37212"/><polygon points="119.1,43.5 119.9,42.4 120.0,45.1 119.1,46.3" stroke="#996c10" fill="#996c10"/><polygon points="94.4,33.6 97.1,34.2 98.6,32.8 95.8,32.2" stroke="#c08715" fill="#c08715"/><polygon points="113.6,65.6 115.1,64.2 115.1,66.9 113.7,68.3" stroke="#a37212" fill="#a37212"/><polygon points="65.6,81.2 68.3,81.8 68.5,83.7 65.8,83.1" stroke="#d99817" fill="#d99817"/><polygon points="113.0,33.4 112.6,33.2 114.1,33.1 114.8,33.6" stroke="#996c10" fill="#996c10"/><polygon points="61.1,70.5 62.0,71.5 62.1,74.3 61.1,73.3" stroke="#b78114" fill="#b78114"/><polygon points="110.9,76.6 112.3,75.2 112.4,77.9 110.9,79.4" stroke="#a37212" fill="#a37212"/><polygon points="63.6,77.9 65.5,78.5 65.6,81.2 63.7,80.6" stroke="#dc9b18" fill="#dc9b18"/><polygon points="101.3,33.4 104.0,34.0 105.5,32.6 102.8,32.0" stroke="#c08715" fill="#c08715"/><polygon points="62.1,74.3 63.6,75.1 63.6,77.9 62.1,77.0" stroke="#cf9116" fill="#cf9116"/><polygon points="118.6,38.4 118.8,37.3 119.8,39.2 119.6,40.3" stroke="#956910" fill="#956910"/><polygon points="74.3,34.6 72.8,36.0 70.9,36.3 72.4,34.9" stroke="#aa7712" fill="#aa7712"/><polygon points="74.5,86.4 77.2,87.1 77.9,88.0 75.2,87.4" stroke="#a57412" fill="#a57412"/><polygon points="117.7,47.7 119.1,46.3 119.2,49.0 117.7,50.4" stroke="#a37212" fill="#a37212"/><polygon points="76.3,34.8 79.1,35.4 80.5,34.0 77.8,33.3" stroke="#c08715" fill="#c08715"/><polygon points="107.0,85.9 108.5,84.5 107.3,85.8 105.8,87.3" stroke="#76530d" fill="#76530d"/><polygon points="115.5,34.6 115.3,34.1 117.1,35.0 117.4,35.8" stroke="#9d6f11" fill="#9d6f11"/><polygon points="114.9,58.7 116.4,57.3 116.5,60.0 115.0,61.4" stroke="#a37212" fill="#a37212"/><polygon points="111.0,33.8 108.2,33.2 109.3,32.4 112.1,33.0" stroke="#b27d13" fill="#b27d13"/><polygon points="113.2,33.7 113.0,33.4 114.8,33.6 115.3,34.1" stroke="#a37312" fill="#a37312"/><polygon points="83.3,34.6 86.0,35.2 87.5,33.8 84.7,33.1" stroke="#c08715" fill="#c08715"/><polygon points="112.2,69.7 113.7,68.3 113.7,71.1 112.3,72.5" stroke="#a37212" fill="#a37212"/><polygon points="80.6,88.7 83.4,89.3 84.3,89.7 81.5,89.1" stroke="#7e590d" fill="#7e590d"/><polygon points="90.2,34.4 92.9,35.0 94.4,33.6 91.6,33.0" stroke="#c08715" fill="#c08715"/><polygon points="71.3,84.3 74.0,84.9 74.5,86.4 71.7,85.8" stroke="#c48915" fill="#c48915"/><polygon points="109.5,80.8 110.9,79.4 110.7,81.3 109.2,82.8" stroke="#9d6e11" fill="#9d6e11"/><polygon points="117.2,36.6 117.4,35.8 118.8,37.3 118.6,38.4" stroke="#a27211" fill="#a27211"/><polygon points="118.8,41.4 119.6,40.3 119.9,42.4 119.1,43.5" stroke="#9f7011" fill="#9f7011"/><polygon points="60.5,63.9 60.9,65.1 61.0,67.8 60.6,66.7" stroke="#956810" fill="#956810"/><polygon points="97.1,34.2 99.8,34.8 101.3,33.4 98.6,32.8" stroke="#c08715" fill="#c08715"/><polygon points="68.3,81.8 71.1,82.4 71.3,84.3 68.5,83.7" stroke="#d99817" fill="#d99817"/><polygon points="116.3,51.8 117.7,50.4 117.8,53.1 116.3,54.6" stroke="#a37212" fill="#a37212"/><polygon points="70.9,36.3 69.5,37.8 67.9,38.6 69.3,37.2" stroke="#926710" fill="#926710"/><polygon points="111.0,33.8 111.0,33.8 112.1,33.0 112.6,33.2" stroke="#b37e13" fill="#b37e13"/><polygon points="65.5,78.5 68.3,79.1 68.3,81.8 65.6,81.2" stroke="#e09d18" fill="#e09d18"/><polygon points="113.3,34.0 113.2,33.7 115.3,34.1 115.5,34.6" stroke="#ae7b13" fill="#ae7b13"/><polygon points="113.5,62.9 115.0,61.4 115.1,64.2 113.6,65.6" stroke="#a37212" fill="#a37212"/><polygon points="104.0,34.0 106.8,34.6 108.2,33.2 105.5,32.6" stroke="#c08715" fill="#c08715"/><polygon points="111.0,33.8 111.0,33.8 112.6,33.2 113.0,33.4" stroke="#b57f13" fill="#b57f13"/><polygon points="61.0,67.8 62.0,68.8 62.0,71.5 61.1,70.5" stroke="#b78114" fill="#b78114"/><polygon points="110.8,73.9 112.3,72.5 112.3,75.2 110.9,76.6" stroke="#a37212" fill="#a37212"/><polygon points="76.3,34.8 74.9,36.2 72.8,36.0 74.3,34.6" stroke="#bb8314" fill="#bb8314"/><polygon points="63.6,75.1 65.5,75.7 65.5,78.5 63.6,77.9" stroke="#dc9b18" fill="#dc9b18"/><polygon points="77.2,87.1 79.9,87.7 80.6,88.7 77.9,88.0" stroke="#a57412" fill="#a57412"/><polygon points="111.0,33.8 111.0,33.8 113.0,33.4 113.2,33.7" stroke="#b88114" fill="#b88114"/><polygon points="62.0,71.5 63.5,72.4 63.6,75.1 62.1,74.3" stroke="#cf9116" fill="#cf9116"/><polygon points="79.1,35.4 81.8,36.0 83.3,34.6 80.5,34.0" stroke="#c08715" fill="#c08715"/><polygon points="115.4,35.2 115.5,34.6 117.4,35.8 117.2,36.6" stroke="#b07b13" fill="#b07b13"/><polygon points="117.6,45.0 119.1,43.5 119.1,46.3 117.7,47.7" stroke="#a37212" fill="#a37212"/><polygon points="111.0,33.8 111.0,33.8 113.2,33.7 113.3,34.0" stroke="#bb8414" fill="#bb8414"/><polygon points="107.8,84.2 109.2,82.8 108.5,84.5 107.0,85.9" stroke="#8c620f" fill="#8c620f"/><polygon points="86.0,35.2 88.7,35.8 90.2,34.4 87.5,33.8" stroke="#c08715" fill="#c08715"/><polygon points="117.9,39.3 118.6,38.4 119.6,40.3 118.8,41.4" stroke="#ad7913" fill="#ad7913"/><polygon points="114.9,56.0 116.3,54.6 116.4,57.3 114.9,58.7" stroke="#a37212" fill="#a37212"/><polygon points="113.2,34.3 113.3,34.0 115.5,34.6 115.4,35.2" stroke="#b98214" fill="#b98214"/><polygon points="83.4,89.3 86.1,89.9 87.0,90.3 84.3,89.7" stroke="#7e590d" fill="#7e590d"/><polygon points="111.0,33.8 111.0,33.8 113.3,34.0 113.2,34.3" stroke="#bf8615" fill="#bf8615"/><polygon points="92.9,35.0 95.7,35.6 97.1,34.2 94.4,33.6" stroke="#c08715" fill="#c08715"/><polygon points="74.0,84.9 76.7,85.6 77.2,87.1 74.5,86.4" stroke="#c48915" fill="#c48915"/><polygon points="112.1,67.0 113.6,65.6 113.7,68.3 112.2,69.7" stroke="#a37212" fill="#a37212"/><polygon points="109.4,78.1 110.9,76.6 110.9,79.4 109.5,80.8" stroke="#a37212" fill="#a37212"/><polygon points="99.8,34.8 102.6,35.4 104.0,34.0 101.3,33.4" stroke="#c08715" fill="#c08715"/><polygon points="111.0,33.8 111.0,33.8 113.2,34.3 113.0,34.6" stroke="#c38915" fill="#c38915"/><polygon points="71.1,82.4 73.8,83.0 74.0,84.9 71.3,84.3" stroke="#d99817" fill="#d99817"/><polygon points="68.3,79.1 71.0,79.7 71.1,82.4 68.3,81.8" stroke="#e09d18" fill="#e09d18"/><polygon points="116.6,37.4 117.2,36.6 118.6,38.4 117.9,39.3" stroke="#b88114" fill="#b88114"/><polygon points="60.5,61.2 60.9,62.3 60.9,65.1 60.5,63.9" stroke="#956810" fill="#956810"/><polygon points="106.8,34.6 109.5,35.3 111.0,33.8 108.2,33.2" stroke="#c08715" fill="#c08715"/><polygon points="72.8,36.0 71.4,37.4 69.5,37.8 70.9,36.3" stroke="#aa7712" fill="#aa7712"/><polygon points="116.2,49.1 117.7,47.7 117.7,50.4 116.3,51.8" stroke="#a37212" fill="#a37212"/><polygon points="74.9,36.2 77.6,36.8 79.1,35.4 76.3,34.8" stroke="#c08715" fill="#c08715"/><polygon points="105.6,87.3 107.0,85.9 105.8,87.3 104.4,88.7" stroke="#76530d" fill="#76530d"/><polygon points="65.5,75.7 68.2,76.3 68.3,79.1 65.5,78.5" stroke="#e09d18" fill="#e09d18"/><polygon points="113.0,34.6 113.2,34.3 115.4,35.2 115.0,35.8" stroke="#c38915" fill="#c38915"/><polygon points="113.5,60.1 114.9,58.7 115.0,61.4 113.5,62.9" stroke="#a37212" fill="#a37212"/><polygon points="115.0,35.8 115.4,35.2 117.2,36.6 116.6,37.4" stroke="#c08715" fill="#c08715"/><polygon points="79.9,87.7 82.7,88.3 83.4,89.3 80.6,88.7" stroke="#a57412" fill="#a57412"/><polygon points="81.8,36.0 84.5,36.6 86.0,35.2 83.3,34.6" stroke="#c08715" fill="#c08715"/><polygon points="60.9,65.1 61.9,66.1 62.0,68.8 61.0,67.8" stroke="#b78114" fill="#b78114"/><polygon points="110.7,71.2 112.2,69.7 112.3,72.5 110.8,73.9" stroke="#a37212" fill="#a37212"/><polygon points="63.5,72.4 65.4,73.0 65.5,75.7 63.6,75.1" stroke="#dc9b18" fill="#dc9b18"/><polygon points="117.3,42.8 118.8,41.4 119.1,43.5 117.6,45.0" stroke="#ab7812" fill="#ab7812"/><polygon points="62.0,68.8 63.4,69.7 63.5,72.4 62.0,71.5" stroke="#cf9116" fill="#cf9116"/><polygon points="88.7,35.8 91.5,36.4 92.9,35.0 90.2,34.4" stroke="#c08715" fill="#c08715"/><polygon points="108.0,82.2 109.5,80.8 109.2,82.8 107.8,84.2" stroke="#9d6e11" fill="#9d6e11"/><polygon points="86.1,89.9 88.8,90.5 89.7,90.9 87.0,90.3" stroke="#7e590d" fill="#7e590d"/><polygon points="95.7,35.6 98.4,36.2 99.8,34.8 97.1,34.2" stroke="#c08715" fill="#c08715"/><polygon points="76.7,85.6 79.5,86.2 79.9,87.7 77.2,87.1" stroke="#c48915" fill="#c48915"/><polygon points="114.8,53.3 116.3,51.8 116.3,54.6 114.9,56.0" stroke="#a37212" fill="#a37212"/><polygon points="69.5,37.8 68.0,39.2 66.4,40.1 67.9,38.6" stroke="#926710" fill="#926710"/><polygon points="112.1,64.3 113.5,62.9 113.6,65.6 112.1,67.0" stroke="#a37212" fill="#a37212"/><polygon points="102.6,35.4 105.3,36.1 106.8,34.6 104.0,34.0" stroke="#c08715" fill="#c08715"/><polygon points="109.5,35.3 111.0,33.8 113.0,34.6 111.6,36.0" stroke="#c48a15" fill="#c48a15"/><polygon points="73.8,83.0 76.5,83.7 76.7,85.6 74.0,84.9" stroke="#d99817" fill="#d99817"/><polygon points="109.3,75.3 110.8,73.9 110.9,76.6 109.4,78.1" stroke="#a37212" fill="#a37212"/><polygon points="71.0,79.7 73.7,80.3 73.8,83.0 71.1,82.4" stroke="#e09d18" fill="#e09d18"/><polygon points="74.9,36.2 73.4,37.6 71.4,37.4 72.8,36.0" stroke="#bb8314" fill="#bb8314"/><polygon points="116.5,40.8 117.9,39.3 118.8,41.4 117.3,42.8" stroke="#b88114" fill="#b88114"/><polygon points="77.6,36.8 80.3,37.4 81.8,36.0 79.1,35.4" stroke="#c08715" fill="#c08715"/><polygon points="68.2,76.3 70.9,77.0 71.0,79.7 68.3,79.1" stroke="#e09d18" fill="#e09d18"/><polygon points="60.4,58.5 60.8,59.6 60.9,62.3 60.5,61.2" stroke="#956810" fill="#956810"/><polygon points="82.7,88.3 85.4,88.9 86.1,89.9 83.4,89.3" stroke="#a57412" fill="#a57412"/><polygon points="116.1,46.4 117.6,45.0 117.7,47.7 116.2,49.1" stroke="#a37212" fill="#a37212"/><polygon points="106.3,85.6 107.8,84.2 107.0,85.9 105.6,87.3" stroke="#8c620f" fill="#8c620f"/><polygon points="84.5,36.6 87.3,37.2 88.7,35.8 86.0,35.2" stroke="#c08715" fill="#c08715"/><polygon points="65.4,73.0 68.1,73.6 68.2,76.3 65.5,75.7" stroke="#e09d18" fill="#e09d18"/><polygon points="111.6,36.0 113.0,34.6 115.0,35.8 113.5,37.2" stroke="#c88c16" fill="#c88c16"/><polygon points="113.4,57.4 114.9,56.0 114.9,58.7 113.5,60.1" stroke="#a37212" fill="#a37212"/><polygon points="115.2,38.8 116.6,37.4 117.9,39.3 116.5,40.8" stroke="#c18815" fill="#c18815"/><polygon points="91.5,36.4 94.2,37.0 95.7,35.6 92.9,35.0" stroke="#c08715" fill="#c08715"/><polygon points="60.9,62.3 61.8,63.4 61.9,66.1 60.9,65.1" stroke="#b78114" fill="#b78114"/><polygon points="110.7,68.4 112.1,67.0 112.2,69.7 110.7,71.2" stroke="#a37212" fill="#a37212"/><polygon points="63.4,69.7 65.3,70.3 65.4,73.0 63.5,72.4" stroke="#dc9b18" fill="#dc9b18"/><polygon points="113.5,37.2 115.0,35.8 116.6,37.4 115.2,38.8" stroke="#c78c15" fill="#c78c15"/><polygon points="107.9,79.5 109.4,78.1 109.5,80.8 108.0,82.2" stroke="#a37212" fill="#a37212"/><polygon points="61.9,66.1 63.4,66.9 63.4,69.7 62.0,68.8" stroke="#cf9116" fill="#cf9116"/><polygon points="88.8,90.5 91.6,91.1 92.5,91.5 89.7,90.9" stroke="#7e590d" fill="#7e590d"/><polygon points="98.4,36.2 101.1,36.9 102.6,35.4 99.8,34.8" stroke="#c08715" fill="#c08715"/><polygon points="79.5,86.2 82.2,86.8 82.7,88.3 79.9,87.7" stroke="#c48915" fill="#c48915"/><polygon points="105.3,36.1 108.0,36.7 109.5,35.3 106.8,34.6" stroke="#c08715" fill="#c08715"/><polygon points="71.4,37.4 69.9,38.8 68.0,39.2 69.5,37.8" stroke="#aa7712" fill="#aa7712"/><polygon points="76.5,83.7 79.3,84.3 79.5,86.2 76.7,85.6" stroke="#d99817" fill="#d99817"/><polygon points="114.7,50.5 116.2,49.1 116.3,51.8 114.8,53.3" stroke="#a37212" fill="#a37212"/><polygon points="73.4,37.6 76.1,38.2 77.6,36.8 74.9,36.2" stroke="#c08715" fill="#c08715"/><polygon points="104.1,88.8 105.6,87.3 104.4,88.7 102.9,90.1" stroke="#76530d" fill="#76530d"/><polygon points="73.7,80.3 76.5,80.9 76.5,83.7 73.8,83.0" stroke="#e09d18" fill="#e09d18"/><polygon points="112.0,61.6 113.5,60.1 113.5,62.9 112.1,64.3" stroke="#a37212" fill="#a37212"/><polygon points="80.3,37.4 83.1,38.0 84.5,36.6 81.8,36.0" stroke="#c08715" fill="#c08715"/><polygon points="109.3,72.6 110.7,71.2 110.8,73.9 109.3,75.3" stroke="#a37212" fill="#a37212"/><polygon points="70.9,77.0 73.7,77.6 73.7,80.3 71.0,79.7" stroke="#e09d18" fill="#e09d18"/><polygon points="85.4,88.9 88.1,89.5 88.8,90.5 86.1,89.9" stroke="#a57412" fill="#a57412"/><polygon points="115.8,44.3 117.3,42.8 117.6,45.0 116.1,46.4" stroke="#ab7812" fill="#ab7812"/><polygon points="87.3,37.2 90.0,37.9 91.5,36.4 88.7,35.8" stroke="#c08715" fill="#c08715"/><polygon points="68.1,73.6 70.9,74.2 70.9,77.0 68.2,76.3" stroke="#e09d18" fill="#e09d18"/><polygon points="106.5,83.6 108.0,82.2 107.8,84.2 106.3,85.6" stroke="#9d6e11" fill="#9d6e11"/><polygon points="60.4,55.7 60.7,56.9 60.8,59.6 60.4,58.5" stroke="#956810" fill="#956810"/><polygon points="94.2,37.0 96.9,37.7 98.4,36.2 95.7,35.6" stroke="#c08715" fill="#c08715"/><polygon points="65.3,70.3 68.1,70.9 68.1,73.6 65.4,73.0" stroke="#e09d18" fill="#e09d18"/><polygon points="113.3,54.7 114.8,53.3 114.9,56.0 113.4,57.4" stroke="#a37212" fill="#a37212"/><polygon points="68.0,39.2 66.5,40.6 64.9,41.5 66.4,40.1" stroke="#926710" fill="#926710"/><polygon points="91.6,91.1 94.3,91.8 95.2,92.2 92.5,91.5" stroke="#7e590d" fill="#7e590d"/><polygon points="60.8,59.6 61.8,60.6 61.8,63.4 60.9,62.3" stroke="#b78114" fill="#b78114"/><polygon points="110.6,65.7 112.1,64.3 112.1,67.0 110.7,68.4" stroke="#a37212" fill="#a37212"/><polygon points="101.1,36.9 103.8,37.5 105.3,36.1 102.6,35.4" stroke="#c08715" fill="#c08715"/><polygon points="82.2,86.8 84.9,87.4 85.4,88.9 82.7,88.3" stroke="#c48915" fill="#c48915"/><polygon points="108.0,36.7 109.5,35.3 111.6,36.0 110.1,37.4" stroke="#c48a15" fill="#c48a15"/><polygon points="63.4,66.9 65.3,67.5 65.3,70.3 63.4,69.7" stroke="#dc9b18" fill="#dc9b18"/><polygon points="107.9,76.7 109.3,75.3 109.4,78.1 107.9,79.5" stroke="#a37212" fill="#a37212"/><polygon points="100.6,91.4 101.9,90.8 100.6,91.5 99.7,91.9" stroke="#74510c" fill="#74510c"/><polygon points="73.4,37.6 71.9,39.0 69.9,38.8 71.4,37.4" stroke="#bb8314" fill="#bb8314"/><polygon points="61.8,63.4 63.3,64.2 63.4,66.9 61.9,66.1" stroke="#cf9116" fill="#cf9116"/><polygon points="79.3,84.3 82.0,84.9 82.2,86.8 79.5,86.2" stroke="#d99817" fill="#d99817"/><polygon points="115.0,42.2 116.5,40.8 117.3,42.8 115.8,44.3" stroke="#b88114" fill="#b88114"/><polygon points="76.1,38.2 78.9,38.8 80.3,37.4 77.6,36.8" stroke="#c08715" fill="#c08715"/><polygon points="76.5,80.9 79.2,81.6 79.3,84.3 76.5,83.7" stroke="#e09d18" fill="#e09d18"/><polygon points="114.7,47.8 116.1,46.4 116.2,49.1 114.7,50.5" stroke="#a37212" fill="#a37212"/><polygon points="104.9,87.0 106.3,85.6 105.6,87.3 104.1,88.8" stroke="#8c620f" fill="#8c620f"/><polygon points="83.1,38.0 85.8,38.7 87.3,37.2 84.5,36.6" stroke="#c08715" fill="#c08715"/><polygon points="73.7,77.6 76.4,78.2 76.5,80.9 73.7,80.3" stroke="#e09d18" fill="#e09d18"/><polygon points="110.1,37.4 111.6,36.0 113.5,37.2 112.0,38.6" stroke="#c88c16" fill="#c88c16"/><polygon points="111.9,58.8 113.4,57.4 113.5,60.1 112.0,61.6" stroke="#a37212" fill="#a37212"/><polygon points="88.1,89.5 90.9,90.2 91.6,91.1 88.8,90.5" stroke="#a57412" fill="#a57412"/><polygon points="99.1,91.8 100.6,91.4 99.7,91.9 98.6,92.2" stroke="#7e580d" fill="#7e580d"/><polygon points="113.7,40.3 115.2,38.8 116.5,40.8 115.0,42.2" stroke="#c18815" fill="#c18815"/><polygon points="90.0,37.9 92.7,38.5 94.2,37.0 91.5,36.4" stroke="#c08715" fill="#c08715"/><polygon points="109.2,69.9 110.7,68.4 110.7,71.2 109.3,72.6" stroke="#a37212" fill="#a37212"/><polygon points="94.3,91.8 95.8,92.0 96.3,92.3 95.2,92.2" stroke="#815b0e" fill="#815b0e"/><polygon points="70.9,74.2 73.6,74.9 73.7,77.6 70.9,77.0" stroke="#e09d18" fill="#e09d18"/><polygon points="102.9,89.6 104.1,88.8 102.9,90.1 101.9,90.8" stroke="#805a0e" fill="#805a0e"/><polygon points="112.0,38.6 113.5,37.2 115.2,38.8 113.7,40.3" stroke="#c78c15" fill="#c78c15"/><polygon points="106.5,80.9 107.9,79.5 108.0,82.2 106.5,83.6" stroke="#a37212" fill="#a37212"/><polygon points="96.9,37.7 99.7,38.3 101.1,36.9 98.4,36.2" stroke="#c08715" fill="#c08715"/><polygon points="68.1,70.9 70.8,71.5 70.9,74.2 68.1,73.6" stroke="#e09d18" fill="#e09d18"/><polygon points="60.3,53.0 60.7,54.1 60.7,56.9 60.4,55.7" stroke="#956810" fill="#956810"/><polygon points="97.5,92.0 99.1,91.8 98.6,92.2 97.5,92.3" stroke="#835c0e" fill="#835c0e"/><polygon points="95.8,92.0 97.5,92.0 97.5,92.3 96.3,92.3" stroke="#855d0e" fill="#855d0e"/><polygon points="103.8,37.5 106.6,38.1 108.0,36.7 105.3,36.1" stroke="#c08715" fill="#c08715"/><polygon points="69.9,38.8 68.4,40.3 66.5,40.6 68.0,39.2" stroke="#aa7712" fill="#aa7712"/><polygon points="84.9,87.4 87.7,88.0 88.1,89.5 85.4,88.9" stroke="#c48915" fill="#c48915"/><polygon points="65.3,67.5 68.0,68.2 68.1,70.9 65.3,70.3" stroke="#e09d18" fill="#e09d18"/><polygon points="113.3,52.0 114.7,50.5 114.8,53.3 113.3,54.7" stroke="#a37212" fill="#a37212"/><polygon points="71.9,39.0 74.7,39.6 76.1,38.2 73.4,37.6" stroke="#c08715" fill="#c08715"/><polygon points="60.7,56.9 61.7,57.9 61.8,60.6 60.8,59.6" stroke="#b78114" fill="#b78114"/><polygon points="110.5,63.0 112.0,61.6 112.1,64.3 110.6,65.7" stroke="#a37212" fill="#a37212"/><polygon points="82.0,84.9 84.7,85.5 84.9,87.4 82.2,86.8" stroke="#d99817" fill="#d99817"/><polygon points="63.3,64.2 65.2,64.8 65.3,67.5 63.4,66.9" stroke="#dc9b18" fill="#dc9b18"/><polygon points="78.9,38.8 81.6,39.5 83.1,38.0 80.3,37.4" stroke="#c08715" fill="#c08715"/><polygon points="107.8,74.0 109.3,72.6 109.3,75.3 107.9,76.7" stroke="#a37212" fill="#a37212"/><polygon points="61.8,60.6 63.2,61.5 63.3,64.2 61.8,63.4" stroke="#cf9116" fill="#cf9116"/><polygon points="79.2,81.6 81.9,82.2 82.0,84.9 79.3,84.3" stroke="#e09d18" fill="#e09d18"/><polygon points="114.4,45.7 115.8,44.3 116.1,46.4 114.7,47.8" stroke="#ab7812" fill="#ab7812"/><polygon points="85.8,38.7 88.5,39.3 90.0,37.9 87.3,37.2" stroke="#c08715" fill="#c08715"/><polygon points="105.1,85.1 106.5,83.6 106.3,85.6 104.9,87.0" stroke="#9d6e11" fill="#9d6e11"/><polygon points="76.4,78.2 79.1,78.8 79.2,81.6 76.5,80.9" stroke="#e09d18" fill="#e09d18"/><polygon points="90.9,90.2 93.6,90.8 94.3,91.8 91.6,91.1" stroke="#a57412" fill="#a57412"/><polygon points="101.4,90.3 102.9,89.6 101.9,90.8 100.6,91.4" stroke="#90650f" fill="#90650f"/><polygon points="92.7,38.5 95.5,39.1 96.9,37.7 94.2,37.0" stroke="#c08715" fill="#c08715"/><polygon points="73.6,74.9 76.3,75.5 76.4,78.2 73.7,77.6" stroke="#e09d18" fill="#e09d18"/><polygon points="111.9,56.1 113.3,54.7 113.4,57.4 111.9,58.8" stroke="#a37212" fill="#a37212"/><polygon points="66.5,40.6 65.1,42.0 63.5,42.9 64.9,41.5" stroke="#926710" fill="#926710"/><polygon points="109.1,67.1 110.6,65.7 110.7,68.4 109.2,69.9" stroke="#a37212" fill="#a37212"/><polygon points="99.7,38.3 102.4,38.9 103.8,37.5 101.1,36.9" stroke="#c08715" fill="#c08715"/><polygon points="106.6,38.1 108.0,36.7 110.1,37.4 108.6,38.8" stroke="#c48a15" fill="#c48a15"/><polygon points="70.8,71.5 73.5,72.1 73.6,74.9 70.9,74.2" stroke="#e09d18" fill="#e09d18"/><polygon points="106.4,78.2 107.9,76.7 107.9,79.5 106.5,80.9" stroke="#a37212" fill="#a37212"/><polygon points="103.5,88.0 104.9,87.0 104.1,88.8 102.9,89.6" stroke="#966910" fill="#966910"/><polygon points="71.9,39.0 70.5,40.4 68.4,40.3 69.9,38.8" stroke="#bb8314" fill="#bb8314"/><polygon points="87.7,88.0 90.4,88.7 90.9,90.2 88.1,89.5" stroke="#c48915" fill="#c48915"/><polygon points="68.0,68.2 70.7,68.8 70.8,71.5 68.1,70.9" stroke="#e09d18" fill="#e09d18"/><polygon points="60.2,50.3 60.6,51.4 60.7,54.1 60.3,53.0" stroke="#956810" fill="#956810"/><polygon points="113.5,43.6 115.0,42.2 115.8,44.3 114.4,45.7" stroke="#b88114" fill="#b88114"/><polygon points="63.5,42.9 62.9,43.7 61.5,45.2 62.2,44.3" stroke="#855e0e" fill="#855e0e"/><polygon points="74.7,39.6 77.4,40.3 78.9,38.8 76.1,38.2" stroke="#c08715" fill="#c08715"/><polygon points="65.2,64.8 67.9,65.4 68.0,68.2 65.3,67.5" stroke="#e09d18" fill="#e09d18"/><polygon points="84.7,85.5 87.5,86.1 87.7,88.0 84.9,87.4" stroke="#d99817" fill="#d99817"/><polygon points="99.5,90.8 101.4,90.3 100.6,91.4 99.1,91.8" stroke="#9d6e11" fill="#9d6e11"/><polygon points="113.2,49.2 114.7,47.8 114.7,50.5 113.3,52.0" stroke="#a37212" fill="#a37212"/><polygon points="81.6,39.5 84.3,40.1 85.8,38.7 83.1,38.0" stroke="#c08715" fill="#c08715"/><polygon points="93.6,90.8 95.5,91.1 95.8,92.0 94.3,91.8" stroke="#a87612" fill="#a87612"/><polygon points="108.6,38.8 110.1,37.4 112.0,38.6 110.6,40.1" stroke="#c88c16" fill="#c88c16"/><polygon points="81.9,82.2 84.7,82.8 84.7,85.5 82.0,84.9" stroke="#e09d18" fill="#e09d18"/><polygon points="60.7,54.1 61.6,55.2 61.7,57.9 60.7,56.9" stroke="#b78114" fill="#b78114"/><polygon points="110.5,60.3 111.9,58.8 112.0,61.6 110.5,63.0" stroke="#a37212" fill="#a37212"/><polygon points="63.2,61.5 65.1,62.1 65.2,64.8 63.3,64.2" stroke="#dc9b18" fill="#dc9b18"/><polygon points="61.5,45.2 61.3,46.3 60.5,48.2 60.7,47.1" stroke="#90650f" fill="#90650f"/><polygon points="112.2,41.7 113.7,40.3 115.0,42.2 113.5,43.6" stroke="#c18815" fill="#c18815"/><polygon points="88.5,39.3 91.3,39.9 92.7,38.5 90.0,37.9" stroke="#c08715" fill="#c08715"/><polygon points="107.7,71.3 109.2,69.9 109.3,72.6 107.8,74.0" stroke="#a37212" fill="#a37212"/><polygon points="61.7,57.9 63.2,58.7 63.2,61.5 61.8,60.6" stroke="#cf9116" fill="#cf9116"/><polygon points="79.1,78.8 81.9,79.4 81.9,82.2 79.2,81.6" stroke="#e09d18" fill="#e09d18"/><polygon points="110.6,40.1 112.0,38.6 113.7,40.3 112.2,41.7" stroke="#c78c15" fill="#c78c15"/><polygon points="97.5,91.1 99.5,90.8 99.1,91.8 97.5,92.0" stroke="#a77512" fill="#a77512"/><polygon points="105.0,82.3 106.5,80.9 106.5,83.6 105.1,85.1" stroke="#a37212" fill="#a37212"/><polygon points="95.5,91.1 97.5,91.1 97.5,92.0 95.8,92.0" stroke="#ab7812" fill="#ab7812"/><polygon points="95.5,39.1 98.2,39.7 99.7,38.3 96.9,37.7" stroke="#c08715" fill="#c08715"/><polygon points="76.3,75.5 79.1,76.1 79.1,78.8 76.4,78.2" stroke="#e09d18" fill="#e09d18"/><polygon points="102.4,38.9 105.1,39.5 106.6,38.1 103.8,37.5" stroke="#c08715" fill="#c08715"/><polygon points="68.4,40.3 67.0,41.7 65.1,42.0 66.5,40.6" stroke="#aa7712" fill="#aa7712"/><polygon points="73.5,72.1 76.3,72.7 76.3,75.5 73.6,74.9" stroke="#e09d18" fill="#e09d18"/><polygon points="111.8,53.4 113.3,52.0 113.3,54.7 111.9,56.1" stroke="#a37212" fill="#a37212"/><polygon points="70.5,40.4 73.2,41.1 74.7,39.6 71.9,39.0" stroke="#c08715" fill="#c08715"/><polygon points="101.8,88.8 103.5,88.0 102.9,89.6 101.4,90.3" stroke="#a87612" fill="#a87612"/><polygon points="109.1,64.4 110.5,63.0 110.6,65.7 109.1,67.1" stroke="#a37212" fill="#a37212"/><polygon points="90.4,88.7 93.1,89.3 93.6,90.8 90.9,90.2" stroke="#c48915" fill="#c48915"/><polygon points="103.7,86.1 105.1,85.1 104.9,87.0 103.5,88.0" stroke="#a77512" fill="#a77512"/><polygon points="70.7,68.8 73.5,69.4 73.5,72.1 70.8,71.5" stroke="#e09d18" fill="#e09d18"/><polygon points="60.5,48.2 60.8,49.3 60.6,51.4 60.2,50.3" stroke="#a07011" fill="#a07011"/><polygon points="77.4,40.3 80.1,40.9 81.6,39.5 78.9,38.8" stroke="#c08715" fill="#c08715"/><polygon points="65.1,42.0 64.7,42.6 62.9,43.7 63.5,42.9" stroke="#9e6f11" fill="#9e6f11"/><polygon points="106.3,75.4 107.8,74.0 107.9,76.7 106.4,78.2" stroke="#a37212" fill="#a37212"/><polygon points="67.9,65.4 70.7,66.0 70.7,68.8 68.0,68.2" stroke="#e09d18" fill="#e09d18"/><polygon points="87.5,86.1 90.2,86.8 90.4,88.7 87.7,88.0" stroke="#d99817" fill="#d99817"/><polygon points="112.9,47.1 114.4,45.7 114.7,47.8 113.2,49.2" stroke="#ab7812" fill="#ab7812"/><polygon points="62.9,43.7 62.7,44.5 61.3,46.3 61.5,45.2" stroke="#a57412" fill="#a57412"/><polygon points="84.3,40.1 87.1,40.7 88.5,39.3 85.8,38.7" stroke="#c08715" fill="#c08715"/><polygon points="84.7,82.8 87.4,83.4 87.5,86.1 84.7,85.5" stroke="#e09d18" fill="#e09d18"/><polygon points="65.1,62.1 67.9,62.7 67.9,65.4 65.2,64.8" stroke="#e09d18" fill="#e09d18"/><polygon points="91.3,39.9 94.0,40.5 95.5,39.1 92.7,38.5" stroke="#c08715" fill="#c08715"/><polygon points="81.9,79.4 84.6,80.1 84.7,82.8 81.9,82.2" stroke="#e09d18" fill="#e09d18"/><polygon points="60.6,51.4 61.6,52.4 61.6,55.2 60.7,54.1" stroke="#b78114" fill="#b78114"/><polygon points="110.4,57.5 111.9,56.1 111.9,58.8 110.5,60.3" stroke="#a37212" fill="#a37212"/><polygon points="63.2,58.7 65.1,59.4 65.1,62.1 63.2,61.5" stroke="#dc9b18" fill="#dc9b18"/><polygon points="107.7,68.6 109.1,67.1 109.2,69.9 107.7,71.3" stroke="#a37212" fill="#a37212"/><polygon points="98.2,39.7 100.9,40.3 102.4,38.9 99.7,38.3" stroke="#c08715" fill="#c08715"/><polygon points="105.1,39.5 106.6,38.1 108.6,38.8 107.2,40.3" stroke="#c48a15" fill="#c48a15"/><polygon points="61.6,55.2 63.1,56.0 63.2,58.7 61.7,57.9" stroke="#cf9116" fill="#cf9116"/><polygon points="79.1,76.1 81.8,76.7 81.9,79.4 79.1,78.8" stroke="#e09d18" fill="#e09d18"/><polygon points="99.7,89.3 101.8,88.8 101.4,90.3 99.5,90.8" stroke="#b88214" fill="#b88214"/><polygon points="104.9,79.6 106.4,78.2 106.5,80.9 105.0,82.3" stroke="#a37212" fill="#a37212"/><polygon points="93.1,89.3 95.2,89.6 95.5,91.1 93.6,90.8" stroke="#c78c15" fill="#c78c15"/><polygon points="70.5,40.4 69.0,41.9 67.0,41.7 68.4,40.3" stroke="#bb8314" fill="#bb8314"/><polygon points="61.3,46.3 61.7,47.2 60.8,49.3 60.5,48.2" stroke="#b37e13" fill="#b37e13"/><polygon points="76.3,72.7 79.0,73.4 79.1,76.1 76.3,75.5" stroke="#e09d18" fill="#e09d18"/><polygon points="112.1,45.0 113.5,43.6 114.4,45.7 112.9,47.1" stroke="#b88114" fill="#b88114"/><polygon points="73.2,41.1 75.9,41.7 77.4,40.3 74.7,39.6" stroke="#c08715" fill="#c08715"/><polygon points="64.7,42.6 64.5,43.2 62.7,44.5 62.9,43.7" stroke="#b47e13" fill="#b47e13"/><polygon points="67.0,41.7 66.7,42.0 64.7,42.6 65.1,42.0" stroke="#b17c13" fill="#b17c13"/><polygon points="73.5,69.4 76.2,70.0 76.3,72.7 73.5,72.1" stroke="#e09d18" fill="#e09d18"/><polygon points="111.7,50.6 113.2,49.2 113.3,52.0 111.8,53.4" stroke="#a37212" fill="#a37212"/><polygon points="80.1,40.9 82.9,41.5 84.3,40.1 81.6,39.5" stroke="#c08715" fill="#c08715"/><polygon points="97.5,89.6 99.7,89.3 99.5,90.8 97.5,91.1" stroke="#c38915" fill="#c38915"/><polygon points="103.6,83.3 105.0,82.3 105.1,85.1 103.7,86.1" stroke="#af7b13" fill="#af7b13"/><polygon points="95.2,89.6 97.5,89.6 97.5,91.1 95.5,91.1" stroke="#c88c16" fill="#c88c16"/><polygon points="101.9,86.9 103.7,86.1 103.5,88.0 101.8,88.8" stroke="#bc8414" fill="#bc8414"/><polygon points="107.2,40.3 108.6,38.8 110.6,40.1 109.1,41.5" stroke="#c88c16" fill="#c88c16"/><polygon points="109.0,61.7 110.5,60.3 110.5,63.0 109.1,64.4" stroke="#a37212" fill="#a37212"/><polygon points="70.7,66.0 73.4,66.7 73.5,69.4 70.7,68.8" stroke="#e09d18" fill="#e09d18"/><polygon points="90.2,86.8 92.9,87.4 93.1,89.3 90.4,88.7" stroke="#d99817" fill="#d99817"/><polygon points="110.8,43.1 112.2,41.7 113.5,43.6 112.1,45.0" stroke="#c18815" fill="#c18815"/><polygon points="87.1,40.7 89.8,41.3 91.3,39.9 88.5,39.3" stroke="#c08715" fill="#c08715"/><polygon points="106.3,72.7 107.7,71.3 107.8,74.0 106.3,75.4" stroke="#a37212" fill="#a37212"/><polygon points="87.4,83.4 90.1,84.0 90.2,86.8 87.5,86.1" stroke="#e09d18" fill="#e09d18"/><polygon points="109.1,41.5 110.6,40.1 112.2,41.7 110.8,43.1" stroke="#c78c15" fill="#c78c15"/><polygon points="67.9,62.7 70.6,63.3 70.7,66.0 67.9,65.4" stroke="#e09d18" fill="#e09d18"/><polygon points="94.0,40.5 96.7,41.1 98.2,39.7 95.5,39.1" stroke="#c08715" fill="#c08715"/><polygon points="62.7,44.5 63.0,45.3 61.7,47.2 61.3,46.3" stroke="#c08715" fill="#c08715"/><polygon points="84.6,80.1 87.3,80.7 87.4,83.4 84.7,82.8" stroke="#e09d18" fill="#e09d18"/><polygon points="60.8,49.3 61.8,50.3 61.6,52.4 60.6,51.4" stroke="#c18715" fill="#c18715"/><polygon points="65.1,59.4 67.8,60.0 67.9,62.7 65.1,62.1" stroke="#e09d18" fill="#e09d18"/><polygon points="66.7,42.0 66.7,42.3 64.5,43.2 64.7,42.6" stroke="#bd8514" fill="#bd8514"/><polygon points="100.9,40.3 103.7,41.0 105.1,39.5 102.4,38.9" stroke="#c08715" fill="#c08715"/><polygon points="81.8,76.7 84.5,77.3 84.6,80.1 81.9,79.4" stroke="#e09d18" fill="#e09d18"/><polygon points="110.3,54.8 111.8,53.4 111.9,56.1 110.4,57.5" stroke="#a37212" fill="#a37212"/><polygon points="69.0,41.9 71.7,42.5 73.2,41.1 70.5,40.4" stroke="#c08715" fill="#c08715"/><polygon points="63.1,56.0 65.0,56.6 65.1,59.4 63.2,58.7" stroke="#dc9b18" fill="#dc9b18"/><polygon points="69.0,41.9 69.0,41.9 66.7,42.0 67.0,41.7" stroke="#bd8514" fill="#bd8514"/><polygon points="107.6,65.8 109.1,64.4 109.1,67.1 107.7,68.6" stroke="#a37212" fill="#a37212"/><polygon points="61.6,52.4 63.0,53.3 63.1,56.0 61.6,55.2" stroke="#cf9116" fill="#cf9116"/><polygon points="79.0,73.4 81.7,74.0 81.8,76.7 79.1,76.1" stroke="#e09d18" fill="#e09d18"/><polygon points="75.9,41.7 78.7,42.3 80.1,40.9 77.4,40.3" stroke="#c08715" fill="#c08715"/><polygon points="99.8,87.4 101.9,86.9 101.8,88.8 99.7,89.3" stroke="#cb8f16" fill="#cb8f16"/><polygon points="104.9,76.9 106.3,75.4 106.4,78.2 104.9,79.6" stroke="#a37212" fill="#a37212"/><polygon points="64.5,43.2 64.7,43.8 63.0,45.3 62.7,44.5" stroke="#c78c15" fill="#c78c15"/><polygon points="69.0,41.9 69.0,41.9 66.7,42.3 66.7,42.0" stroke="#c08715" fill="#c08715"/><polygon points="92.9,87.4 95.1,87.7 95.2,89.6 93.1,89.3" stroke="#db9a18" fill="#db9a18"/><polygon points="76.2,70.0 78.9,70.6 79.0,73.4 76.3,72.7" stroke="#e09d18" fill="#e09d18"/><polygon points="111.4,48.5 112.9,47.1 113.2,49.2 111.7,50.6" stroke="#ab7812" fill="#ab7812"/><polygon points="82.9,41.5 85.6,42.1 87.1,40.7 84.3,40.1" stroke="#c08715" fill="#c08715"/><polygon points="66.7,42.3 66.8,42.6 64.7,43.8 64.5,43.2" stroke="#c88d16" fill="#c88d16"/><polygon points="69.0,41.9 69.0,41.9 66.8,42.6 66.7,42.3" stroke="#c48a15" fill="#c48a15"/><polygon points="61.7,47.2 62.5,48.1 61.8,50.3 60.8,49.3" stroke="#ce9116" fill="#ce9116"/><polygon points="73.4,66.7 76.1,67.3 76.2,70.0 73.5,69.4" stroke="#e09d18" fill="#e09d18"/><polygon points="101.8,84.1 103.6,83.3 103.7,86.1 101.9,86.9" stroke="#c38915" fill="#c38915"/><polygon points="89.8,41.3 92.5,41.9 94.0,40.5 91.3,39.9" stroke="#c08715" fill="#c08715"/><polygon points="103.6,80.6 104.9,79.6 105.0,82.3 103.6,83.3" stroke="#af7b13" fill="#af7b13"/><polygon points="90.1,84.0 92.9,84.7 92.9,87.4 90.2,86.8" stroke="#e09d18" fill="#e09d18"/><polygon points="97.4,87.7 99.8,87.4 99.7,89.3 97.5,89.6" stroke="#d59617" fill="#d59617"/><polygon points="108.9,58.9 110.4,57.5 110.5,60.3 109.0,61.7" stroke="#a37212" fill="#a37212"/><polygon points="95.1,87.7 97.4,87.7 97.5,89.6 95.2,89.6" stroke="#da9918" fill="#da9918"/><polygon points="70.6,63.3 73.3,63.9 73.4,66.7 70.7,66.0" stroke="#e09d18" fill="#e09d18"/><polygon points="69.0,41.9 69.0,41.9 67.0,42.8 66.8,42.6" stroke="#c78c16" fill="#c78c16"/><polygon points="106.2,70.0 107.7,68.6 107.7,71.3 106.3,72.7" stroke="#a37212" fill="#a37212"/><polygon points="96.7,41.1 99.5,41.8 100.9,40.3 98.2,39.7" stroke="#c08715" fill="#c08715"/><polygon points="103.7,41.0 105.1,39.5 107.2,40.3 105.7,41.7" stroke="#c48a15" fill="#c48a15"/><polygon points="87.3,80.7 90.1,81.3 90.1,84.0 87.4,83.4" stroke="#e09d18" fill="#e09d18"/><polygon points="69.0,41.9 69.0,41.9 67.4,43.1 67.0,42.8" stroke="#ca8e16" fill="#ca8e16"/><polygon points="67.8,60.0 70.5,60.6 70.6,63.3 67.9,62.7" stroke="#e09d18" fill="#e09d18"/><polygon points="63.0,45.3 63.7,46.1 62.5,48.1 61.7,47.2" stroke="#d59617" fill="#d59617"/><polygon points="84.5,77.3 87.3,78.0 87.3,80.7 84.6,80.1" stroke="#e09d18" fill="#e09d18"/><polygon points="69.0,41.9 69.0,41.9 67.9,43.2 67.4,43.1" stroke="#cc8f16" fill="#cc8f16"/><polygon points="110.6,46.5 112.1,45.0 112.9,47.1 111.4,48.5" stroke="#b88114" fill="#b88114"/><polygon points="71.7,42.5 74.5,43.1 75.9,41.7 73.2,41.1" stroke="#c08715" fill="#c08715"/><polygon points="65.0,56.6 67.7,57.2 67.8,60.0 65.1,59.4" stroke="#e09d18" fill="#e09d18"/><polygon points="66.8,42.6 67.0,42.8 65.2,44.3 64.7,43.8" stroke="#d19317" fill="#d19317"/><polygon points="61.8,50.3 63.2,51.1 63.0,53.3 61.6,52.4" stroke="#d79717" fill="#d79717"/><polygon points="64.7,43.8 65.2,44.3 63.7,46.1 63.0,45.3" stroke="#d69717" fill="#d69717"/><polygon points="81.7,74.0 84.5,74.6 84.5,77.3 81.8,76.7" stroke="#e09d18" fill="#e09d18"/><polygon points="110.3,52.1 111.7,50.6 111.8,53.4 110.3,54.8" stroke="#a37212" fill="#a37212"/><polygon points="78.7,42.3 81.4,42.9 82.9,41.5 80.1,40.9" stroke="#c08715" fill="#c08715"/><polygon points="63.0,53.3 65.0,53.9 65.0,56.6 63.1,56.0" stroke="#dc9b18" fill="#dc9b18"/><polygon points="105.7,41.7 107.2,40.3 109.1,41.5 107.6,42.9" stroke="#c88c16" fill="#c88c16"/><polygon points="107.5,63.1 109.0,61.7 109.1,64.4 107.6,65.8" stroke="#a37212" fill="#a37212"/><polygon points="78.9,70.6 81.7,71.3 81.7,74.0 79.0,73.4" stroke="#e09d18" fill="#e09d18"/><polygon points="99.7,84.7 101.8,84.1 101.9,86.9 99.8,87.4" stroke="#d29317" fill="#d29317"/><polygon points="109.3,44.5 110.8,43.1 112.1,45.0 110.6,46.5" stroke="#c18815" fill="#c18815"/><polygon points="85.6,42.1 88.3,42.7 89.8,41.3 87.1,40.7" stroke="#c08715" fill="#c08715"/><polygon points="104.8,74.1 106.3,72.7 106.3,75.4 104.9,76.9" stroke="#a37212" fill="#a37212"/><polygon points="92.9,84.7 95.1,85.0 95.1,87.7 92.9,87.4" stroke="#e19e18" fill="#e19e18"/><polygon points="107.6,42.9 109.1,41.5 110.8,43.1 109.3,44.5" stroke="#c78c15" fill="#c78c15"/><polygon points="76.1,67.3 78.9,67.9 78.9,70.6 76.2,70.0" stroke="#e09d18" fill="#e09d18"/><polygon points="69.0,41.9 71.7,42.5 70.6,43.8 67.9,43.2" stroke="#cd9016" fill="#cd9016"/><polygon points="67.0,42.8 67.4,43.1 66.0,44.7 65.2,44.3" stroke="#d89817" fill="#d89817"/><polygon points="92.5,41.9 95.3,42.6 96.7,41.1 94.0,40.5" stroke="#c08715" fill="#c08715"/><polygon points="73.3,63.9 76.1,64.6 76.1,67.3 73.4,66.7" stroke="#e09d18" fill="#e09d18"/><polygon points="101.8,81.4 103.6,80.6 103.6,83.3 101.8,84.1" stroke="#c38915" fill="#c38915"/><polygon points="62.5,48.1 63.8,48.9 63.2,51.1 61.8,50.3" stroke="#e09e18" fill="#e09e18"/><polygon points="103.5,77.9 104.9,76.9 104.9,79.6 103.6,80.6" stroke="#af7b13" fill="#af7b13"/><polygon points="99.5,41.8 102.2,42.4 103.7,41.0 100.9,40.3" stroke="#c08715" fill="#c08715"/><polygon points="97.4,85.0 99.7,84.7 99.8,87.4 97.4,87.7" stroke="#db9a18" fill="#db9a18"/><polygon points="95.1,85.0 97.4,85.0 97.4,87.7 95.1,87.7" stroke="#e09e18" fill="#e09e18"/><polygon points="90.1,81.3 92.8,81.9 92.9,84.7 90.1,84.0" stroke="#e09d18" fill="#e09d18"/><polygon points="108.9,56.2 110.3,54.8 110.4,57.5 108.9,58.9" stroke="#a37212" fill="#a37212"/><polygon points="70.5,60.6 73.3,61.2 73.3,63.9 70.6,63.3" stroke="#e09d18" fill="#e09d18"/><polygon points="106.2,67.3 107.6,65.8 107.7,68.6 106.2,70.0" stroke="#a37212" fill="#a37212"/><polygon points="65.2,44.3 66.0,44.7 64.7,46.7 63.7,46.1" stroke="#e19e18" fill="#e19e18"/><polygon points="67.4,43.1 67.9,43.2 66.9,45.0 66.0,44.7" stroke="#dd9b18" fill="#dd9b18"/><polygon points="87.3,78.0 90.0,78.6 90.1,81.3 87.3,80.7" stroke="#e09d18" fill="#e09d18"/><polygon points="63.7,46.1 64.7,46.7 63.8,48.9 62.5,48.1" stroke="#e3a019" fill="#e3a019"/><polygon points="74.5,43.1 77.2,43.7 78.7,42.3 75.9,41.7" stroke="#c08715" fill="#c08715"/><polygon points="67.7,57.2 70.5,57.9 70.5,60.6 67.8,60.0" stroke="#e09d18" fill="#e09d18"/><polygon points="110.0,50.0 111.4,48.5 111.7,50.6 110.3,52.1" stroke="#ab7812" fill="#ab7812"/><polygon points="84.5,74.6 87.2,75.2 87.3,78.0 84.5,77.3" stroke="#e09d18" fill="#e09d18"/><polygon points="63.2,51.1 65.0,51.7 65.0,53.9 63.0,53.3" stroke="#e29f18" fill="#e29f18"/><polygon points="65.0,53.9 67.7,54.5 67.7,57.2 65.0,56.6" stroke="#e09d18" fill="#e09d18"/><polygon points="81.4,42.9 84.1,43.5 85.6,42.1 82.9,41.5" stroke="#c08715" fill="#c08715"/><polygon points="81.7,71.3 84.4,71.9 84.5,74.6 81.7,74.0" stroke="#e09d18" fill="#e09d18"/><polygon points="88.3,42.7 91.1,43.4 92.5,41.9 89.8,41.3" stroke="#c08715" fill="#c08715"/><polygon points="107.5,60.4 108.9,58.9 109.0,61.7 107.5,63.1" stroke="#a37212" fill="#a37212"/><polygon points="78.9,67.9 81.6,68.5 81.7,71.3 78.9,70.6" stroke="#e09d18" fill="#e09d18"/><polygon points="99.6,82.0 101.8,81.4 101.8,84.1 99.7,84.7" stroke="#d29317" fill="#d29317"/><polygon points="71.7,42.5 74.5,43.1 73.4,44.4 70.6,43.8" stroke="#cd9016" fill="#cd9016"/><polygon points="104.8,71.4 106.2,70.0 106.3,72.7 104.8,74.1" stroke="#a37212" fill="#a37212"/><polygon points="95.3,42.6 98.0,43.2 99.5,41.8 96.7,41.1" stroke="#c08715" fill="#c08715"/><polygon points="102.2,42.4 103.7,41.0 105.7,41.7 104.2,43.1" stroke="#c48a15" fill="#c48a15"/><polygon points="66.0,44.7 66.9,45.0 66.1,47.1 64.7,46.7" stroke="#e6a219" fill="#e6a219"/><polygon points="92.8,81.9 95.0,82.2 95.1,85.0 92.9,84.7" stroke="#e19e18" fill="#e19e18"/><polygon points="67.9,43.2 70.6,43.8 69.6,45.6 66.9,45.0" stroke="#de9c18" fill="#de9c18"/><polygon points="76.1,64.6 78.8,65.2 78.9,67.9 76.1,67.3" stroke="#e09d18" fill="#e09d18"/><polygon points="63.8,48.9 65.4,49.4 65.0,51.7 63.2,51.1" stroke="#e9a419" fill="#e9a419"/><polygon points="109.1,47.9 110.6,46.5 111.4,48.5 110.0,50.0" stroke="#b88114" fill="#b88114"/><polygon points="64.7,46.7 66.1,47.1 65.4,49.4 63.8,48.9" stroke="#eaa519" fill="#eaa519"/><polygon points="73.3,61.2 76.0,61.8 76.1,64.6 73.3,63.9" stroke="#e09d18" fill="#e09d18"/><polygon points="101.7,78.7 103.5,77.9 103.6,80.6 101.8,81.4" stroke="#c38915" fill="#c38915"/><polygon points="103.4,75.1 104.8,74.1 104.9,76.9 103.5,77.9" stroke="#af7b13" fill="#af7b13"/><polygon points="97.3,82.3 99.6,82.0 99.7,84.7 97.4,85.0" stroke="#db9a18" fill="#db9a18"/><polygon points="95.0,82.2 97.3,82.3 97.4,85.0 95.1,85.0" stroke="#e09e18" fill="#e09e18"/><polygon points="90.0,78.6 92.7,79.2 92.8,81.9 90.1,81.3" stroke="#e09d18" fill="#e09d18"/><polygon points="108.8,53.5 110.3,52.1 110.3,54.8 108.9,56.2" stroke="#a37212" fill="#a37212"/><polygon points="77.2,43.7 79.9,44.4 81.4,42.9 78.7,42.3" stroke="#c08715" fill="#c08715"/><polygon points="70.5,57.9 73.2,58.5 73.3,61.2 70.5,60.6" stroke="#e09d18" fill="#e09d18"/><polygon points="104.2,43.1 105.7,41.7 107.6,42.9 106.2,44.3" stroke="#c88c16" fill="#c88c16"/><polygon points="106.1,64.5 107.5,63.1 107.6,65.8 106.2,67.3" stroke="#a37212" fill="#a37212"/><polygon points="65.0,51.7 67.8,52.3 67.7,54.5 65.0,53.9" stroke="#e5a119" fill="#e5a119"/><polygon points="87.2,75.2 89.9,75.8 90.0,78.6 87.3,78.0" stroke="#e09d18" fill="#e09d18"/><polygon points="107.8,46.0 109.3,44.5 110.6,46.5 109.1,47.9" stroke="#c18815" fill="#c18815"/><polygon points="67.7,54.5 70.4,55.1 70.5,57.9 67.7,57.2" stroke="#e09d18" fill="#e09d18"/><polygon points="84.1,43.5 86.9,44.2 88.3,42.7 85.6,42.1" stroke="#c08715" fill="#c08715"/><polygon points="106.2,44.3 107.6,42.9 109.3,44.5 107.8,46.0" stroke="#c78c15" fill="#c78c15"/><polygon points="84.4,71.9 87.1,72.5 87.2,75.2 84.5,74.6" stroke="#e09d18" fill="#e09d18"/><polygon points="66.9,45.0 69.6,45.6 68.8,47.7 66.1,47.1" stroke="#e8a319" fill="#e8a319"/><polygon points="91.1,43.4 93.8,44.0 95.3,42.6 92.5,41.9" stroke="#c08715" fill="#c08715"/><polygon points="81.6,68.5 84.3,69.1 84.4,71.9 81.7,71.3" stroke="#e09d18" fill="#e09d18"/><polygon points="74.5,43.1 77.2,43.7 76.1,45.1 73.4,44.4" stroke="#cd9016" fill="#cd9016"/><polygon points="98.0,43.2 100.7,43.8 102.2,42.4 99.5,41.8" stroke="#c08715" fill="#c08715"/><polygon points="65.4,49.4 68.2,50.0 67.8,52.3 65.0,51.7" stroke="#eba519" fill="#eba519"/><polygon points="107.4,57.6 108.9,56.2 108.9,58.9 107.5,60.4" stroke="#a37212" fill="#a37212"/><polygon points="70.6,43.8 73.4,44.4 72.4,46.2 69.6,45.6" stroke="#de9c18" fill="#de9c18"/><polygon points="78.8,65.2 81.5,65.8 81.6,68.5 78.9,67.9" stroke="#e09d18" fill="#e09d18"/><polygon points="99.6,79.3 101.7,78.7 101.8,81.4 99.6,82.0" stroke="#d29317" fill="#d29317"/><polygon points="66.1,47.1 68.8,47.7 68.2,50.0 65.4,49.4" stroke="#eca61a" fill="#eca61a"/><polygon points="104.7,68.7 106.2,67.3 106.2,70.0 104.8,71.4" stroke="#a37212" fill="#a37212"/><polygon points="92.7,79.2 94.9,79.5 95.0,82.2 92.8,81.9" stroke="#e19e18" fill="#e19e18"/><polygon points="76.0,61.8 78.7,62.4 78.8,65.2 76.1,64.6" stroke="#e09d18" fill="#e09d18"/><polygon points="108.5,51.4 110.0,50.0 110.3,52.1 108.8,53.5" stroke="#ab7812" fill="#ab7812"/><polygon points="79.9,44.4 82.7,45.0 84.1,43.5 81.4,42.9" stroke="#c08715" fill="#c08715"/><polygon points="73.2,58.5 75.9,59.1 76.0,61.8 73.3,61.2" stroke="#e09d18" fill="#e09d18"/><polygon points="101.6,76.0 103.4,75.1 103.5,77.9 101.7,78.7" stroke="#c38915" fill="#c38915"/><polygon points="103.4,72.4 104.8,71.4 104.8,74.1 103.4,75.1" stroke="#af7b13" fill="#af7b13"/><polygon points="97.3,79.5 99.6,79.3 99.6,82.0 97.3,82.3" stroke="#db9a18" fill="#db9a18"/><polygon points="67.8,52.3 70.5,52.9 70.4,55.1 67.7,54.5" stroke="#e5a119" fill="#e5a119"/><polygon points="94.9,79.5 97.3,79.5 97.3,82.3 95.0,82.2" stroke="#e09e18" fill="#e09e18"/><polygon points="89.9,75.8 92.7,76.5 92.7,79.2 90.0,78.6" stroke="#e09d18" fill="#e09d18"/><polygon points="70.4,55.1 73.1,55.8 73.2,58.5 70.5,57.9" stroke="#e09d18" fill="#e09d18"/><polygon points="86.9,44.2 89.6,44.8 91.1,43.4 88.3,42.7" stroke="#c08715" fill="#c08715"/><polygon points="106.0,61.8 107.5,60.4 107.5,63.1 106.1,64.5" stroke="#a37212" fill="#a37212"/><polygon points="87.1,72.5 89.9,73.1 89.9,75.8 87.2,75.2" stroke="#e09d18" fill="#e09d18"/><polygon points="69.6,45.6 72.4,46.2 71.5,48.3 68.8,47.7" stroke="#e8a319" fill="#e8a319"/><polygon points="93.8,44.0 96.5,44.6 98.0,43.2 95.3,42.6" stroke="#c08715" fill="#c08715"/><polygon points="100.7,43.8 102.2,42.4 104.2,43.1 102.8,44.5" stroke="#c48a15" fill="#c48a15"/><polygon points="84.3,69.1 87.1,69.8 87.1,72.5 84.4,71.9" stroke="#e09d18" fill="#e09d18"/><polygon points="77.2,43.7 79.9,44.4 78.8,45.7 76.1,45.1" stroke="#cd9016" fill="#cd9016"/><polygon points="107.7,49.3 109.1,47.9 110.0,50.0 108.5,51.4" stroke="#b88114" fill="#b88114"/><polygon points="68.2,50.0 70.9,50.6 70.5,52.9 67.8,52.3" stroke="#eba519" fill="#eba519"/><polygon points="73.4,44.4 76.1,45.1 75.1,46.8 72.4,46.2" stroke="#de9c18" fill="#de9c18"/><polygon points="81.5,65.8 84.3,66.4 84.3,69.1 81.6,68.5" stroke="#e09d18" fill="#e09d18"/><polygon points="68.8,47.7 71.5,48.3 70.9,50.6 68.2,50.0" stroke="#eca61a" fill="#eca61a"/><polygon points="107.4,54.9 108.8,53.5 108.9,56.2 107.4,57.6" stroke="#a37212" fill="#a37212"/><polygon points="78.7,62.4 81.5,63.1 81.5,65.8 78.8,65.2" stroke="#e09d18" fill="#e09d18"/><polygon points="99.5,76.5 101.6,76.0 101.7,78.7 99.6,79.3" stroke="#d29317" fill="#d29317"/><polygon points="102.8,44.5 104.2,43.1 106.2,44.3 104.7,45.8" stroke="#c88c16" fill="#c88c16"/><polygon points="104.6,65.9 106.1,64.5 106.2,67.3 104.7,68.7" stroke="#a37212" fill="#a37212"/><polygon points="92.7,76.5 94.9,76.8 94.9,79.5 92.7,79.2" stroke="#e19e18" fill="#e19e18"/><polygon points="106.4,47.4 107.8,46.0 109.1,47.9 107.7,49.3" stroke="#c18815" fill="#c18815"/><polygon points="82.7,45.0 85.4,45.6 86.9,44.2 84.1,43.5" stroke="#c08715" fill="#c08715"/><polygon points="75.9,59.1 78.7,59.7 78.7,62.4 76.0,61.8" stroke="#e09d18" fill="#e09d18"/><polygon points="104.7,45.8 106.2,44.3 107.8,46.0 106.4,47.4" stroke="#c78c15" fill="#c78c15"/><polygon points="70.5,52.9 73.2,53.6 73.1,55.8 70.4,55.1" stroke="#e5a119" fill="#e5a119"/><polygon points="73.1,55.8 75.9,56.4 75.9,59.1 73.2,58.5" stroke="#e09d18" fill="#e09d18"/><polygon points="89.6,44.8 92.3,45.4 93.8,44.0 91.1,43.4" stroke="#c08715" fill="#c08715"/><polygon points="101.6,73.2 103.4,72.4 103.4,75.1 101.6,76.0" stroke="#c38915" fill="#c38915"/><polygon points="103.3,69.7 104.7,68.7 104.8,71.4 103.4,72.4" stroke="#af7b13" fill="#af7b13"/><polygon points="97.2,76.8 99.5,76.5 99.6,79.3 97.3,79.5" stroke="#db9a18" fill="#db9a18"/><polygon points="94.9,76.8 97.2,76.8 97.3,79.5 94.9,79.5" stroke="#e09e18" fill="#e09e18"/><polygon points="89.9,73.1 92.6,73.7 92.7,76.5 89.9,75.8" stroke="#e09d18" fill="#e09d18"/><polygon points="72.4,46.2 75.1,46.8 74.3,49.0 71.5,48.3" stroke="#e8a319" fill="#e8a319"/><polygon points="96.5,44.6 99.3,45.2 100.7,43.8 98.0,43.2" stroke="#c08715" fill="#c08715"/><polygon points="106.0,59.1 107.4,57.6 107.5,60.4 106.0,61.8" stroke="#a37212" fill="#a37212"/><polygon points="87.1,69.8 89.8,70.4 89.9,73.1 87.1,72.5" stroke="#e09d18" fill="#e09d18"/><polygon points="79.9,44.4 82.7,45.0 81.6,46.3 78.8,45.7" stroke="#cd9016" fill="#cd9016"/><polygon points="70.9,50.6 73.6,51.2 73.2,53.6 70.5,52.9" stroke="#eba519" fill="#eba519"/><polygon points="76.1,45.1 78.8,45.7 77.8,47.5 75.1,46.8" stroke="#de9c18" fill="#de9c18"/><polygon points="84.3,66.4 87.0,67.0 87.1,69.8 84.3,69.1" stroke="#e09d18" fill="#e09d18"/><polygon points="71.5,48.3 74.3,49.0 73.6,51.2 70.9,50.6" stroke="#eca61a" fill="#eca61a"/><polygon points="107.0,52.8 108.5,51.4 108.8,53.5 107.4,54.9" stroke="#ab7812" fill="#ab7812"/><polygon points="81.5,63.1 84.2,63.7 84.3,66.4 81.5,65.8" stroke="#e09d18" fill="#e09d18"/><polygon points="85.4,45.6 88.1,46.2 89.6,44.8 86.9,44.2" stroke="#c08715" fill="#c08715"/><polygon points="78.7,59.7 81.4,60.3 81.5,63.1 78.7,62.4" stroke="#e09d18" fill="#e09d18"/><polygon points="99.4,73.8 101.6,73.2 101.6,76.0 99.5,76.5" stroke="#d29317" fill="#d29317"/><polygon points="104.6,63.2 106.0,61.8 106.1,64.5 104.6,65.9" stroke="#a37212" fill="#a37212"/><polygon points="92.6,73.7 94.8,74.1 94.9,76.8 92.7,76.5" stroke="#e19e18" fill="#e19e18"/><polygon points="73.2,53.6 76.0,54.2 75.9,56.4 73.1,55.8" stroke="#e5a119" fill="#e5a119"/><polygon points="75.9,56.4 78.6,57.0 78.7,59.7 75.9,59.1" stroke="#e09d18" fill="#e09d18"/><polygon points="92.3,45.4 95.1,46.0 96.5,44.6 93.8,44.0" stroke="#c08715" fill="#c08715"/><polygon points="99.3,45.2 100.7,43.8 102.8,44.5 101.3,46.0" stroke="#c48a15" fill="#c48a15"/><polygon points="75.1,46.8 77.8,47.5 77.0,49.6 74.3,49.0" stroke="#e8a319" fill="#e8a319"/><polygon points="101.5,70.5 103.3,69.7 103.4,72.4 101.6,73.2" stroke="#c38915" fill="#c38915"/><polygon points="106.2,50.7 107.7,49.3 108.5,51.4 107.0,52.8" stroke="#b88114" fill="#b88114"/><polygon points="103.3,67.0 104.6,65.9 104.7,68.7 103.3,69.7" stroke="#af7b13" fill="#af7b13"/><polygon points="97.1,74.1 99.4,73.8 99.5,76.5 97.2,76.8" stroke="#db9a18" fill="#db9a18"/><polygon points="94.8,74.1 97.1,74.1 97.2,76.8 94.9,76.8" stroke="#e09e18" fill="#e09e18"/><polygon points="89.8,70.4 92.5,71.0 92.6,73.7 89.9,73.1" stroke="#e09d18" fill="#e09d18"/><polygon points="82.7,45.0 85.4,45.6 84.3,46.9 81.6,46.3" stroke="#cd9016" fill="#cd9016"/><polygon points="105.9,56.3 107.4,54.9 107.4,57.6 106.0,59.1" stroke="#a37212" fill="#a37212"/><polygon points="73.6,51.2 76.4,51.9 76.0,54.2 73.2,53.6" stroke="#eba519" fill="#eba519"/><polygon points="78.8,45.7 81.6,46.3 80.6,48.1 77.8,47.5" stroke="#de9c18" fill="#de9c18"/><polygon points="87.0,67.0 89.7,67.7 89.8,70.4 87.1,69.8" stroke="#e09d18" fill="#e09d18"/><polygon points="101.3,46.0 102.8,44.5 104.7,45.8 103.2,47.2" stroke="#c88c16" fill="#c88c16"/><polygon points="74.3,49.0 77.0,49.6 76.4,51.9 73.6,51.2" stroke="#eca61a" fill="#eca61a"/><polygon points="104.9,48.8 106.4,47.4 107.7,49.3 106.2,50.7" stroke="#c18815" fill="#c18815"/><polygon points="84.2,63.7 86.9,64.3 87.0,67.0 84.3,66.4" stroke="#e09d18" fill="#e09d18"/><polygon points="103.2,47.2 104.7,45.8 106.4,47.4 104.9,48.8" stroke="#c78c15" fill="#c78c15"/><polygon points="88.1,46.2 90.9,46.8 92.3,45.4 89.6,44.8" stroke="#c08715" fill="#c08715"/><polygon points="81.4,60.3 84.1,61.0 84.2,63.7 81.5,63.1" stroke="#e09d18" fill="#e09d18"/><polygon points="76.0,54.2 78.7,54.8 78.6,57.0 75.9,56.4" stroke="#e5a119" fill="#e5a119"/><polygon points="78.6,57.0 81.3,57.6 81.4,60.3 78.7,59.7" stroke="#e09d18" fill="#e09d18"/><polygon points="99.4,71.1 101.5,70.5 101.6,73.2 99.4,73.8" stroke="#d29317" fill="#d29317"/><polygon points="95.1,46.0 97.8,46.6 99.3,45.2 96.5,44.6" stroke="#c08715" fill="#c08715"/><polygon points="104.5,60.5 106.0,59.1 106.0,61.8 104.6,63.2" stroke="#a37212" fill="#a37212"/><polygon points="92.5,71.0 94.7,71.3 94.8,74.1 92.6,73.7" stroke="#e19e18" fill="#e19e18"/><polygon points="77.8,47.5 80.6,48.1 79.7,50.2 77.0,49.6" stroke="#e8a319" fill="#e8a319"/><polygon points="85.4,45.6 88.1,46.2 87.0,47.5 84.3,46.9" stroke="#cd9016" fill="#cd9016"/><polygon points="101.4,67.8 103.3,67.0 103.3,69.7 101.5,70.5" stroke="#c38915" fill="#c38915"/><polygon points="105.6,54.2 107.0,52.8 107.4,54.9 105.9,56.3" stroke="#ab7812" fill="#ab7812"/><polygon points="103.2,64.2 104.6,63.2 104.6,65.9 103.3,67.0" stroke="#af7b13" fill="#af7b13"/><polygon points="76.4,51.9 79.1,52.5 78.7,54.8 76.0,54.2" stroke="#eba519" fill="#eba519"/><polygon points="97.1,71.3 99.4,71.1 99.4,73.8 97.1,74.1" stroke="#db9a18" fill="#db9a18"/><polygon points="81.6,46.3 84.3,46.9 83.3,48.7 80.6,48.1" stroke="#de9c18" fill="#de9c18"/><polygon points="94.7,71.3 97.1,71.3 97.1,74.1 94.8,74.1" stroke="#e09e18" fill="#e09e18"/><polygon points="89.7,67.7 92.5,68.3 92.5,71.0 89.8,70.4" stroke="#e09d18" fill="#e09d18"/><polygon points="77.0,49.6 79.7,50.2 79.1,52.5 76.4,51.9" stroke="#eca61a" fill="#eca61a"/><polygon points="86.9,64.3 89.7,64.9 89.7,67.7 87.0,67.0" stroke="#e09d18" fill="#e09d18"/><polygon points="90.9,46.8 93.6,47.4 95.1,46.0 92.3,45.4" stroke="#c08715" fill="#c08715"/><polygon points="97.8,46.6 99.3,45.2 101.3,46.0 99.8,47.4" stroke="#c48a15" fill="#c48a15"/><polygon points="84.1,61.0 86.9,61.6 86.9,64.3 84.2,63.7" stroke="#e09d18" fill="#e09d18"/><polygon points="78.7,54.8 81.4,55.4 81.3,57.6 78.6,57.0" stroke="#e5a119" fill="#e5a119"/><polygon points="81.3,57.6 84.1,58.2 84.1,61.0 81.4,60.3" stroke="#e09d18" fill="#e09d18"/><polygon points="104.7,52.1 106.2,50.7 107.0,52.8 105.6,54.2" stroke="#b88114" fill="#b88114"/><polygon points="80.6,48.1 83.3,48.7 82.5,50.8 79.7,50.2" stroke="#e8a319" fill="#e8a319"/><polygon points="99.3,68.3 101.4,67.8 101.5,70.5 99.4,71.1" stroke="#d29317" fill="#d29317"/><polygon points="104.4,57.8 105.9,56.3 106.0,59.1 104.5,60.5" stroke="#a37212" fill="#a37212"/><polygon points="92.5,68.3 94.7,68.6 94.7,71.3 92.5,71.0" stroke="#e19e18" fill="#e19e18"/><polygon points="99.8,47.4 101.3,46.0 103.2,47.2 101.8,48.6" stroke="#c88c16" fill="#c88c16"/><polygon points="88.1,46.2 90.9,46.8 89.8,48.2 87.0,47.5" stroke="#cd9016" fill="#cd9016"/><polygon points="79.1,52.5 81.8,53.1 81.4,55.4 78.7,54.8" stroke="#eba519" fill="#eba519"/><polygon points="84.3,46.9 87.0,47.5 86.0,49.3 83.3,48.7" stroke="#de9c18" fill="#de9c18"/><polygon points="103.4,50.2 104.9,48.8 106.2,50.7 104.7,52.1" stroke="#c18815" fill="#c18815"/><polygon points="79.7,50.2 82.5,50.8 81.8,53.1 79.1,52.5" stroke="#eca61a" fill="#eca61a"/><polygon points="101.8,48.6 103.2,47.2 104.9,48.8 103.4,50.2" stroke="#c78c15" fill="#c78c15"/><polygon points="101.4,65.0 103.2,64.2 103.3,67.0 101.4,67.8" stroke="#c38915" fill="#c38915"/><polygon points="103.1,61.5 104.5,60.5 104.6,63.2 103.2,64.2" stroke="#af7b13" fill="#af7b13"/><polygon points="97.0,68.6 99.3,68.3 99.4,71.1 97.1,71.3" stroke="#db9a18" fill="#db9a18"/><polygon points="94.7,68.6 97.0,68.6 97.1,71.3 94.7,71.3" stroke="#e09e18" fill="#e09e18"/><polygon points="89.7,64.9 92.4,65.5 92.5,68.3 89.7,67.7" stroke="#e09d18" fill="#e09d18"/><polygon points="93.6,47.4 96.3,48.1 97.8,46.6 95.1,46.0" stroke="#c08715" fill="#c08715"/><polygon points="86.9,61.6 89.6,62.2 89.7,64.9 86.9,64.3" stroke="#e09d18" fill="#e09d18"/><polygon points="81.4,55.4 84.2,56.0 84.1,58.2 81.3,57.6" stroke="#e5a119" fill="#e5a119"/><polygon points="84.1,58.2 86.8,58.8 86.9,61.6 84.1,61.0" stroke="#e09d18" fill="#e09d18"/><polygon points="83.3,48.7 86.0,49.3 85.2,51.4 82.5,50.8" stroke="#e8a319" fill="#e8a319"/><polygon points="104.1,55.7 105.6,54.2 105.9,56.3 104.4,57.8" stroke="#ab7812" fill="#ab7812"/><polygon points="99.2,65.6 101.4,65.0 101.4,67.8 99.3,68.3" stroke="#d29317" fill="#d29317"/><polygon points="90.9,46.8 93.6,47.4 92.5,48.8 89.8,48.2" stroke="#cd9016" fill="#cd9016"/><polygon points="81.8,53.1 84.6,53.7 84.2,56.0 81.4,55.4" stroke="#eba519" fill="#eba519"/><polygon points="87.0,47.5 89.8,48.2 88.8,49.9 86.0,49.3" stroke="#de9c18" fill="#de9c18"/><polygon points="92.4,65.5 94.6,65.9 94.7,68.6 92.5,68.3" stroke="#e19e18" fill="#e19e18"/><polygon points="82.5,50.8 85.2,51.4 84.6,53.7 81.8,53.1" stroke="#eca61a" fill="#eca61a"/><polygon points="96.3,48.1 97.8,46.6 99.8,47.4 98.4,48.8" stroke="#c48a15" fill="#c48a15"/><polygon points="101.3,62.3 103.1,61.5 103.2,64.2 101.4,65.0" stroke="#c38915" fill="#c38915"/><polygon points="103.1,58.8 104.4,57.8 104.5,60.5 103.1,61.5" stroke="#af7b13" fill="#af7b13"/><polygon points="96.9,65.9 99.2,65.6 99.3,68.3 97.0,68.6" stroke="#db9a18" fill="#db9a18"/><polygon points="94.6,65.9 96.9,65.9 97.0,68.6 94.7,68.6" stroke="#e09e18" fill="#e09e18"/><polygon points="89.6,62.2 92.3,62.8 92.4,65.5 89.7,64.9" stroke="#e09d18" fill="#e09d18"/><polygon points="103.3,53.6 104.7,52.1 105.6,54.2 104.1,55.7" stroke="#b88114" fill="#b88114"/><polygon points="84.2,56.0 86.9,56.7 86.8,58.8 84.1,58.2" stroke="#e5a119" fill="#e5a119"/><polygon points="86.8,58.8 89.5,59.5 89.6,62.2 86.9,61.6" stroke="#e09d18" fill="#e09d18"/><polygon points="98.4,48.8 99.8,47.4 101.8,48.6 100.3,50.0" stroke="#c88c16" fill="#c88c16"/><polygon points="86.0,49.3 88.8,49.9 87.9,52.1 85.2,51.4" stroke="#e8a319" fill="#e8a319"/><polygon points="102.0,51.6 103.4,50.2 104.7,52.1 103.3,53.6" stroke="#c18815" fill="#c18815"/><polygon points="100.3,50.0 101.8,48.6 103.4,50.2 102.0,51.6" stroke="#c78c15" fill="#c78c15"/><polygon points="93.6,47.4 96.3,48.1 95.2,49.4 92.5,48.8" stroke="#cd9016" fill="#cd9016"/><polygon points="84.6,53.7 87.3,54.3 86.9,56.7 84.2,56.0" stroke="#eba519" fill="#eba519"/><polygon points="89.8,48.2 92.5,48.8 91.5,50.6 88.8,49.9" stroke="#de9c18" fill="#de9c18"/><polygon points="85.2,51.4 87.9,52.1 87.3,54.3 84.6,53.7" stroke="#eca61a" fill="#eca61a"/><polygon points="99.2,62.9 101.3,62.3 101.4,65.0 99.2,65.6" stroke="#d29317" fill="#d29317"/><polygon points="92.3,62.8 94.5,63.1 94.6,65.9 92.4,65.5" stroke="#e19e18" fill="#e19e18"/><polygon points="96.3,48.1 96.3,48.1 98.4,48.8 98.0,49.1" stroke="#c68b15" fill="#c68b15"/><polygon points="102.8,56.6 104.1,55.7 104.4,57.8 103.1,58.8" stroke="#b78014" fill="#b78014"/><polygon points="96.3,48.1 96.3,48.1 98.0,49.1 97.6,49.3" stroke="#c98d16" fill="#c98d16"/><polygon points="96.3,48.1 96.3,48.1 97.6,49.3 97.0,49.4" stroke="#cb8f16" fill="#cb8f16"/><polygon points="96.3,48.1 96.3,48.1 95.8,49.5 95.2,49.4" stroke="#cd9016" fill="#cd9016"/><polygon points="101.2,59.6 103.1,58.8 103.1,61.5 101.3,62.3" stroke="#c38915" fill="#c38915"/><polygon points="96.3,48.1 96.3,48.1 97.0,49.4 96.4,49.5" stroke="#cc9016" fill="#cc9016"/><polygon points="86.9,56.7 89.6,57.3 89.5,59.5 86.8,58.8" stroke="#e5a119" fill="#e5a119"/><polygon points="96.3,48.1 96.3,48.1 96.4,49.5 95.8,49.5" stroke="#cd9016" fill="#cd9016"/><polygon points="96.9,63.2 99.2,62.9 99.2,65.6 96.9,65.9" stroke="#db9a18" fill="#db9a18"/><polygon points="94.5,63.1 96.9,63.2 96.9,65.9 94.6,65.9" stroke="#e09e18" fill="#e09e18"/><polygon points="89.5,59.5 92.3,60.1 92.3,62.8 89.6,62.2" stroke="#e09d18" fill="#e09d18"/><polygon points="88.8,49.9 91.5,50.6 90.7,52.7 87.9,52.1" stroke="#e8a319" fill="#e8a319"/><polygon points="98.0,49.1 98.4,48.8 100.3,50.0 99.6,50.5" stroke="#cc8f16" fill="#cc8f16"/><polygon points="102.1,54.4 103.3,53.6 104.1,55.7 102.8,56.6" stroke="#c28815" fill="#c28815"/><polygon points="87.3,54.3 90.0,55.0 89.6,57.3 86.9,56.7" stroke="#eba519" fill="#eba519"/><polygon points="92.5,48.8 95.2,49.4 94.2,51.2 91.5,50.6" stroke="#de9c18" fill="#de9c18"/><polygon points="87.9,52.1 90.7,52.7 90.0,55.0 87.3,54.3" stroke="#eca61a" fill="#eca61a"/><polygon points="99.6,50.5 100.3,50.0 102.0,51.6 101.0,52.4" stroke="#cd9016" fill="#cd9016"/><polygon points="101.0,52.4 102.0,51.6 103.3,53.6 102.1,54.4" stroke="#c98e16" fill="#c98e16"/><polygon points="99.1,60.1 101.2,59.6 101.3,62.3 99.2,62.9" stroke="#d29317" fill="#d29317"/><polygon points="97.6,49.3 98.0,49.1 99.6,50.5 98.7,50.9" stroke="#d39417" fill="#d39417"/><polygon points="92.3,60.1 94.5,60.4 94.5,63.1 92.3,62.8" stroke="#e19e18" fill="#e19e18"/><polygon points="101.0,57.4 102.8,56.6 103.1,58.8 101.2,59.6" stroke="#ca8e16" fill="#ca8e16"/><polygon points="89.6,57.3 92.4,57.9 92.3,60.1 89.5,59.5" stroke="#e5a119" fill="#e5a119"/><polygon points="97.0,49.4 97.6,49.3 98.7,50.9 97.7,51.2" stroke="#d99817" fill="#d99817"/><polygon points="95.2,49.4 95.8,49.5 95.3,51.3 94.2,51.2" stroke="#df9d18" fill="#df9d18"/><polygon points="96.8,60.4 99.1,60.1 99.2,62.9 96.9,63.2" stroke="#db9a18" fill="#db9a18"/><polygon points="94.5,60.4 96.8,60.4 96.9,63.2 94.5,63.1" stroke="#e09e18" fill="#e09e18"/><polygon points="91.5,50.6 94.2,51.2 93.4,53.3 90.7,52.7" stroke="#e8a319" fill="#e8a319"/><polygon points="96.4,49.5 97.0,49.4 97.7,51.2 96.5,51.4" stroke="#dd9b18" fill="#dd9b18"/><polygon points="95.8,49.5 96.4,49.5 96.5,51.4 95.3,51.3" stroke="#df9c18" fill="#df9c18"/><polygon points="98.7,50.9 99.6,50.5 101.0,52.4 99.7,52.9" stroke="#d79717" fill="#d79717"/><polygon points="100.5,55.1 102.1,54.4 102.8,56.6 101.0,57.4" stroke="#d29317" fill="#d29317"/><polygon points="90.0,55.0 92.8,55.6 92.4,57.9 89.6,57.3" stroke="#eba519" fill="#eba519"/><polygon points="90.7,52.7 93.4,53.3 92.8,55.6 90.0,55.0" stroke="#eca61a" fill="#eca61a"/><polygon points="99.7,52.9 101.0,52.4 102.1,54.4 100.5,55.1" stroke="#d69717" fill="#d69717"/><polygon points="99.0,58.0 101.0,57.4 101.2,59.6 99.1,60.1" stroke="#d69717" fill="#d69717"/><polygon points="92.4,57.9 94.5,58.2 94.5,60.4 92.3,60.1" stroke="#e6a219" fill="#e6a219"/><polygon points="97.7,51.2 98.7,50.9 99.7,52.9 98.2,53.3" stroke="#df9d18" fill="#df9d18"/><polygon points="94.2,51.2 95.3,51.3 94.9,53.5 93.4,53.3" stroke="#e8a319" fill="#e8a319"/><polygon points="96.7,58.2 99.0,58.0 99.1,60.1 96.8,60.4" stroke="#df9d18" fill="#df9d18"/><polygon points="96.5,51.4 97.7,51.2 98.2,53.3 96.6,53.5" stroke="#e4a019" fill="#e4a019"/><polygon points="95.3,51.3 96.5,51.4 96.6,53.5 94.9,53.5" stroke="#e7a219" fill="#e7a219"/><polygon points="94.5,58.2 96.7,58.2 96.8,60.4 94.5,60.4" stroke="#e4a119" fill="#e4a119"/><polygon points="98.7,55.6 100.5,55.1 101.0,57.4 99.0,58.0" stroke="#dd9b18" fill="#dd9b18"/><polygon points="98.2,53.3 99.7,52.9 100.5,55.1 98.7,55.6" stroke="#df9d18" fill="#df9d18"/><polygon points="92.8,55.6 94.6,55.9 94.5,58.2 92.4,57.9" stroke="#eba519" fill="#eba519"/><polygon points="93.4,53.3 94.9,53.5 94.6,55.9 92.8,55.6" stroke="#eca61a" fill="#eca61a"/><polygon points="96.7,55.9 98.7,55.6 99.0,58.0 96.7,58.2" stroke="#e4a019" fill="#e4a019"/><polygon points="96.6,53.5 98.2,53.3 98.7,55.6 96.7,55.9" stroke="#e6a219" fill="#e6a219"/><polygon points="94.9,53.5 96.6,53.5 96.7,55.9 94.6,55.9" stroke="#eaa419" fill="#eaa419"/><polygon points="94.6,55.9 96.7,55.9 96.7,58.2 94.5,58.2" stroke="#e9a419" fill="#e9a419"/></g><path d="M69.0 41.9L67.0 41.7M69.0 41.9L66.8 42.6M69.0 41.9L67.9 43.2M71.7 42.5L70.6 43.8M74.5 43.1L73.4 44.4M77.2 43.7L76.1 45.1M79.9 44.4L78.8 45.7M82.7 45.0L81.6 46.3M85.4 45.6L84.3 46.9M88.1 46.2L87.0 47.5M90.9 46.8L89.8 48.2M93.6 47.4L92.5 48.8M96.3 48.1L95.2 49.4M96.3 48.1L97.0 49.4M96.3 48.1L98.4 48.8M97.8 46.6L99.8 47.4M99.3 45.2L101.3 46.0M100.7 43.8L102.8 44.5M102.2 42.4L104.2 43.1M103.7 41.0L105.7 41.7M105.1 39.5L107.2 40.3M106.6 38.1L108.6 38.8M108.0 36.7L110.1 37.4M109.5 35.3L111.6 36.0M111.0 33.8L113.0 34.6M111.0 33.8L113.2 33.7M111.0 33.8L112.1 33.0M108.2 33.2L109.3 32.4M105.5 32.6L106.6 31.8M102.8 32.0L103.9 31.2M100.0 31.4L101.1 30.6M97.3 30.7L98.4 29.9M94.6 30.1L95.7 29.3M91.8 29.5L92.9 28.7M89.1 28.9L90.2 28.1M86.4 28.3L87.5 27.5M83.6 27.6L84.8 26.8M83.6 27.6L83.0 26.8M83.6 27.6L81.6 27.4M82.2 29.1L80.1 28.9M80.7 30.5L78.7 30.3M79.3 31.9L77.2 31.7M77.8 33.3L75.7 33.1M76.3 34.8L74.3 34.6M74.9 36.2L72.8 36.0M73.4 37.6L71.4 37.4M71.9 39.0L69.9 38.8M70.5 40.4L68.4 40.3M67.0 41.7L65.1 42.0M66.8 42.6L64.7 43.8M67.9 43.2L66.9 45.0M70.6 43.8L69.6 45.6M73.4 44.4L72.4 46.2M76.1 45.1L75.1 46.8M78.8 45.7L77.8 47.5M81.6 46.3L80.6 48.1M84.3 46.9L83.3 48.7M87.0 47.5L86.0 49.3M89.8 48.2L88.8 49.9M92.5 48.8L91.5 50.6M95.2 49.4L94.2 51.2M97.0 49.4L97.7 51.2M98.4 48.8L100.3 50.0M99.8 47.4L101.8 48.6M101.3 46.0L103.2 47.2M102.8 44.5L104.7 45.8M104.2 43.1L106.2 44.3M105.7 41.7L107.6 42.9M107.2 40.3L109.1 41.5M108.6 38.8L110.6 40.1M110.1 37.4L112.0 38.6M111.6 36.0L113.5 37.2M113.0 34.6L115.0 35.8M113.2 33.7L115.3 34.1M112.1 33.0L113.1 32.8M109.3 32.4L110.4 32.2M106.6 31.8L107.7 31.6M103.9 31.2L104.9 31.0M101.1 30.6L102.2 30.4M98.4 29.9L99.5 29.7M95.7 29.3L96.7 29.1M92.9 28.7L94.0 28.5M90.2 28.1L91.3 27.9M87.5 27.5L88.5 27.3M84.8 26.8L85.8 26.6M83.0 26.8L82.4 26.6M81.6 27.4L79.7 27.8M80.1 28.9L78.3 29.2M78.7 30.3L76.8 30.6M77.2 31.7L75.3 32.1M75.7 33.1L73.9 33.5M74.3 34.6L72.4 34.9M72.8 36.0L70.9 36.3M71.4 37.4L69.5 37.8M69.9 38.8L68.0 39.2M68.4 40.3L66.5 40.6M65.1 42.0L63.5 42.9M64.7 43.8L63.0 45.3M66.9 45.0L66.1 47.1M69.6 45.6L68.8 47.7M72.4 46.2L71.5 48.3M75.1 46.8L74.3 49.0M77.8 47.5L77.0 49.6M80.6 48.1L79.7 50.2M83.3 48.7L82.5 50.8M86.0 49.3L85.2 51.4M88.8 49.9L87.9 52.1M91.5 50.6L90.7 52.7M94.2 51.2L93.4 53.3M97.7 51.2L98.2 53.3M100.3 50.0L102.0 51.6M101.8 48.6L103.4 50.2M103.2 47.2L104.9 48.8M104.7 45.8L106.4 47.4M106.2 44.3L107.8 46.0M107.6 42.9L109.3 44.5M109.1 41.5L110.8 43.1M110.6 40.1L112.2 41.7M112.0 38.6L113.7 40.3M113.5 37.2L115.2 38.8M115.0 35.8L116.6 37.4M115.3 34.1L117.1 35.0M79.7 27.8L78.1 28.7M78.3 29.2L76.6 30.1M76.8 30.6L75.2 31.5M75.3 32.1L73.7 33.0M73.9 33.5L72.3 34.4M72.4 34.9L70.8 35.8M70.9 36.3L69.3 37.2M69.5 37.8L67.9 38.6M68.0 39.2L66.4 40.1M66.5 40.6L64.9 41.5M63.5 42.9L62.2 44.3M63.5 42.9L62.9 43.7M62.9 43.7L62.7 44.5M62.7 44.5L63.0 45.3M63.0 45.3L61.7 47.2M63.0 45.3L63.7 46.1M63.7 46.1L64.7 46.7M64.7 46.7L66.1 47.1M66.1 47.1L65.4 49.4M66.1 47.1L68.8 47.7M68.8 47.7L68.2 50.0M68.8 47.7L71.5 48.3M71.5 48.3L70.9 50.6M71.5 48.3L74.3 49.0M74.3 49.0L73.6 51.2M74.3 49.0L77.0 49.6M77.0 49.6L76.4 51.9M77.0 49.6L79.7 50.2M79.7 50.2L79.1 52.5M79.7 50.2L82.5 50.8M82.5 50.8L81.8 53.1M82.5 50.8L85.2 51.4M85.2 51.4L84.6 53.7M85.2 51.4L87.9 52.1M87.9 52.1L87.3 54.3M87.9 52.1L90.7 52.7M90.7 52.7L90.0 55.0M90.7 52.7L93.4 53.3M93.4 53.3L92.8 55.6M93.4 53.3L94.9 53.5M94.9 53.5L96.6 53.5M96.6 53.5L98.2 53.3M98.2 53.3L98.7 55.6M98.2 53.3L99.7 52.9M99.7 52.9L101.0 52.4M101.0 52.4L102.0 51.6M102.0 51.6L103.3 53.6M102.0 51.6L103.4 50.2M103.4 50.2L104.7 52.1M103.4 50.2L104.9 48.8M104.9 48.8L106.2 50.7M104.9 48.8L106.4 47.4M106.4 47.4L107.7 49.3M106.4 47.4L107.8 46.0M107.8 46.0L109.1 47.9M107.8 46.0L109.3 44.5M109.3 44.5L110.6 46.5M109.3 44.5L110.8 43.1M110.8 43.1L112.1 45.0M110.8 43.1L112.2 41.7M112.2 41.7L113.5 43.6M112.2 41.7L113.7 40.3M113.7 40.3L115.0 42.2M113.7 40.3L115.2 38.8M115.2 38.8L116.5 40.8M115.2 38.8L116.6 37.4M116.6 37.4L117.9 39.3M116.6 37.4L117.2 36.6M117.2 36.6L117.4 35.8M117.4 35.8L117.1 35.0M117.1 35.0L118.5 36.4M117.1 35.0L116.4 34.3M61.7 47.2L60.8 49.3M65.4 49.4L65.0 51.7M68.2 50.0L67.8 52.3M70.9 50.6L70.5 52.9M73.6 51.2L73.2 53.6M76.4 51.9L76.0 54.2M79.1 52.5L78.7 54.8M81.8 53.1L81.4 55.4M84.6 53.7L84.2 56.0M87.3 54.3L86.9 56.7M90.0 55.0L89.6 57.3M92.8 55.6L92.4 57.9M98.7 55.6L99.0 58.0M103.3 53.6L104.1 55.7M104.7 52.1L105.6 54.2M106.2 50.7L107.0 52.8M107.7 49.3L108.5 51.4M109.1 47.9L110.0 50.0M110.6 46.5L111.4 48.5M112.1 45.0L112.9 47.1M113.5 43.6L114.4 45.7M115.0 42.2L115.8 44.3M116.5 40.8L117.3 42.8M117.9 39.3L118.8 41.4M60.8 49.3L60.6 51.4M65.0 51.7L65.0 53.9M67.8 52.3L67.7 54.5M70.5 52.9L70.4 55.1M73.2 53.6L73.1 55.8M76.0 54.2L75.9 56.4M78.7 54.8L78.6 57.0M81.4 55.4L81.3 57.6M84.2 56.0L84.1 58.2M86.9 56.7L86.8 58.8M89.6 57.3L89.5 59.5M92.4 57.9L92.3 60.1M99.0 58.0L99.1 60.1M104.1 55.7L104.4 57.8M105.6 54.2L105.9 56.3M107.0 52.8L107.4 54.9M108.5 51.4L108.8 53.5M110.0 50.0L110.3 52.1M111.4 48.5L111.7 50.6M112.9 47.1L113.2 49.2M114.4 45.7L114.7 47.8M115.8 44.3L116.1 46.4M117.3 42.8L117.6 45.0M118.8 41.4L119.1 43.5M60.2 50.3L60.6 51.4M60.6 51.4L60.7 54.1M60.6 51.4L61.6 52.4M61.6 52.4L63.0 53.3M63.0 53.3L65.0 53.9M65.0 53.9L65.0 56.6M65.0 53.9L67.7 54.5M67.7 54.5L67.7 57.2M67.7 54.5L70.4 55.1M70.4 55.1L70.5 57.9M70.4 55.1L73.1 55.8M73.1 55.8L73.2 58.5M73.1 55.8L75.9 56.4M75.9 56.4L75.9 59.1M75.9 56.4L78.6 57.0M78.6 57.0L78.7 59.7M78.6 57.0L81.3 57.6M81.3 57.6L81.4 60.3M81.3 57.6L84.1 58.2M84.1 58.2L84.1 61.0M84.1 58.2L86.8 58.8M86.8 58.8L86.9 61.6M86.8 58.8L89.5 59.5M89.5 59.5L89.6 62.2M89.5 59.5L92.3 60.1M92.3 60.1L92.3 62.8M92.3 60.1L94.5 60.4M94.5 60.4L96.8 60.4M96.8 60.4L99.1 60.1M99.1 60.1L99.2 62.9M99.1 60.1L101.2 59.6M101.2 59.6L103.1 58.8M103.1 58.8L104.4 57.8M104.4 57.8L104.5 60.5M104.4 57.8L105.9 56.3M105.9 56.3L106.0 59.1M105.9 56.3L107.4 54.9M107.4 54.9L107.4 57.6M107.4 54.9L108.8 53.5M108.8 53.5L108.9 56.2M108.8 53.5L110.3 52.1M110.3 52.1L110.3 54.8M110.3 52.1L111.7 50.6M111.7 50.6L111.8 53.4M111.7 50.6L113.2 49.2M113.2 49.2L113.3 52.0M113.2 49.2L114.7 47.8M114.7 47.8L114.7 50.5M114.7 47.8L116.1 46.4M116.1 46.4L116.2 49.1M116.1 46.4L117.6 45.0M117.6 45.0L117.7 47.7M117.6 45.0L119.1 43.5M119.1 43.5L119.1 46.3M119.1 43.5L119.9 42.4M119.9 42.4L120.1 41.2M60.3 53.0L60.7 54.1M60.7 54.1L60.7 56.9M60.7 54.1L61.6 55.2M61.6 55.2L63.1 56.0M63.1 56.0L65.0 56.6M65.0 56.6L65.1 59.4M65.0 56.6L67.7 57.2M67.7 57.2L67.8 60.0M67.7 57.2L70.5 57.9M70.5 57.9L70.5 60.6M70.5 57.9L73.2 58.5M73.2 58.5L73.3 61.2M73.2 58.5L75.9 59.1M75.9 59.1L76.0 61.8M75.9 59.1L78.7 59.7M78.7 59.7L78.7 62.4M78.7 59.7L81.4 60.3M81.4 60.3L81.5 63.1M81.4 60.3L84.1 61.0M84.1 61.0L84.2 63.7M84.1 61.0L86.9 61.6M86.9 61.6L86.9 64.3M86.9 61.6L89.6 62.2M89.6 62.2L89.7 64.9M89.6 62.2L92.3 62.8M92.3 62.8L92.4 65.5M92.3 62.8L94.5 63.1M94.5 63.1L96.9 63.2M96.9 63.2L99.2 62.9M99.2 62.9L99.2 65.6M99.2 62.9L101.3 62.3M101.3 62.3L103.1 61.5M103.1 61.5L104.5 60.5M104.5 60.5L104.6 63.2M104.5 60.5L106.0 59.1M106.0 59.1L106.0 61.8M106.0 59.1L107.4 57.6M107.4 57.6L107.5 60.4M107.4 57.6L108.9 56.2M108.9 56.2L108.9 58.9M108.9 56.2L110.3 54.8M110.3 54.8L110.4 57.5M110.3 54.8L111.8 53.4M111.8 53.4L111.9 56.1M111.8 53.4L113.3 52.0M113.3 52.0L113.3 54.7M113.3 52.0L114.7 50.5M114.7 50.5L114.8 53.3M114.7 50.5L116.2 49.1M116.2 49.1L116.3 51.8M116.2 49.1L117.7 47.7M117.7 47.7L117.7 50.4M117.7 47.7L119.1 46.3M119.1 46.3L119.2 49.0M119.1 46.3L120.0 45.1M120.0 45.1L120.2 44.0M60.4 55.7L60.7 56.9M60.7 56.9L60.8 59.6M60.7 56.9L61.7 57.9M61.7 57.9L63.2 58.7M63.2 58.7L65.1 59.4M65.1 59.4L65.1 62.1M65.1 59.4L67.8 60.0M67.8 60.0L67.9 62.7M67.8 60.0L70.5 60.6M70.5 60.6L70.6 63.3M70.5 60.6L73.3 61.2M73.3 61.2L73.3 63.9M73.3 61.2L76.0 61.8M76.0 61.8L76.1 64.6M76.0 61.8L78.7 62.4M78.7 62.4L78.8 65.2M78.7 62.4L81.5 63.1M81.5 63.1L81.5 65.8M81.5 63.1L84.2 63.7M84.2 63.7L84.3 66.4M84.2 63.7L86.9 64.3M86.9 64.3L87.0 67.0M86.9 64.3L89.7 64.9M89.7 64.9L89.7 67.7M89.7 64.9L92.4 65.5M92.4 65.5L92.5 68.3M92.4 65.5L94.6 65.9M94.6 65.9L96.9 65.9M96.9 65.9L99.2 65.6M99.2 65.6L99.3 68.3M99.2 65.6L101.4 65.0M101.4 65.0L103.2 64.2M103.2 64.2L104.6 63.2M104.6 63.2L104.6 65.9M104.6 63.2L106.0 61.8M106.0 61.8L106.1 64.5M106.0 61.8L107.5 60.4M107.5 60.4L107.5 63.1M107.5 60.4L108.9 58.9M108.9 58.9L109.0 61.7M108.9 58.9L110.4 57.5M110.4 57.5L110.5 60.3M110.4 57.5L111.9 56.1M111.9 56.1L111.9 58.8M111.9 56.1L113.3 54.7M113.3 54.7L113.4 57.4M113.3 54.7L114.8 53.3M114.8 53.3L114.9 56.0M114.8 53.3L116.3 51.8M116.3 51.8L116.3 54.6M116.3 51.8L117.7 50.4M117.7 50.4L117.8 53.1M117.7 50.4L119.2 49.0M119.2 49.0L119.3 51.7M119.2 49.0L120.0 47.9M120.0 47.9L120.3 46.7M60.4 58.5L60.8 59.6M60.8 59.6L60.9 62.3M60.8 59.6L61.8 60.6M61.8 60.6L63.2 61.5M63.2 61.5L65.1 62.1M65.1 62.1L65.2 64.8M65.1 62.1L67.9 62.7M67.9 62.7L67.9 65.4M67.9 62.7L70.6 63.3M70.6 63.3L70.7 66.0M70.6 63.3L73.3 63.9M73.3 63.9L73.4 66.7M73.3 63.9L76.1 64.6M76.1 64.6L76.1 67.3M76.1 64.6L78.8 65.2M78.8 65.2L78.9 67.9M78.8 65.2L81.5 65.8M81.5 65.8L81.6 68.5M81.5 65.8L84.3 66.4M84.3 66.4L84.3 69.1M84.3 66.4L87.0 67.0M87.0 67.0L87.1 69.8M87.0 67.0L89.7 67.7M89.7 67.7L89.8 70.4M89.7 67.7L92.5 68.3M92.5 68.3L92.5 71.0M92.5 68.3L94.7 68.6M94.7 68.6L97.0 68.6M97.0 68.6L99.3 68.3M99.3 68.3L99.4 71.1M99.3 68.3L101.4 67.8M101.4 67.8L103.3 67.0M103.3 67.0L104.6 65.9M104.6 65.9L104.7 68.7M104.6 65.9L106.1 64.5M106.1 64.5L106.2 67.3M106.1 64.5L107.5 63.1M107.5 63.1L107.6 65.8M107.5 63.1L109.0 61.7M109.0 61.7L109.1 64.4M109.0 61.7L110.5 60.3M110.5 60.3L110.5 63.0M110.5 60.3L111.9 58.8M111.9 58.8L112.0 61.6M111.9 58.8L113.4 57.4M113.4 57.4L113.5 60.1M113.4 57.4L114.9 56.0M114.9 56.0L114.9 58.7M114.9 56.0L116.3 54.6M116.3 54.6L116.4 57.3M116.3 54.6L117.8 53.1M117.8 53.1L117.9 55.9M117.8 53.1L119.3 51.7M119.3 51.7L119.3 54.4M119.3 51.7L120.1 50.6M120.1 50.6L120.3 49.4M60.5 61.2L60.9 62.3M60.9 62.3L60.9 65.1M60.9 62.3L61.8 63.4M61.8 63.4L63.3 64.2M63.3 64.2L65.2 64.8M65.2 64.8L65.3 67.5M65.2 64.8L67.9 65.4M67.9 65.4L68.0 68.2M67.9 65.4L70.7 66.0M70.7 66.0L70.7 68.8M70.7 66.0L73.4 66.7M73.4 66.7L73.5 69.4M73.4 66.7L76.1 67.3M76.1 67.3L76.2 70.0M76.1 67.3L78.9 67.9M78.9 67.9L78.9 70.6M78.9 67.9L81.6 68.5M81.6 68.5L81.7 71.3M81.6 68.5L84.3 69.1M84.3 69.1L84.4 71.9M84.3 69.1L87.1 69.8M87.1 69.8L87.1 72.5M87.1 69.8L89.8 70.4M89.8 70.4L89.9 73.1M89.8 70.4L92.5 71.0M92.5 71.0L92.6 73.7M92.5 71.0L94.7 71.3M94.7 71.3L97.1 71.3M97.1 71.3L99.4 71.1M99.4 71.1L99.4 73.8M99.4 71.1L101.5 70.5M101.5 70.5L103.3 69.7M103.3 69.7L104.7 68.7M104.7 68.7L104.8 71.4M104.7 68.7L106.2 67.3M106.2 67.3L106.2 70.0M106.2 67.3L107.6 65.8M107.6 65.8L107.7 68.6M107.6 65.8L109.1 64.4M109.1 64.4L109.1 67.1M109.1 64.4L110.5 63.0M110.5 63.0L110.6 65.7M110.5 63.0L112.0 61.6M112.0 61.6L112.1 64.3M112.0 61.6L113.5 60.1M113.5 60.1L113.5 62.9M113.5 60.1L114.9 58.7M114.9 58.7L115.0 61.4M114.9 58.7L116.4 57.3M116.4 57.3L116.5 60.0M116.4 57.3L117.9 55.9M117.9 55.9L117.9 58.6M117.9 55.9L119.3 54.4M119.3 54.4L119.4 57.2M119.3 54.4L120.2 53.3M120.2 53.3L120.4 52.1M60.5 63.9L60.9 65.1M60.9 65.1L61.0 67.8M60.9 65.1L61.9 66.1M61.9 66.1L63.4 66.9M63.4 66.9L65.3 67.5M65.3 67.5L65.3 70.3M65.3 67.5L68.0 68.2M68.0 68.2L68.1 70.9M68.0 68.2L70.7 68.8M70.7 68.8L70.8 71.5M70.7 68.8L73.5 69.4M73.5 69.4L73.5 72.1M73.5 69.4L76.2 70.0M76.2 70.0L76.3 72.7M76.2 70.0L78.9 70.6M78.9 70.6L79.0 73.4M78.9 70.6L81.7 71.3M81.7 71.3L81.7 74.0M81.7 71.3L84.4 71.9M84.4 71.9L84.5 74.6M84.4 71.9L87.1 72.5M87.1 72.5L87.2 75.2M87.1 72.5L89.9 73.1M89.9 73.1L89.9 75.8M89.9 73.1L92.6 73.7M92.6 73.7L92.7 76.5M92.6 73.7L94.8 74.1M94.8 74.1L97.1 74.1M97.1 74.1L99.4 73.8M99.4 73.8L99.5 76.5M99.4 73.8L101.6 73.2M101.6 73.2L103.4 72.4M103.4 72.4L104.8 71.4M104.8 71.4L104.8 74.1M104.8 71.4L106.2 70.0M106.2 70.0L106.3 72.7M106.2 70.0L107.7 68.6M107.7 68.6L107.7 71.3M107.7 68.6L109.1 67.1M109.1 67.1L109.2 69.9M109.1 67.1L110.6 65.7M110.6 65.7L110.7 68.4M110.6 65.7L112.1 64.3M112.1 64.3L112.1 67.0M112.1 64.3L113.5 62.9M113.5 62.9L113.6 65.6M113.5 62.9L115.0 61.4M115.0 61.4L115.1 64.2M115.0 61.4L116.5 60.0M116.5 60.0L116.5 62.8M116.5 60.0L117.9 58.6M117.9 58.6L118.0 61.3M117.9 58.6L119.4 57.2M119.4 57.2L119.5 59.9M119.4 57.2L120.2 56.0M120.2 56.0L120.5 54.9M60.6 66.7L61.0 67.8M61.0 67.8L61.1 70.5M61.0 67.8L62.0 68.8M62.0 68.8L63.4 69.7M63.4 69.7L65.3 70.3M65.3 70.3L65.4 73.0M65.3 70.3L68.1 70.9M68.1 70.9L68.1 73.6M68.1 70.9L70.8 71.5M70.8 71.5L70.9 74.2M70.8 71.5L73.5 72.1M73.5 72.1L73.6 74.9M73.5 72.1L76.3 72.7M76.3 72.7L76.3 75.5M76.3 72.7L79.0 73.4M79.0 73.4L79.1 76.1M79.0 73.4L81.7 74.0M81.7 74.0L81.8 76.7M81.7 74.0L84.5 74.6M84.5 74.6L84.5 77.3M84.5 74.6L87.2 75.2M87.2 75.2L87.3 78.0M87.2 75.2L89.9 75.8M89.9 75.8L90.0 78.6M89.9 75.8L92.7 76.5M92.7 76.5L92.7 79.2M92.7 76.5L94.9 76.8M94.9 76.8L97.2 76.8M97.2 76.8L99.5 76.5M99.5 76.5L99.6 79.3M99.5 76.5L101.6 76.0M101.6 76.0L103.4 75.1M103.4 75.1L104.8 74.1M104.8 74.1L104.9 76.9M104.8 74.1L106.3 72.7M106.3 72.7L106.3 75.4M106.3 72.7L107.7 71.3M107.7 71.3L107.8 74.0M107.7 71.3L109.2 69.9M109.2 69.9L109.3 72.6M109.2 69.9L110.7 68.4M110.7 68.4L110.7 71.2M110.7 68.4L112.1 67.0M112.1 67.0L112.2 69.7M112.1 67.0L113.6 65.6M113.6 65.6L113.7 68.3M113.6 65.6L115.1 64.2M115.1 64.2L115.1 66.9M115.1 64.2L116.5 62.8M116.5 62.8L116.6 65.5M116.5 62.8L118.0 61.3M118.0 61.3L118.1 64.1M118.0 61.3L119.5 59.9M119.5 59.9L119.5 62.6M119.5 59.9L120.3 58.8M120.3 58.8L120.5 57.6M60.7 69.4L61.1 70.5M61.1 70.5L61.1 73.3M61.1 70.5L62.0 71.5M62.0 71.5L63.5 72.4M63.5 72.4L65.4 73.0M65.4 73.0L65.5 75.7M65.4 73.0L68.1 73.6M68.1 73.6L68.2 76.3M68.1 73.6L70.9 74.2M70.9 74.2L70.9 77.0M70.9 74.2L73.6 74.9M73.6 74.9L73.7 77.6M73.6 74.9L76.3 75.5M76.3 75.5L76.4 78.2M76.3 75.5L79.1 76.1M79.1 76.1L79.1 78.8M79.1 76.1L81.8 76.7M81.8 76.7L81.9 79.4M81.8 76.7L84.5 77.3M84.5 77.3L84.6 80.1M84.5 77.3L87.3 78.0M87.3 78.0L87.3 80.7M87.3 78.0L90.0 78.6M90.0 78.6L90.1 81.3M90.0 78.6L92.7 79.2M92.7 79.2L92.8 81.9M92.7 79.2L94.9 79.5M94.9 79.5L97.3 79.5M97.3 79.5L99.6 79.3M99.6 79.3L99.6 82.0M99.6 79.3L101.7 78.7M101.7 78.7L103.5 77.9M103.5 77.9L104.9 76.9M104.9 76.9L104.9 79.6M104.9 76.9L106.3 75.4M106.3 75.4L106.4 78.2M106.3 75.4L107.8 74.0M107.8 74.0L107.9 76.7M107.8 74.0L109.3 72.6M109.3 72.6L109.3 75.3M109.3 72.6L110.7 71.2M110.7 71.2L110.8 73.9M110.7 71.2L112.2 69.7M112.2 69.7L112.3 72.5M112.2 69.7L113.7 68.3M113.7 68.3L113.7 71.1M113.7 68.3L115.1 66.9M115.1 66.9L115.2 69.6M115.1 66.9L116.6 65.5M116.6 65.5L116.7 68.2M116.6 65.5L118.1 64.1M118.1 64.1L118.1 66.8M118.1 64.1L119.5 62.6M119.5 62.6L119.6 65.4M119.5 62.6L120.4 61.5M120.4 61.5L120.6 60.3M60.7 72.1L61.1 73.3M61.1 73.3L61.2 76.0M61.1 73.3L62.1 74.3M62.1 74.3L63.6 75.1M63.6 75.1L65.5 75.7M65.5 75.7L65.5 78.5M65.5 75.7L68.2 76.3M68.2 76.3L68.3 79.1M68.2 76.3L70.9 77.0M70.9 77.0L71.0 79.7M70.9 77.0L73.7 77.6M73.7 77.6L73.7 80.3M73.7 77.6L76.4 78.2M76.4 78.2L76.5 80.9M76.4 78.2L79.1 78.8M79.1 78.8L79.2 81.6M79.1 78.8L81.9 79.4M81.9 79.4L81.9 82.2M81.9 79.4L84.6 80.1M84.6 80.1L84.7 82.8M84.6 80.1L87.3 80.7M87.3 80.7L87.4 83.4M87.3 80.7L90.1 81.3M90.1 81.3L90.1 84.0M90.1 81.3L92.8 81.9M92.8 81.9L92.9 84.7M92.8 81.9L95.0 82.2M95.0 82.2L97.3 82.3M97.3 82.3L99.6 82.0M99.6 82.0L99.7 84.7M99.6 82.0L101.8 81.4M101.8 81.4L103.6 80.6M103.6 80.6L104.9 79.6M104.9 79.6L105.0 82.3M104.9 79.6L106.4 78.2M106.4 78.2L106.5 80.9M106.4 78.2L107.9 76.7M107.9 76.7L107.9 79.5M107.9 76.7L109.3 75.3M109.3 75.3L109.4 78.1M109.3 75.3L110.8 73.9M110.8 73.9L110.9 76.6M110.8 73.9L112.3 72.5M112.3 72.5L112.3 75.2M112.3 72.5L113.7 71.1M113.7 71.1L113.8 73.8M113.7 71.1L115.2 69.6M115.2 69.6L115.3 72.4M115.2 69.6L116.7 68.2M116.7 68.2L116.7 70.9M116.7 68.2L118.1 66.8M118.1 66.8L118.2 69.5M118.1 66.8L119.6 65.4M119.6 65.4L119.7 68.1M119.6 65.4L120.4 64.2M120.4 64.2L120.6 63.1M60.8 74.8L61.2 76.0M61.2 76.0L61.2 78.7M61.2 76.0L62.1 77.0M62.1 77.0L63.6 77.9M63.6 77.9L65.5 78.5M65.5 78.5L65.6 81.2M65.5 78.5L68.3 79.1M68.3 79.1L68.3 81.8M68.3 79.1L71.0 79.7M71.0 79.7L71.1 82.4M71.0 79.7L73.7 80.3M73.7 80.3L73.8 83.0M73.7 80.3L76.5 80.9M76.5 80.9L76.5 83.7M76.5 80.9L79.2 81.6M79.2 81.6L79.3 84.3M79.2 81.6L81.9 82.2M81.9 82.2L82.0 84.9M81.9 82.2L84.7 82.8M84.7 82.8L84.7 85.5M84.7 82.8L87.4 83.4M87.4 83.4L87.5 86.1M87.4 83.4L90.1 84.0M90.1 84.0L90.2 86.8M90.1 84.0L92.9 84.7M92.9 84.7L92.9 87.4M92.9 84.7L95.1 85.0M95.1 85.0L97.4 85.0M97.4 85.0L99.7 84.7M99.7 84.7L99.8 87.4M99.7 84.7L101.8 84.1M101.8 84.1L103.6 83.3M103.6 83.3L105.0 82.3M105.0 82.3L105.1 85.1M105.0 82.3L106.5 80.9M106.5 80.9L106.5 83.6M106.5 80.9L107.9 79.5M107.9 79.5L108.0 82.2M107.9 79.5L109.4 78.1M109.4 78.1L109.5 80.8M109.4 78.1L110.9 76.6M110.9 76.6L110.9 79.4M110.9 76.6L112.3 75.2M112.3 75.2L112.4 77.9M112.3 75.2L113.8 73.8M113.8 73.8L113.9 76.5M113.8 73.8L115.3 72.4M115.3 72.4L115.3 75.1M115.3 72.4L116.7 70.9M116.7 70.9L116.8 73.7M116.7 70.9L118.2 69.5M118.2 69.5L118.3 72.2M118.2 69.5L119.7 68.1M119.7 68.1L119.7 70.8M119.7 68.1L120.5 67.0M120.5 67.0L120.7 65.8M60.9 77.6L61.2 78.7M61.2 78.7L61.6 80.7M61.2 78.7L62.2 79.7M62.2 79.7L63.7 80.6M63.7 80.6L65.6 81.2M65.6 81.2L65.8 83.1M65.6 81.2L68.3 81.8M68.3 81.8L68.5 83.7M68.3 81.8L71.1 82.4M71.1 82.4L71.3 84.3M71.1 82.4L73.8 83.0M73.8 83.0L74.0 84.9M73.8 83.0L76.5 83.7M76.5 83.7L76.7 85.6M76.5 83.7L79.3 84.3M79.3 84.3L79.5 86.2M79.3 84.3L82.0 84.9M82.0 84.9L82.2 86.8M82.0 84.9L84.7 85.5M84.7 85.5L84.9 87.4M84.7 85.5L87.5 86.1M87.5 86.1L87.7 88.0M87.5 86.1L90.2 86.8M90.2 86.8L90.4 88.7M90.2 86.8L92.9 87.4M92.9 87.4L93.1 89.3M92.9 87.4L95.1 87.7M95.1 87.7L97.4 87.7M97.4 87.7L99.8 87.4M99.8 87.4L99.7 89.3M99.8 87.4L101.9 86.9M101.9 86.9L103.7 86.1M103.7 86.1L105.1 85.1M105.1 85.1L104.9 87.0M105.1 85.1L106.5 83.6M106.5 83.6L106.3 85.6M106.5 83.6L108.0 82.2M108.0 82.2L107.8 84.2M108.0 82.2L109.5 80.8M109.5 80.8L109.2 82.8M109.5 80.8L110.9 79.4M110.9 79.4L110.7 81.3M110.9 79.4L112.4 77.9M112.4 77.9L112.2 79.9M112.4 77.9L113.9 76.5M113.9 76.5L113.6 78.5M113.9 76.5L115.3 75.1M115.3 75.1L115.1 77.1M115.3 75.1L116.8 73.7M116.8 73.7L116.6 75.7M116.8 73.7L118.3 72.2M118.3 72.2L118.0 74.2M118.3 72.2L119.7 70.8M119.7 70.8L119.5 72.8M119.7 70.8L120.5 69.7M120.5 69.7L120.8 68.5M61.6 80.7L62.5 82.4M65.8 83.1L66.3 84.6M68.5 83.7L69.0 85.2M71.3 84.3L71.7 85.8M74.0 84.9L74.5 86.4M76.7 85.6L77.2 87.1M79.5 86.2L79.9 87.7M82.2 86.8L82.7 88.3M84.9 87.4L85.4 88.9M87.7 88.0L88.1 89.5M90.4 88.7L90.9 90.2M93.1 89.3L93.6 90.8M99.7 89.3L99.5 90.8M104.9 87.0L104.1 88.8M106.3 85.6L105.6 87.3M107.8 84.2L107.0 85.9M109.2 82.8L108.5 84.5M110.7 81.3L110.0 83.1M112.2 79.9L111.4 81.6M113.6 78.5L112.9 80.2M115.1 77.1L114.4 78.8M116.6 75.7L115.8 77.4M118.0 74.2L117.3 76.0M119.5 72.8L118.8 74.5M66.3 84.6L67.0 85.6M69.0 85.2L69.7 86.2M71.7 85.8L72.4 86.8M74.5 86.4L75.2 87.4M77.2 87.1L77.9 88.0M79.9 87.7L80.6 88.7M82.7 88.3L83.4 89.3M85.4 88.9L86.1 89.9M88.1 89.5L88.8 90.5M90.9 90.2L91.6 91.1M93.6 90.8L94.3 91.8M99.5 90.8L99.1 91.8M104.1 88.8L102.9 90.1M105.6 87.3L104.4 88.7M107.0 85.9L105.8 87.3M108.5 84.5L107.3 85.8M110.0 83.1L108.7 84.4M111.4 81.6L110.2 83.0M112.9 80.2L111.7 81.6M114.4 78.8L113.1 80.2M115.8 77.4L114.6 78.7M117.3 76.0L116.1 77.3M65.6 85.1L67.0 85.6M67.0 85.6L67.9 86.0M67.0 85.6L69.7 86.2M69.7 86.2L70.6 86.6M69.7 86.2L72.4 86.8M72.4 86.8L73.3 87.2M72.4 86.8L75.2 87.4M75.2 87.4L76.1 87.8M75.2 87.4L77.9 88.0M77.9 88.0L78.8 88.4M77.9 88.0L80.6 88.7M80.6 88.7L81.5 89.1M80.6 88.7L83.4 89.3M83.4 89.3L84.3 89.7M83.4 89.3L86.1 89.9M86.1 89.9L87.0 90.3M86.1 89.9L88.8 90.5M88.8 90.5L89.7 90.9M88.8 90.5L91.6 91.1M91.6 91.1L92.5 91.5M91.6 91.1L94.3 91.8M94.3 91.8L95.2 92.2M94.3 91.8L95.8 92.0M95.8 92.0L97.5 92.0M97.5 92.0L99.1 91.8M99.1 91.8L98.6 92.2M99.1 91.8L100.6 91.4M100.6 91.4L101.9 90.8M69.0 41.9L71.7 42.5M69.0 41.9L70.5 40.4M71.7 42.5L73.2 41.1M73.2 41.1L70.5 40.4M70.5 40.4L73.2 41.1M70.5 40.4L71.9 39.0M73.2 41.1L74.7 39.6M74.7 39.6L71.9 39.0M71.9 39.0L74.7 39.6M71.9 39.0L73.4 37.6M74.7 39.6L76.1 38.2M76.1 38.2L73.4 37.6M73.4 37.6L76.1 38.2M73.4 37.6L74.9 36.2M76.1 38.2L77.6 36.8M77.6 36.8L74.9 36.2M74.9 36.2L77.6 36.8M74.9 36.2L76.3 34.8M77.6 36.8L79.1 35.4M79.1 35.4L76.3 34.8M76.3 34.8L79.1 35.4M76.3 34.8L77.8 33.3M79.1 35.4L80.5 34.0M80.5 34.0L77.8 33.3M77.8 33.3L80.5 34.0M77.8 33.3L79.3 31.9M80.5 34.0L82.0 32.5M82.0 32.5L79.3 31.9M79.3 31.9L82.0 32.5M79.3 31.9L80.7 30.5M82.0 32.5L83.5 31.1M83.5 31.1L80.7 30.5M80.7 30.5L83.5 31.1M80.7 30.5L82.2 29.1M83.5 31.1L84.9 29.7M84.9 29.7L82.2 29.1M82.2 29.1L84.9 29.7M82.2 29.1L83.6 27.6M84.9 29.7L86.4 28.3M86.4 28.3L83.6 27.6M71.7 42.5L74.5 43.1M71.7 42.5L73.2 41.1M74.5 43.1L75.9 41.7M75.9 41.7L73.2 41.1M73.2 41.1L75.9 41.7M73.2 41.1L74.7 39.6M75.9 41.7L77.4 40.3M77.4 40.3L74.7 39.6M74.7 39.6L77.4 40.3M74.7 39.6L76.1 38.2M77.4 40.3L78.9 38.8M78.9 38.8L76.1 38.2M76.1 38.2L78.9 38.8M76.1 38.2L77.6 36.8M78.9 38.8L80.3 37.4M80.3 37.4L77.6 36.8M77.6 36.8L80.3 37.4M77.6 36.8L79.1 35.4M80.3 37.4L81.8 36.0M81.8 36.0L79.1 35.4M79.1 35.4L81.8 36.0M79.1 35.4L80.5 34.0M81.8 36.0L83.3 34.6M83.3 34.6L80.5 34.0M80.5 34.0L83.3 34.6M80.5 34.0L82.0 32.5M83.3 34.6L84.7 33.1M84.7 33.1L82.0 32.5M82.0 32.5L84.7 33.1M82.0 32.5L83.5 31.1M84.7 33.1L86.2 31.7M86.2 31.7L83.5 31.1M83.5 31.1L86.2 31.7M83.5 31.1L84.9 29.7M86.2 31.7L87.6 30.3M87.6 30.3L84.9 29.7M84.9 29.7L87.6 30.3M84.9 29.7L86.4 28.3M87.6 30.3L89.1 28.9M89.1 28.9L86.4 28.3M74.5 43.1L77.2 43.7M74.5 43.1L75.9 41.7M77.2 43.7L78.7 42.3M78.7 42.3L75.9 41.7M75.9 41.7L78.7 42.3M75.9 41.7L77.4 40.3M78.7 42.3L80.1 40.9M80.1 40.9L77.4 40.3M77.4 40.3L80.1 40.9M77.4 40.3L78.9 38.8M80.1 40.9L81.6 39.5M81.6 39.5L78.9 38.8M78.9 38.8L81.6 39.5M78.9 38.8L80.3 37.4M81.6 39.5L83.1 38.0M83.1 38.0L80.3 37.4M80.3 37.4L83.1 38.0M80.3 37.4L81.8 36.0M83.1 38.0L84.5 36.6M84.5 36.6L81.8 36.0M81.8 36.0L84.5 36.6M81.8 36.0L83.3 34.6M84.5 36.6L86.0 35.2M86.0 35.2L83.3 34.6M83.3 34.6L86.0 35.2M83.3 34.6L84.7 33.1M86.0 35.2L87.5 33.8M87.5 33.8L84.7 33.1M84.7 33.1L87.5 33.8M84.7 33.1L86.2 31.7M87.5 33.8L88.9 32.3M88.9 32.3L86.2 31.7M86.2 31.7L88.9 32.3M86.2 31.7L87.6 30.3M88.9 32.3L90.4 30.9M90.4 30.9L87.6 30.3M87.6 30.3L90.4 30.9M87.6 30.3L89.1 28.9M90.4 30.9L91.8 29.5M91.8 29.5L89.1 28.9M77.2 43.7L79.9 44.4M77.2 43.7L78.7 42.3M79.9 44.4L81.4 42.9M81.4 42.9L78.7 42.3M78.7 42.3L81.4 42.9M78.7 42.3L80.1 40.9M81.4 42.9L82.9 41.5M82.9 41.5L80.1 40.9M80.1 40.9L82.9 41.5M80.1 40.9L81.6 39.5M82.9 41.5L84.3 40.1M84.3 40.1L81.6 39.5M81.6 39.5L84.3 40.1M81.6 39.5L83.1 38.0M84.3 40.1L85.8 38.7M85.8 38.7L83.1 38.0M83.1 38.0L85.8 38.7M83.1 38.0L84.5 36.6M85.8 38.7L87.3 37.2M87.3 37.2L84.5 36.6M84.5 36.6L87.3 37.2M84.5 36.6L86.0 35.2M87.3 37.2L88.7 35.8M88.7 35.8L86.0 35.2M86.0 35.2L88.7 35.8M86.0 35.2L87.5 33.8M88.7 35.8L90.2 34.4M90.2 34.4L87.5 33.8M87.5 33.8L90.2 34.4M87.5 33.8L88.9 32.3M90.2 34.4L91.6 33.0M91.6 33.0L88.9 32.3M88.9 32.3L91.6 33.0M88.9 32.3L90.4 30.9M91.6 33.0L93.1 31.5M93.1 31.5L90.4 30.9M90.4 30.9L93.1 31.5M90.4 30.9L91.8 29.5M93.1 31.5L94.6 30.1M94.6 30.1L91.8 29.5M79.9 44.4L82.7 45.0M79.9 44.4L81.4 42.9M82.7 45.0L84.1 43.5M84.1 43.5L81.4 42.9M81.4 42.9L84.1 43.5M81.4 42.9L82.9 41.5M84.1 43.5L85.6 42.1M85.6 42.1L82.9 41.5M82.9 41.5L85.6 42.1M82.9 41.5L84.3 40.1M85.6 42.1L87.1 40.7M87.1 40.7L84.3 40.1M84.3 40.1L87.1 40.7M84.3 40.1L85.8 38.7M87.1 40.7L88.5 39.3M88.5 39.3L85.8 38.7M85.8 38.7L88.5 39.3M85.8 38.7L87.3 37.2M88.5 39.3L90.0 37.9M90.0 37.9L87.3 37.2M87.3 37.2L90.0 37.9M87.3 37.2L88.7 35.8M90.0 37.9L91.5 36.4M91.5 36.4L88.7 35.8M88.7 35.8L91.5 36.4M88.7 35.8L90.2 34.4M91.5 36.4L92.9 35.0M92.9 35.0L90.2 34.4M90.2 34.4L92.9 35.0M90.2 34.4L91.6 33.0M92.9 35.0L94.4 33.6M94.4 33.6L91.6 33.0M91.6 33.0L94.4 33.6M91.6 33.0L93.1 31.5M94.4 33.6L95.8 32.2M95.8 32.2L93.1 31.5M93.1 31.5L95.8 32.2M93.1 31.5L94.6 30.1M95.8 32.2L97.3 30.7M97.3 30.7L94.6 30.1M82.7 45.0L85.4 45.6M82.7 45.0L84.1 43.5M85.4 45.6L86.9 44.2M86.9 44.2L84.1 43.5M84.1 43.5L86.9 44.2M84.1 43.5L85.6 42.1M86.9 44.2L88.3 42.7M88.3 42.7L85.6 42.1M85.6 42.1L88.3 42.7M85.6 42.1L87.1 40.7M88.3 42.7L89.8 41.3M89.8 41.3L87.1 40.7M87.1 40.7L89.8 41.3M87.1 40.7L88.5 39.3M89.8 41.3L91.3 39.9M91.3 39.9L88.5 39.3M88.5 39.3L91.3 39.9M88.5 39.3L90.0 37.9M91.3 39.9L92.7 38.5M92.7 38.5L90.0 37.9M90.0 37.9L92.7 38.5M90.0 37.9L91.5 36.4M92.7 38.5L94.2 37.0M94.2 37.0L91.5 36.4M91.5 36.4L94.2 37.0M91.5 36.4L92.9 35.0M94.2 37.0L95.7 35.6M95.7 35.6L92.9 35.0M92.9 35.0L95.7 35.6M92.9 35.0L94.4 33.6M95.7 35.6L97.1 34.2M97.1 34.2L94.4 33.6M94.4 33.6L97.1 34.2M94.4 33.6L95.8 32.2M97.1 34.2L98.6 32.8M98.6 32.8L95.8 32.2M95.8 32.2L98.6 32.8M95.8 32.2L97.3 30.7M98.6 32.8L100.0 31.4M100.0 31.4L97.3 30.7M85.4 45.6L88.1 46.2M85.4 45.6L86.9 44.2M88.1 46.2L89.6 44.8M89.6 44.8L86.9 44.2M86.9 44.2L89.6 44.8M86.9 44.2L88.3 42.7M89.6 44.8L91.1 43.4M91.1 43.4L88.3 42.7M88.3 42.7L91.1 43.4M88.3 42.7L89.8 41.3M91.1 43.4L92.5 41.9M92.5 41.9L89.8 41.3M89.8 41.3L92.5 41.9M89.8 41.3L91.3 39.9M92.5 41.9L94.0 40.5M94.0 40.5L91.3 39.9M91.3 39.9L94.0 40.5M91.3 39.9L92.7 38.5M94.0 40.5L95.5 39.1M95.5 39.1L92.7 38.5M92.7 38.5L95.5 39.1M92.7 38.5L94.2 37.0M95.5 39.1L96.9 37.7M96.9 37.7L94.2 37.0M94.2 37.0L96.9 37.7M94.2 37.0L95.7 35.6M96.9 37.7L98.4 36.2M98.4 36.2L95.7 35.6M95.7 35.6L98.4 36.2M95.7 35.6L97.1 34.2M98.4 36.2L99.8 34.8M99.8 34.8L97.1 34.2M97.1 34.2L99.8 34.8M97.1 34.2L98.6 32.8M99.8 34.8L101.3 33.4M101.3 33.4L98.6 32.8M98.6 32.8L101.3 33.4M98.6 32.8L100.0 31.4M101.3 33.4L102.8 32.0M102.8 32.0L100.0 31.4M88.1 46.2L90.9 46.8M88.1 46.2L89.6 44.8M90.9 46.8L92.3 45.4M92.3 45.4L89.6 44.8M89.6 44.8L92.3 45.4M89.6 44.8L91.1 43.4M92.3 45.4L93.8 44.0M93.8 44.0L91.1 43.4M91.1 43.4L93.8 44.0M91.1 43.4L92.5 41.9M93.8 44.0L95.3 42.6M95.3 42.6L92.5 41.9M92.5 41.9L95.3 42.6M92.5 41.9L94.0 40.5M95.3 42.6L96.7 41.1M96.7 41.1L94.0 40.5M94.0 40.5L96.7 41.1M94.0 40.5L95.5 39.1M96.7 41.1L98.2 39.7M98.2 39.7L95.5 39.1M95.5 39.1L98.2 39.7M95.5 39.1L96.9 37.7M98.2 39.7L99.7 38.3M99.7 38.3L96.9 37.7M96.9 37.7L99.7 38.3M96.9 37.7L98.4 36.2M99.7 38.3L101.1 36.9M101.1 36.9L98.4 36.2M98.4 36.2L101.1 36.9M98.4 36.2L99.8 34.8M101.1 36.9L102.6 35.4M102.6 35.4L99.8 34.8M99.8 34.8L102.6 35.4M99.8 34.8L101.3 33.4M102.6 35.4L104.0 34.0M104.0 34.0L101.3 33.4M101.3 33.4L104.0 34.0M101.3 33.4L102.8 32.0M104.0 34.0L105.5 32.6M105.5 32.6L102.8 32.0M90.9 46.8L93.6 47.4M90.9 46.8L92.3 45.4M93.6 47.4L95.1 46.0M95.1 46.0L92.3 45.4M92.3 45.4L95.1 46.0M92.3 45.4L93.8 44.0M95.1 46.0L96.5 44.6M96.5 44.6L93.8 44.0M93.8 44.0L96.5 44.6M93.8 44.0L95.3 42.6M96.5 44.6L98.0 43.2M98.0 43.2L95.3 42.6M95.3 42.6L98.0 43.2M95.3 42.6L96.7 41.1M98.0 43.2L99.5 41.8M99.5 41.8L96.7 41.1M96.7 41.1L99.5 41.8M96.7 41.1L98.2 39.7M99.5 41.8L100.9 40.3M100.9 40.3L98.2 39.7M98.2 39.7L100.9 40.3M98.2 39.7L99.7 38.3M100.9 40.3L102.4 38.9M102.4 38.9L99.7 38.3M99.7 38.3L102.4 38.9M99.7 38.3L101.1 36.9M102.4 38.9L103.8 37.5M103.8 37.5L101.1 36.9M101.1 36.9L103.8 37.5M101.1 36.9L102.6 35.4M103.8 37.5L105.3 36.1M105.3 36.1L102.6 35.4M102.6 35.4L105.3 36.1M102.6 35.4L104.0 34.0M105.3 36.1L106.8 34.6M106.8 34.6L104.0 34.0M104.0 34.0L106.8 34.6M104.0 34.0L105.5 32.6M106.8 34.6L108.2 33.2M108.2 33.2L105.5 32.6M93.6 47.4L96.3 48.1M93.6 47.4L95.1 46.0M96.3 48.1L97.8 46.6M97.8 46.6L95.1 46.0M95.1 46.0L97.8 46.6M95.1 46.0L96.5 44.6M97.8 46.6L99.3 45.2M99.3 45.2L96.5 44.6M96.5 44.6L99.3 45.2M96.5 44.6L98.0 43.2M99.3 45.2L100.7 43.8M100.7 43.8L98.0 43.2M98.0 43.2L100.7 43.8M98.0 43.2L99.5 41.8M100.7 43.8L102.2 42.4M102.2 42.4L99.5 41.8M99.5 41.8L102.2 42.4M99.5 41.8L100.9 40.3M102.2 42.4L103.7 41.0M103.7 41.0L100.9 40.3M100.9 40.3L103.7 41.0M100.9 40.3L102.4 38.9M103.7 41.0L105.1 39.5M105.1 39.5L102.4 38.9M102.4 38.9L105.1 39.5M102.4 38.9L103.8 37.5M105.1 39.5L106.6 38.1M106.6 38.1L103.8 37.5M103.8 37.5L106.6 38.1M103.8 37.5L105.3 36.1M106.6 38.1L108.0 36.7M108.0 36.7L105.3 36.1M105.3 36.1L108.0 36.7M105.3 36.1L106.8 34.6M108.0 36.7L109.5 35.3M109.5 35.3L106.8 34.6M106.8 34.6L109.5 35.3M106.8 34.6L108.2 33.2M109.5 35.3L111.0 33.8M111.0 33.8L108.2 33.2" fill="none" stroke="#5a2cc0" stroke-width="0.45" stroke-opacity="0.55"/>
<line x1="89.04" y1="23.29" x2="117.26" y2="30.01" stroke="#111" stroke-width="1.10"/><polygon points="123.10,31.40 115.76,32.02 116.82,27.54" fill="#111"/><polygon points="83.20,21.90 89.48,25.76 90.54,21.28" fill="#111"/>
<line x1="131.90" y1="43.50" x2="131.90" y2="68.00" stroke="#111" stroke-width="1.10"/><polygon points="131.90,74.00 129.60,67.00 134.20,67.00" fill="#111"/><polygon points="131.90,37.50 129.60,44.50 134.20,44.50" fill="#111"/>
<line x1="31.10" y1="134.40" x2="31.10" y2="159.20" stroke="#111" stroke-width="1.10"/><polygon points="31.10,165.20 28.80,158.20 33.40,158.20" fill="#111"/><polygon points="31.10,128.40 28.80,135.40 33.40,135.40" fill="#111"/>
<line x1="24.18" y1="200.62" x2="156.62" y2="237.88" stroke="#111" stroke-width="1.10"/><polygon points="162.40,239.50 155.04,239.82 156.28,235.39" fill="#111"/><polygon points="18.40,199.00 24.52,203.11 25.76,198.68" fill="#111"/>
<text transform="translate(107.5 23.5) rotate(14.5)" font-family="'Liberation Sans', sans-serif" font-size="12.5" fill="#111" text-anchor="middle" >30 nm</text>
<text transform="translate(139.5 56.0) rotate(90.0)" font-family="'Liberation Sans', sans-serif" font-size="12.5" fill="#111" text-anchor="middle" >30 nm</text>
<text transform="translate(25.5 147.0) rotate(-90.0)" font-family="'Liberation Sans', sans-serif" font-size="12.5" fill="#111" text-anchor="middle" >30 nm</text>
<text transform="translate(78.0 229.0) rotate(15.7)" font-family="'Liberation Sans', sans-serif" font-size="12.5" fill="#111" text-anchor="middle" >90 nm</text></svg></body></html>
